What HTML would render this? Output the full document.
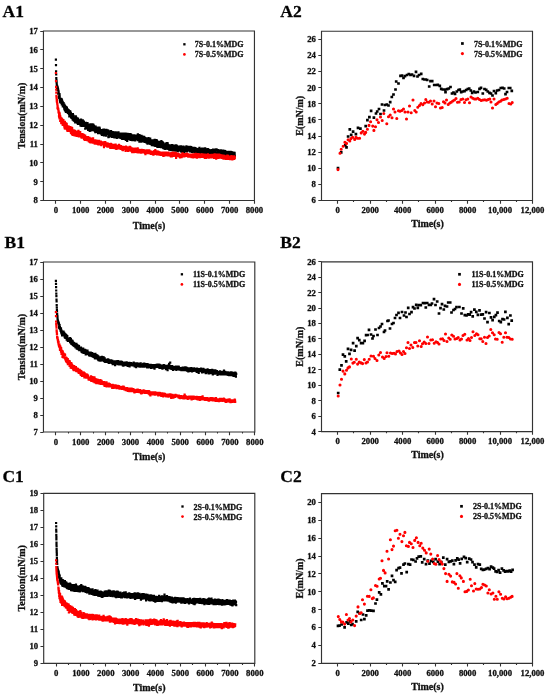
<!DOCTYPE html>
<html><head><meta charset="utf-8"><style>
html,body{margin:0;padding:0;background:#fff;width:550px;height:698px;overflow:hidden}
svg{display:block}
#w{will-change:transform;width:550px;height:698px}
text{font-family:"Liberation Serif", serif;font-weight:bold;fill:#111;stroke:#111;stroke-width:0.3px}
.tk{font-size:8.7px}
.at{font-size:10px}
.lg{font-size:8px}
.pl{font-size:17.5px;fill:#000}
</style></head><body>
<div id="w"><svg width="550" height="698" viewBox="0 0 550 698">
<rect width="550" height="698" fill="#fff"/>
<path d="M55.9,59.6h0M56.0,65.1h0M56.1,71.4h0M56.2,74.3h0M56.3,78.2h0M56.4,80.8h0M56.5,80.4h0M56.6,82.1h0M56.7,83.3h0M56.8,85.8h0M56.9,85.6h0M57.0,85.6h0M57.1,88.5h0M57.2,86.7h0M57.4,89.4h0M57.5,88.7h0M57.6,86.9h0M57.7,90.2h0M57.8,88.0h0M58.0,88.9h0M58.1,93.5h0M58.2,89.9h0M58.3,93.7h0M58.5,92.6h0M58.6,91.4h0M58.7,92.9h0M58.8,96.9h0M59.0,96.4h0M59.1,97.4h0M59.2,98.0h0M59.3,97.6h0M59.5,94.0h0M59.6,95.3h0M59.7,96.6h0M59.8,99.4h0M60.0,100.2h0M60.1,101.3h0M60.2,99.2h0M60.3,101.9h0M60.5,101.1h0M60.6,101.3h0M60.7,102.6h0M60.8,100.7h0M61.0,99.5h0M61.1,98.9h0M61.2,101.7h0M61.3,100.5h0M61.4,102.0h0M61.6,99.8h0M61.7,99.4h0M61.8,104.5h0M61.9,100.4h0M62.1,104.0h0M62.2,100.8h0M62.3,102.8h0M62.4,103.0h0M62.6,102.6h0M62.7,102.2h0M62.8,106.3h0M62.9,105.3h0M63.1,105.5h0M63.2,106.0h0M63.3,103.5h0M63.4,103.4h0M63.6,103.2h0M63.7,105.6h0M63.8,106.0h0M63.9,106.3h0M64.1,106.8h0M64.2,107.7h0M64.3,104.6h0M64.4,109.1h0M64.6,107.3h0M64.7,105.5h0M64.8,109.3h0M64.9,109.2h0M65.0,110.5h0M65.2,106.1h0M65.3,107.8h0M65.4,108.7h0M65.5,107.5h0M65.7,110.6h0M65.8,107.2h0M65.9,111.9h0M66.0,107.0h0M66.2,109.0h0M66.3,111.6h0M66.4,111.0h0M66.5,112.0h0M66.7,111.4h0M66.8,108.8h0M66.9,107.6h0M67.0,111.0h0M67.2,109.0h0M67.3,110.4h0M67.4,110.0h0M67.5,111.6h0M67.7,109.5h0M67.8,113.0h0M67.9,110.8h0M68.0,111.5h0M68.1,110.5h0M68.3,111.1h0M68.4,110.2h0M68.5,111.1h0M68.6,111.5h0M68.8,110.6h0M68.9,114.0h0M69.0,113.8h0M69.1,111.7h0M69.3,116.3h0M69.4,112.5h0M69.5,114.8h0M69.6,111.1h0M69.8,115.5h0M69.9,113.4h0M70.0,111.6h0M70.1,114.0h0M70.3,116.1h0M70.4,111.6h0M70.5,113.3h0M70.6,113.1h0M70.8,116.2h0M70.9,113.4h0M71.0,114.9h0M71.1,117.4h0M71.3,117.2h0M71.4,117.2h0M71.5,116.4h0M71.6,114.6h0M71.7,116.7h0M71.9,117.9h0M72.0,116.0h0M72.1,117.7h0M72.2,117.4h0M72.4,114.6h0M72.5,115.6h0M72.6,119.4h0M72.7,118.9h0M72.9,114.1h0M73.0,115.7h0M73.1,119.7h0M73.2,116.4h0M73.4,115.7h0M73.5,116.0h0M73.6,117.5h0M73.7,120.4h0M73.9,118.0h0M74.0,118.4h0M74.1,120.6h0M74.2,118.9h0M74.4,118.7h0M74.5,118.3h0M74.6,119.7h0M74.7,120.1h0M74.9,121.1h0M75.0,120.3h0M75.1,120.1h0M75.2,122.4h0M75.3,117.9h0M75.5,119.3h0M75.6,120.0h0M75.7,118.1h0M75.8,116.4h0M76.0,120.7h0M76.1,121.6h0M76.2,117.7h0M76.3,118.4h0M76.5,118.0h0M76.6,120.8h0M76.7,118.3h0M76.8,121.7h0M77.0,119.7h0M77.1,121.7h0M77.2,122.7h0M77.3,119.5h0M77.5,119.4h0M77.6,120.8h0M77.7,123.4h0M77.8,119.2h0M78.0,118.6h0M78.1,123.9h0M78.2,121.6h0M78.3,122.9h0M78.5,119.9h0M78.6,119.9h0M78.7,120.8h0M78.8,121.6h0M78.9,123.6h0M79.1,123.4h0M79.2,124.0h0M79.3,123.5h0M79.4,123.3h0M79.6,120.4h0M79.7,120.3h0M79.8,124.0h0M79.9,122.9h0M80.1,120.6h0M80.2,123.5h0M80.3,120.9h0M80.4,124.7h0M80.6,125.6h0M80.7,121.9h0M80.8,124.7h0M80.9,121.2h0M81.1,119.6h0M81.2,124.2h0M81.3,121.8h0M81.4,123.3h0M81.6,121.3h0M81.7,125.2h0M81.8,124.7h0M81.9,125.9h0M82.1,124.8h0M82.2,125.2h0M82.3,121.3h0M82.4,121.2h0M82.5,122.6h0M82.7,123.4h0M82.8,120.4h0M82.9,123.8h0M83.0,125.9h0M83.2,123.2h0M83.3,123.8h0M83.4,125.7h0M83.5,125.4h0M83.7,122.2h0M83.8,122.0h0M83.9,121.7h0M84.0,124.1h0M84.2,124.6h0M84.3,123.4h0M84.4,124.2h0M84.5,125.8h0M84.7,124.2h0M84.8,125.5h0M84.9,122.9h0M85.0,124.3h0M85.2,128.7h0M85.3,123.1h0M85.4,122.8h0M85.5,124.0h0M85.7,123.3h0M85.8,126.2h0M85.9,127.5h0M86.0,122.8h0M86.1,124.6h0M86.3,125.5h0M86.4,128.4h0M86.5,126.3h0M86.6,126.3h0M86.8,123.6h0M86.9,124.3h0M87.0,127.4h0M87.1,123.8h0M87.3,126.0h0M87.4,126.6h0M87.5,123.2h0M87.6,126.1h0M87.8,125.4h0M87.9,125.5h0M88.0,124.6h0M88.1,130.0h0M88.3,127.5h0M88.4,129.6h0M88.5,127.1h0M88.6,127.2h0M88.8,125.4h0M88.9,125.8h0M89.0,126.9h0M89.1,128.2h0M89.2,126.4h0M89.4,129.3h0M89.5,129.1h0M89.6,128.8h0M89.7,130.8h0M89.9,130.4h0M90.0,126.3h0M90.1,124.7h0M90.2,126.2h0M90.4,125.8h0M90.5,127.2h0M90.6,125.5h0M90.7,124.4h0M90.9,125.0h0M91.0,127.7h0M91.1,125.6h0M91.2,125.9h0M91.4,128.4h0M91.5,130.4h0M91.6,126.6h0M91.7,128.2h0M91.9,124.9h0M92.0,125.6h0M92.1,127.5h0M92.2,125.6h0M92.4,130.0h0M92.5,129.1h0M92.6,124.3h0M92.7,128.7h0M92.8,127.3h0M93.0,129.1h0M93.1,127.9h0M93.2,129.3h0M93.3,127.8h0M93.5,124.9h0M93.6,129.2h0M93.7,127.5h0M93.8,128.3h0M94.0,129.7h0M94.1,126.1h0M94.2,127.0h0M94.3,126.9h0M94.5,129.3h0M94.6,130.8h0M94.7,126.7h0M94.8,127.8h0M95.0,128.3h0M95.1,128.8h0M95.2,129.9h0M95.3,132.1h0M95.5,129.2h0M95.6,126.7h0M95.7,126.5h0M95.8,132.0h0M96.0,128.6h0M96.1,127.8h0M96.2,129.3h0M96.3,129.6h0M96.4,128.1h0M96.6,131.5h0M96.7,129.3h0M96.8,130.1h0M96.9,130.4h0M97.1,130.4h0M97.2,129.7h0M97.3,128.4h0M97.4,128.5h0M97.6,128.9h0M97.7,130.3h0M97.8,129.5h0M97.9,132.2h0M98.1,133.2h0M98.2,129.5h0M98.3,127.5h0M98.4,132.2h0M98.6,129.0h0M98.7,128.9h0M98.8,131.4h0M98.9,130.6h0M99.1,132.0h0M99.2,127.7h0M99.3,129.1h0M99.4,127.5h0M99.6,128.1h0M99.7,132.5h0M99.8,133.0h0M99.9,129.4h0M100.0,133.2h0M100.2,132.0h0M100.3,131.8h0M100.4,133.0h0M100.5,132.8h0M100.7,131.6h0M100.8,130.4h0M100.9,131.5h0M101.0,132.8h0M101.2,133.7h0M101.3,130.3h0M101.4,130.6h0M101.5,132.5h0M101.7,130.2h0M101.8,132.3h0M101.9,135.0h0M102.0,133.8h0M102.2,133.7h0M102.3,134.4h0M102.4,132.2h0M102.5,130.1h0M102.7,133.7h0M102.8,131.5h0M102.9,132.6h0M103.0,130.0h0M103.2,131.4h0M103.3,130.2h0M103.4,129.7h0M103.5,130.5h0M103.6,130.3h0M103.8,133.4h0M103.9,135.4h0M104.0,129.6h0M104.1,135.1h0M104.3,131.7h0M104.4,131.5h0M104.5,133.7h0M104.6,132.0h0M104.8,130.4h0M104.9,130.8h0M105.0,131.1h0M105.1,130.7h0M105.3,130.5h0M105.4,130.9h0M105.5,132.2h0M105.6,135.5h0M105.8,130.7h0M105.9,132.8h0M106.0,135.1h0M106.1,135.7h0M106.3,129.9h0M106.4,129.8h0M106.5,134.6h0M106.6,131.0h0M106.8,132.8h0M106.9,133.5h0M107.0,133.0h0M107.1,132.5h0M107.2,134.4h0M107.4,130.8h0M107.5,130.4h0M107.6,131.2h0M107.7,132.5h0M107.9,134.0h0M108.0,133.4h0M108.1,131.6h0M108.2,130.7h0M108.4,137.1h0M108.5,132.2h0M108.6,132.6h0M108.7,131.9h0M108.9,131.9h0M109.0,136.6h0M109.1,132.5h0M109.2,135.5h0M109.4,135.4h0M109.5,132.3h0M109.6,131.4h0M109.7,132.2h0M109.9,133.7h0M110.0,133.9h0M110.1,132.5h0M110.2,133.1h0M110.3,135.8h0M110.5,132.9h0M110.6,133.4h0M110.7,135.1h0M110.8,136.0h0M111.0,135.6h0M111.1,131.0h0M111.2,133.2h0M111.3,135.7h0M111.5,133.9h0M111.6,134.9h0M111.7,137.0h0M111.8,135.1h0M112.0,134.1h0M112.1,134.0h0M112.2,136.4h0M112.3,135.9h0M112.5,136.7h0M112.6,132.3h0M112.7,132.1h0M112.8,132.5h0M113.0,133.0h0M113.1,135.0h0M113.2,134.1h0M113.3,135.6h0M113.5,136.8h0M113.6,134.4h0M113.7,132.4h0M113.8,135.0h0M113.9,134.9h0M114.1,136.4h0M114.2,135.4h0M114.3,133.3h0M114.4,137.3h0M114.6,133.8h0M114.7,136.7h0M114.8,132.3h0M114.9,134.0h0M115.1,135.6h0M115.2,135.4h0M115.3,134.9h0M115.4,132.9h0M115.6,132.4h0M115.7,132.7h0M115.8,133.6h0M115.9,134.9h0M116.1,133.0h0M116.2,132.7h0M116.3,134.1h0M116.4,132.7h0M116.6,136.1h0M116.7,137.3h0M116.8,137.8h0M116.9,136.2h0M117.1,136.3h0M117.2,136.9h0M117.3,136.9h0M117.4,136.2h0M117.5,134.0h0M117.7,133.9h0M117.8,133.3h0M117.9,137.1h0M118.0,137.3h0M118.2,137.1h0M118.3,136.6h0M118.4,136.4h0M118.5,132.4h0M118.7,134.3h0M118.8,133.6h0M118.9,133.7h0M119.0,134.9h0M119.2,136.9h0M119.3,135.7h0M119.4,135.2h0M119.5,134.3h0M119.7,137.0h0M119.8,134.1h0M119.9,133.7h0M120.0,137.2h0M120.2,134.2h0M120.3,135.9h0M120.4,137.6h0M120.5,138.0h0M120.7,137.8h0M120.8,135.9h0M120.9,137.8h0M121.0,136.7h0M121.1,135.0h0M121.3,136.1h0M121.4,133.7h0M121.5,134.2h0M121.6,135.3h0M121.8,138.4h0M121.9,137.0h0M122.0,138.0h0M122.1,134.5h0M122.3,138.8h0M122.4,134.7h0M122.5,139.0h0M122.6,137.2h0M122.8,138.7h0M122.9,135.1h0M123.0,135.6h0M123.1,134.8h0M123.3,137.0h0M123.4,135.3h0M123.5,135.0h0M123.6,133.7h0M123.8,135.1h0M123.9,134.6h0M124.0,138.8h0M124.1,136.4h0M124.3,135.2h0M124.4,134.4h0M124.5,137.3h0M124.6,136.4h0M124.7,133.6h0M124.9,137.2h0M125.0,138.7h0M125.1,139.1h0M125.2,139.1h0M125.4,134.7h0M125.5,134.8h0M125.6,133.7h0M125.7,138.2h0M125.9,137.5h0M126.0,139.9h0M126.1,135.4h0M126.2,138.8h0M126.4,134.1h0M126.5,139.7h0M126.6,139.3h0M126.7,139.4h0M126.9,137.6h0M127.0,138.1h0M127.1,135.2h0M127.2,141.0h0M127.4,136.1h0M127.5,133.9h0M127.6,136.0h0M127.7,138.8h0M127.9,136.3h0M128.0,138.7h0M128.1,136.4h0M128.2,138.0h0M128.3,138.9h0M128.5,136.2h0M128.6,136.5h0M128.7,135.3h0M128.8,134.0h0M129.0,139.1h0M129.1,138.2h0M129.2,134.7h0M129.3,136.8h0M129.5,135.3h0M129.6,134.6h0M129.7,138.7h0M129.8,137.1h0M130.0,138.1h0M130.1,134.8h0M130.2,137.7h0M130.3,134.2h0M130.5,139.8h0M130.6,139.2h0M130.7,138.3h0M130.8,138.5h0M131.0,137.5h0M131.1,134.5h0M131.2,137.7h0M131.3,135.6h0M131.4,138.6h0M131.6,140.0h0M131.7,139.7h0M131.8,137.6h0M131.9,137.8h0M132.1,135.5h0M132.2,135.4h0M132.3,140.2h0M132.4,136.0h0M132.6,137.0h0M132.7,137.8h0M132.8,137.6h0M132.9,138.9h0M133.1,136.7h0M133.2,138.8h0M133.3,136.8h0M133.4,139.6h0M133.6,138.6h0M133.7,138.2h0M133.8,138.7h0M133.9,135.7h0M134.1,135.3h0M134.2,140.2h0M134.3,136.5h0M134.4,136.2h0M134.6,136.9h0M134.7,139.3h0M134.8,137.5h0M134.9,136.1h0M135.0,139.6h0M135.2,140.4h0M135.3,138.8h0M135.4,137.2h0M135.5,135.8h0M135.7,135.7h0M135.8,138.6h0M135.9,136.4h0M136.0,135.7h0M136.2,136.4h0M136.3,138.4h0M136.4,138.5h0M136.5,139.3h0M136.7,135.7h0M136.8,135.8h0M136.9,136.4h0M137.0,138.6h0M137.2,137.7h0M137.3,135.6h0M137.4,138.9h0M137.5,139.3h0M137.7,138.6h0M137.8,134.8h0M137.9,134.4h0M138.0,140.1h0M138.2,136.5h0M138.3,137.4h0M138.4,138.4h0M138.5,139.1h0M138.6,138.0h0M138.8,138.9h0M138.9,137.3h0M139.0,137.6h0M139.1,139.5h0M139.3,138.8h0M139.4,141.6h0M139.5,135.2h0M139.6,140.0h0M139.8,136.0h0M139.9,139.2h0M140.0,136.8h0M140.1,138.0h0M140.3,139.3h0M140.4,138.2h0M140.5,138.9h0M140.6,136.0h0M140.8,139.8h0M140.9,141.6h0M141.0,138.3h0M141.1,141.3h0M141.3,137.4h0M141.4,137.6h0M141.5,135.9h0M141.6,138.0h0M141.8,141.5h0M141.9,138.8h0M142.0,139.7h0M142.1,137.7h0M142.2,137.0h0M142.4,140.2h0M142.5,136.6h0M142.6,140.8h0M142.7,140.7h0M142.9,137.3h0M143.0,137.8h0M143.1,140.4h0M143.2,139.0h0M143.4,138.3h0M143.5,138.4h0M143.6,137.8h0M143.7,141.3h0M143.9,138.4h0M144.0,139.5h0M144.1,136.9h0M144.2,137.8h0M144.4,139.5h0M144.5,137.8h0M144.6,141.5h0M144.7,142.0h0M144.9,140.4h0M145.0,137.9h0M145.1,139.7h0M145.2,141.2h0M145.4,139.4h0M145.5,141.5h0M145.6,140.3h0M145.7,139.7h0M145.8,139.1h0M146.0,141.4h0M146.1,138.3h0M146.2,141.3h0M146.3,139.6h0M146.5,142.5h0M146.6,142.4h0M146.7,142.6h0M146.8,142.1h0M147.0,141.9h0M147.1,140.4h0M147.2,139.1h0M147.3,141.9h0M147.5,143.7h0M147.6,139.4h0M147.7,138.8h0M147.8,140.1h0M148.0,143.2h0M148.1,141.2h0M148.2,140.0h0M148.3,141.2h0M148.5,138.1h0M148.6,142.4h0M148.7,140.7h0M148.8,139.4h0M148.9,140.9h0M149.1,141.7h0M149.2,143.4h0M149.3,142.4h0M149.4,142.0h0M149.6,140.0h0M149.7,140.7h0M149.8,140.9h0M149.9,139.1h0M150.1,140.0h0M150.2,138.7h0M150.3,143.8h0M150.4,143.1h0M150.6,142.1h0M150.7,142.0h0M150.8,142.8h0M150.9,142.1h0M151.1,144.0h0M151.2,140.6h0M151.3,144.2h0M151.4,140.4h0M151.6,143.9h0M151.7,142.7h0M151.8,141.1h0M151.9,145.1h0M152.1,144.9h0M152.2,140.5h0M152.3,141.1h0M152.4,144.1h0M152.5,143.9h0M152.7,140.3h0M152.8,143.0h0M152.9,145.2h0M153.0,143.6h0M153.2,144.3h0M153.3,142.1h0M153.4,142.0h0M153.5,143.1h0M153.7,141.5h0M153.8,145.4h0M153.9,140.9h0M154.0,141.4h0M154.2,142.8h0M154.3,142.8h0M154.4,143.6h0M154.5,141.1h0M154.7,139.9h0M154.8,140.2h0M154.9,142.7h0M155.0,140.6h0M155.2,141.2h0M155.3,145.8h0M155.4,144.2h0M155.5,144.2h0M155.7,143.1h0M155.8,144.2h0M155.9,140.8h0M156.0,142.9h0M156.1,144.6h0M156.3,140.2h0M156.4,141.8h0M156.5,144.1h0M156.6,143.4h0M156.8,141.5h0M156.9,140.7h0M157.0,141.4h0M157.1,145.0h0M157.3,141.7h0M157.4,146.8h0M157.5,142.8h0M157.6,143.0h0M157.8,143.6h0M157.9,143.9h0M158.0,143.3h0M158.1,146.7h0M158.3,143.6h0M158.4,146.5h0M158.5,141.9h0M158.6,146.5h0M158.8,146.2h0M158.9,144.0h0M159.0,145.8h0M159.1,146.0h0M159.3,145.9h0M159.4,146.4h0M159.5,147.0h0M159.6,143.5h0M159.7,146.2h0M159.9,144.4h0M160.0,144.3h0M160.1,142.6h0M160.2,143.3h0M160.4,144.1h0M160.5,141.8h0M160.6,144.4h0M160.7,143.9h0M160.9,146.0h0M161.0,147.2h0M161.1,146.9h0M161.2,144.4h0M161.4,141.0h0M161.5,147.1h0M161.6,144.0h0M161.7,145.8h0M161.9,144.8h0M162.0,142.4h0M162.1,145.6h0M162.2,143.0h0M162.4,144.2h0M162.5,142.2h0M162.6,145.6h0M162.7,145.5h0M162.9,147.3h0M163.0,143.2h0M163.1,144.9h0M163.2,143.4h0M163.3,147.9h0M163.5,143.3h0M163.6,147.0h0M163.7,145.7h0M163.8,148.4h0M164.0,145.2h0M164.1,146.2h0M164.2,144.8h0M164.3,148.0h0M164.5,148.2h0M164.6,147.4h0M164.7,148.0h0M164.8,146.8h0M165.0,147.1h0M165.1,144.5h0M165.2,148.9h0M165.3,146.4h0M165.5,146.0h0M165.6,144.3h0M165.7,147.2h0M165.8,144.6h0M166.0,148.1h0M166.1,147.9h0M166.2,143.6h0M166.3,146.9h0M166.5,143.4h0M166.6,144.4h0M166.7,146.7h0M166.8,146.6h0M166.9,148.6h0M167.1,143.1h0M167.2,144.9h0M167.3,146.4h0M167.4,146.4h0M167.6,144.8h0M167.7,143.4h0M167.8,146.5h0M167.9,145.2h0M168.1,145.2h0M168.2,146.5h0M168.3,147.9h0M168.4,149.0h0M168.6,146.6h0M168.7,146.9h0M168.8,146.9h0M168.9,147.1h0M169.1,145.8h0M169.2,149.6h0M169.3,149.6h0M169.4,148.5h0M169.6,146.5h0M169.7,145.5h0M169.8,149.3h0M169.9,147.3h0M170.1,145.4h0M170.2,149.2h0M170.3,147.3h0M170.4,149.1h0M170.5,149.9h0M170.7,149.4h0M170.8,146.3h0M170.9,148.6h0M171.0,149.4h0M171.2,145.8h0M171.3,150.2h0M171.4,149.8h0M171.5,148.0h0M171.7,148.1h0M171.8,147.1h0M171.9,147.2h0M172.0,146.5h0M172.2,145.2h0M172.3,147.8h0M172.4,148.1h0M172.5,149.5h0M172.7,149.6h0M172.8,147.9h0M172.9,146.7h0M173.0,146.3h0M173.2,148.1h0M173.3,148.4h0M173.4,150.4h0M173.5,145.7h0M173.6,149.9h0M173.8,147.9h0M173.9,148.7h0M174.0,145.5h0M174.1,149.1h0M174.3,149.0h0M174.4,147.7h0M174.5,147.7h0M174.6,146.7h0M174.8,146.9h0M174.9,146.9h0M175.0,147.6h0M175.1,146.7h0M175.3,148.6h0M175.4,148.7h0M175.5,146.7h0M175.6,150.7h0M175.8,148.0h0M175.9,147.0h0M176.0,148.7h0M176.1,145.4h0M176.3,148.3h0M176.4,148.4h0M176.5,145.6h0M176.6,146.3h0M176.8,146.1h0M176.9,146.9h0M177.0,148.2h0M177.1,148.2h0M177.2,147.5h0M177.4,148.9h0M177.5,148.9h0M177.6,149.3h0M177.7,151.2h0M177.9,147.6h0M178.0,149.5h0M178.1,149.3h0M178.2,148.8h0M178.4,149.8h0M178.5,146.8h0M178.6,150.7h0M178.7,148.4h0M178.9,146.5h0M179.0,149.3h0M179.1,148.8h0M179.2,149.0h0M179.4,147.5h0M179.5,148.9h0M179.6,149.0h0M179.7,148.8h0M179.9,149.3h0M180.0,146.9h0M180.1,147.4h0M180.2,147.5h0M180.4,148.9h0M180.5,148.4h0M180.6,146.3h0M180.7,150.3h0M180.8,148.8h0M181.0,146.3h0M181.1,151.5h0M181.2,150.6h0M181.3,149.1h0M181.5,147.3h0M181.6,149.2h0M181.7,149.2h0M181.8,150.0h0M182.0,151.6h0M182.1,146.8h0M182.2,146.9h0M182.3,150.6h0M182.5,152.1h0M182.6,150.1h0M182.7,150.1h0M182.8,147.8h0M183.0,149.5h0M183.1,150.4h0M183.2,150.0h0M183.3,148.9h0M183.5,146.7h0M183.6,150.0h0M183.7,149.4h0M183.8,149.8h0M184.0,147.9h0M184.1,150.1h0M184.2,147.4h0M184.3,151.8h0M184.4,150.4h0M184.6,148.0h0M184.7,149.2h0M184.8,147.4h0M184.9,150.2h0M185.1,149.6h0M185.2,150.9h0M185.3,149.8h0M185.4,150.4h0M185.6,149.5h0M185.7,150.6h0M185.8,149.2h0M185.9,150.0h0M186.1,147.9h0M186.2,150.4h0M186.3,149.5h0M186.4,146.4h0M186.6,150.7h0M186.7,149.1h0M186.8,151.3h0M186.9,147.5h0M187.1,150.9h0M187.2,148.8h0M187.3,148.4h0M187.4,148.7h0M187.6,148.9h0M187.7,148.0h0M187.8,149.8h0M187.9,146.9h0M188.0,147.9h0M188.2,149.8h0M188.3,148.6h0M188.4,150.5h0M188.5,147.4h0M188.7,148.4h0M188.8,150.4h0M188.9,147.5h0M189.0,149.6h0M189.2,148.0h0M189.3,149.2h0M189.4,149.7h0M189.5,149.0h0M189.7,149.8h0M189.8,149.5h0M189.9,151.4h0M190.0,149.8h0M190.2,146.9h0M190.3,148.5h0M190.4,150.9h0M190.5,148.0h0M190.7,151.1h0M190.8,147.1h0M190.9,147.9h0M191.0,147.2h0M191.1,149.6h0M191.3,148.0h0M191.4,147.6h0M191.5,150.2h0M191.6,148.5h0M191.8,147.7h0M191.9,152.0h0M192.0,149.6h0M192.1,149.4h0M192.3,150.0h0M192.4,151.3h0M192.5,150.4h0M192.6,148.3h0M192.8,149.6h0M192.9,151.3h0M193.0,150.4h0M193.1,149.4h0M193.3,151.4h0M193.4,151.7h0M193.5,149.3h0M193.6,149.0h0M193.8,150.9h0M193.9,150.6h0M194.0,149.9h0M194.1,147.9h0M194.3,147.9h0M194.4,151.6h0M194.5,151.8h0M194.6,152.5h0M194.7,152.4h0M194.9,149.9h0M195.0,151.9h0M195.1,149.5h0M195.2,149.1h0M195.4,150.7h0M195.5,148.2h0M195.6,150.7h0M195.7,151.0h0M195.9,150.2h0M196.0,149.9h0M196.1,153.0h0M196.2,149.8h0M196.4,151.8h0M196.5,152.6h0M196.6,153.3h0M196.7,150.1h0M196.9,153.2h0M197.0,149.2h0M197.1,150.7h0M197.2,150.6h0M197.4,151.2h0M197.5,152.0h0M197.6,150.3h0M197.7,152.0h0M197.9,152.5h0M198.0,150.4h0M198.1,150.9h0M198.2,152.4h0M198.3,149.8h0M198.5,151.4h0M198.6,148.8h0M198.7,149.4h0M198.8,150.9h0M199.0,149.9h0M199.1,149.8h0M199.2,150.7h0M199.3,148.9h0M199.5,147.8h0M199.6,151.0h0M199.7,149.7h0M199.8,149.3h0M200.0,150.0h0M200.1,150.7h0M200.2,153.0h0M200.3,151.1h0M200.5,150.8h0M200.6,151.1h0M200.7,151.2h0M200.8,152.0h0M201.0,150.7h0M201.1,151.2h0M201.2,151.0h0M201.3,151.0h0M201.5,150.3h0M201.6,151.3h0M201.7,149.1h0M201.8,150.1h0M201.9,152.4h0M202.1,148.5h0M202.2,150.8h0M202.3,148.6h0M202.4,152.5h0M202.6,149.9h0M202.7,150.0h0M202.8,152.5h0M202.9,152.6h0M203.1,150.9h0M203.2,150.2h0M203.3,152.7h0M203.4,153.5h0M203.6,152.9h0M203.7,149.8h0M203.8,148.7h0M203.9,151.2h0M204.1,149.8h0M204.2,149.9h0M204.3,153.2h0M204.4,150.2h0M204.6,150.0h0M204.7,149.3h0M204.8,151.9h0M204.9,153.4h0M205.1,153.4h0M205.2,148.3h0M205.3,151.8h0M205.4,153.2h0M205.5,152.2h0M205.7,152.7h0M205.8,152.3h0M205.9,152.4h0M206.0,149.7h0M206.2,153.1h0M206.3,149.6h0M206.4,152.2h0M206.5,149.3h0M206.7,152.1h0M206.8,152.7h0M206.9,151.4h0M207.0,153.0h0M207.2,151.1h0M207.3,150.8h0M207.4,152.3h0M207.5,150.5h0M207.7,149.2h0M207.8,153.6h0M207.9,149.3h0M208.0,150.9h0M208.2,150.7h0M208.3,151.3h0M208.4,153.8h0M208.5,154.6h0M208.7,151.9h0M208.8,152.5h0M208.9,149.8h0M209.0,153.3h0M209.1,151.7h0M209.3,152.3h0M209.4,153.7h0M209.5,150.3h0M209.6,154.1h0M209.8,154.0h0M209.9,153.2h0M210.0,153.9h0M210.1,153.7h0M210.3,150.8h0M210.4,154.3h0M210.5,153.9h0M210.6,154.0h0M210.8,152.6h0M210.9,154.2h0M211.0,151.6h0M211.1,153.7h0M211.3,154.2h0M211.4,152.5h0M211.5,154.3h0M211.6,150.0h0M211.8,154.4h0M211.9,152.7h0M212.0,152.1h0M212.1,153.4h0M212.2,154.5h0M212.4,152.3h0M212.5,153.8h0M212.6,151.2h0M212.7,150.5h0M212.9,151.6h0M213.0,150.4h0M213.1,149.6h0M213.2,152.4h0M213.4,150.2h0M213.5,152.7h0M213.6,151.5h0M213.7,152.3h0M213.9,150.2h0M214.0,153.5h0M214.1,151.7h0M214.2,149.5h0M214.4,151.1h0M214.5,151.7h0M214.6,151.2h0M214.7,150.1h0M214.9,153.1h0M215.0,150.5h0M215.1,150.7h0M215.2,150.4h0M215.4,154.4h0M215.5,151.2h0M215.6,153.9h0M215.7,155.1h0M215.8,154.0h0M216.0,154.8h0M216.1,154.5h0M216.2,153.7h0M216.3,149.3h0M216.5,150.1h0M216.6,153.1h0M216.7,149.6h0M216.8,153.4h0M217.0,152.9h0M217.1,153.6h0M217.2,153.1h0M217.3,154.1h0M217.5,153.4h0M217.6,154.0h0M217.7,153.3h0M217.8,151.4h0M218.0,150.9h0M218.1,154.9h0M218.2,150.3h0M218.3,150.2h0M218.5,151.8h0M218.6,151.0h0M218.7,151.9h0M218.8,153.7h0M219.0,154.8h0M219.1,150.8h0M219.2,155.2h0M219.3,152.8h0M219.4,153.1h0M219.6,152.5h0M219.7,151.6h0M219.8,152.4h0M219.9,152.1h0M220.1,152.4h0M220.2,152.7h0M220.3,153.1h0M220.4,153.4h0M220.6,151.6h0M220.7,154.9h0M220.8,150.4h0M220.9,153.3h0M221.1,155.9h0M221.2,154.7h0M221.3,152.9h0M221.4,154.6h0M221.6,150.6h0M221.7,153.7h0M221.8,151.8h0M221.9,152.0h0M222.1,154.5h0M222.2,152.9h0M222.3,153.4h0M222.4,152.7h0M222.6,152.8h0M222.7,153.1h0M222.8,154.5h0M222.9,151.7h0M223.0,150.7h0M223.2,154.3h0M223.3,152.6h0M223.4,152.8h0M223.5,156.0h0M223.7,152.3h0M223.8,151.3h0M223.9,153.3h0M224.0,152.7h0M224.2,153.1h0M224.3,150.9h0M224.4,154.1h0M224.5,155.1h0M224.7,152.6h0M224.8,152.2h0M224.9,151.0h0M225.0,151.9h0M225.2,151.9h0M225.3,155.2h0M225.4,154.7h0M225.5,152.8h0M225.7,154.3h0M225.8,151.6h0M225.9,153.2h0M226.0,152.5h0M226.2,152.1h0M226.3,152.7h0M226.4,153.0h0M226.5,157.0h0M226.6,155.3h0M226.8,153.5h0M226.9,152.2h0M227.0,153.3h0M227.1,153.9h0M227.3,152.9h0M227.4,153.5h0M227.5,153.9h0M227.6,153.1h0M227.8,154.0h0M227.9,152.8h0M228.0,155.1h0M228.1,153.4h0M228.3,151.9h0M228.4,155.0h0M228.5,155.0h0M228.6,152.0h0M228.8,152.0h0M228.9,152.4h0M229.0,153.7h0M229.1,154.4h0M229.3,155.3h0M229.4,154.8h0M229.5,153.5h0M229.6,152.6h0M229.8,152.7h0M229.9,155.5h0M230.0,154.0h0M230.1,154.4h0M230.2,154.7h0M230.4,154.7h0M230.5,155.1h0M230.6,151.8h0M230.7,156.3h0M230.9,155.0h0M231.0,156.1h0M231.1,155.2h0M231.2,155.6h0M231.4,156.4h0M231.5,152.1h0M231.6,152.2h0M231.7,154.9h0M231.9,153.0h0M232.0,154.0h0M232.1,154.9h0M232.2,153.0h0M232.4,152.9h0M232.5,152.9h0M232.6,152.9h0M232.7,154.5h0M232.9,155.4h0M233.0,153.6h0M233.1,153.9h0M233.2,155.3h0M233.4,152.6h0M233.5,156.0h0M233.6,155.2h0M233.7,156.2h0M233.8,156.4h0M234.0,154.4h0M234.1,153.5h0M234.2,157.3h0M234.3,154.5h0M234.5,154.5h0M234.6,152.8h0M234.7,154.6h0M234.8,156.0h0" stroke="#000" stroke-width="2.2" stroke-linecap="square" fill="none"/>
<path d="M55.9,73.0h0M56.0,81.2h0M56.1,86.9h0M56.2,89.7h0M56.3,92.6h0M56.4,95.9h0M56.5,97.3h0M56.6,97.7h0M56.7,99.4h0M56.8,101.4h0M56.9,100.2h0M57.0,101.4h0M57.1,101.9h0M57.2,103.4h0M57.4,104.4h0M57.5,107.9h0M57.6,106.2h0M57.7,108.5h0M57.8,107.6h0M58.0,108.6h0M58.1,109.0h0M58.2,109.5h0M58.3,108.8h0M58.5,112.0h0M58.6,110.9h0M58.7,112.0h0M58.8,113.0h0M59.0,115.8h0M59.1,114.0h0M59.2,117.2h0M59.3,116.4h0M59.5,112.8h0M59.6,118.5h0M59.7,114.1h0M59.8,117.3h0M60.0,118.0h0M60.1,115.8h0M60.2,120.8h0M60.3,116.6h0M60.5,120.8h0M60.6,117.8h0M60.7,120.8h0M60.8,119.9h0M61.0,120.9h0M61.1,119.8h0M61.2,122.7h0M61.3,118.4h0M61.4,123.1h0M61.6,121.3h0M61.7,120.9h0M61.8,118.8h0M61.9,122.0h0M62.1,121.7h0M62.2,121.5h0M62.3,119.7h0M62.4,122.0h0M62.6,123.6h0M62.7,124.9h0M62.8,124.9h0M62.9,121.7h0M63.1,122.2h0M63.2,122.1h0M63.3,120.8h0M63.4,120.0h0M63.6,124.7h0M63.7,121.9h0M63.8,123.8h0M63.9,122.4h0M64.1,123.3h0M64.2,122.6h0M64.3,126.3h0M64.4,125.6h0M64.6,127.4h0M64.7,122.6h0M64.8,128.5h0M64.9,121.8h0M65.0,123.7h0M65.2,124.9h0M65.3,128.2h0M65.4,126.7h0M65.5,128.6h0M65.7,126.9h0M65.8,123.3h0M65.9,123.3h0M66.0,127.8h0M66.2,128.4h0M66.3,126.5h0M66.4,128.5h0M66.5,124.1h0M66.7,123.9h0M66.8,125.7h0M66.9,126.6h0M67.0,129.5h0M67.2,129.7h0M67.3,126.4h0M67.4,128.2h0M67.5,130.9h0M67.7,126.4h0M67.8,126.3h0M67.9,130.3h0M68.0,130.8h0M68.1,130.0h0M68.3,129.8h0M68.4,130.5h0M68.5,128.0h0M68.6,127.1h0M68.8,126.7h0M68.9,130.2h0M69.0,128.6h0M69.1,127.6h0M69.3,129.5h0M69.4,128.1h0M69.5,128.2h0M69.6,130.9h0M69.8,128.7h0M69.9,130.0h0M70.0,130.5h0M70.1,127.9h0M70.3,128.4h0M70.4,127.0h0M70.5,128.2h0M70.6,129.7h0M70.8,132.2h0M70.9,130.4h0M71.0,133.1h0M71.1,131.1h0M71.3,130.2h0M71.4,131.9h0M71.5,129.7h0M71.6,131.9h0M71.7,132.8h0M71.9,127.8h0M72.0,132.7h0M72.1,133.8h0M72.2,128.4h0M72.4,130.3h0M72.5,130.9h0M72.6,134.9h0M72.7,131.1h0M72.9,133.9h0M73.0,132.3h0M73.1,134.8h0M73.2,133.8h0M73.4,133.0h0M73.5,131.4h0M73.6,131.7h0M73.7,130.3h0M73.9,132.7h0M74.0,133.8h0M74.1,133.3h0M74.2,135.0h0M74.4,133.2h0M74.5,131.2h0M74.6,135.3h0M74.7,135.4h0M74.9,130.8h0M75.0,134.7h0M75.1,132.8h0M75.2,135.2h0M75.3,133.3h0M75.5,134.3h0M75.6,133.4h0M75.7,132.3h0M75.8,132.2h0M76.0,133.6h0M76.1,132.1h0M76.2,131.6h0M76.3,133.1h0M76.5,135.2h0M76.6,136.0h0M76.7,135.8h0M76.8,134.3h0M77.0,135.1h0M77.1,136.0h0M77.2,132.6h0M77.3,135.1h0M77.5,131.5h0M77.6,135.8h0M77.7,135.1h0M77.8,133.0h0M78.0,135.3h0M78.1,132.5h0M78.2,133.6h0M78.3,132.3h0M78.5,130.9h0M78.6,133.5h0M78.7,132.0h0M78.8,136.4h0M78.9,132.2h0M79.1,132.1h0M79.2,133.0h0M79.3,132.3h0M79.4,133.0h0M79.6,132.9h0M79.7,132.4h0M79.8,136.1h0M79.9,134.4h0M80.1,133.4h0M80.2,132.1h0M80.3,135.5h0M80.4,135.5h0M80.6,135.7h0M80.7,135.8h0M80.8,136.1h0M80.9,135.9h0M81.1,134.5h0M81.2,134.6h0M81.3,136.9h0M81.4,134.8h0M81.6,137.7h0M81.7,137.5h0M81.8,134.2h0M81.9,135.6h0M82.1,135.9h0M82.2,136.4h0M82.3,135.0h0M82.4,137.7h0M82.5,135.5h0M82.7,137.0h0M82.8,134.4h0M82.9,137.7h0M83.0,135.4h0M83.2,136.7h0M83.3,137.6h0M83.4,135.1h0M83.5,136.7h0M83.7,134.9h0M83.8,135.2h0M83.9,137.6h0M84.0,139.2h0M84.2,137.1h0M84.3,137.1h0M84.4,137.1h0M84.5,138.8h0M84.7,138.3h0M84.8,138.9h0M84.9,139.8h0M85.0,138.3h0M85.2,135.6h0M85.3,139.8h0M85.4,138.2h0M85.5,138.7h0M85.7,137.2h0M85.8,139.2h0M85.9,139.3h0M86.0,137.2h0M86.1,139.1h0M86.3,137.9h0M86.4,138.9h0M86.5,139.1h0M86.6,138.0h0M86.8,137.7h0M86.9,137.8h0M87.0,138.5h0M87.1,138.8h0M87.3,140.2h0M87.4,138.8h0M87.5,137.5h0M87.6,139.2h0M87.8,138.1h0M87.9,137.7h0M88.0,137.2h0M88.1,137.2h0M88.3,140.4h0M88.4,139.3h0M88.5,139.3h0M88.6,139.7h0M88.8,140.0h0M88.9,141.5h0M89.0,141.2h0M89.1,139.9h0M89.2,138.3h0M89.4,141.2h0M89.5,137.9h0M89.6,140.5h0M89.7,139.9h0M89.9,140.9h0M90.0,142.0h0M90.1,141.8h0M90.2,141.1h0M90.4,141.8h0M90.5,142.3h0M90.6,138.7h0M90.7,140.0h0M90.9,142.0h0M91.0,140.2h0M91.1,141.0h0M91.2,140.5h0M91.4,142.0h0M91.5,139.8h0M91.6,142.0h0M91.7,140.9h0M91.9,138.7h0M92.0,141.6h0M92.1,141.3h0M92.2,139.7h0M92.4,140.4h0M92.5,139.2h0M92.6,138.8h0M92.7,140.5h0M92.8,142.6h0M93.0,142.5h0M93.1,138.4h0M93.2,140.7h0M93.3,141.6h0M93.5,141.1h0M93.6,140.8h0M93.7,141.3h0M93.8,142.7h0M94.0,141.4h0M94.1,142.0h0M94.2,142.4h0M94.3,142.6h0M94.5,140.6h0M94.6,143.4h0M94.7,141.3h0M94.8,141.1h0M95.0,140.3h0M95.1,141.9h0M95.2,142.1h0M95.3,143.6h0M95.5,142.7h0M95.6,143.6h0M95.7,141.4h0M95.8,143.6h0M96.0,143.0h0M96.1,142.9h0M96.2,141.9h0M96.3,140.7h0M96.4,141.9h0M96.6,141.6h0M96.7,142.0h0M96.8,142.0h0M96.9,141.9h0M97.1,143.2h0M97.2,142.3h0M97.3,143.4h0M97.4,143.4h0M97.6,143.5h0M97.7,143.9h0M97.8,141.0h0M97.9,143.5h0M98.1,142.6h0M98.2,141.9h0M98.3,140.9h0M98.4,144.3h0M98.6,141.4h0M98.7,143.9h0M98.8,142.3h0M98.9,144.2h0M99.1,140.9h0M99.2,142.3h0M99.3,143.5h0M99.4,144.0h0M99.6,142.1h0M99.7,143.0h0M99.8,141.7h0M99.9,143.1h0M100.0,142.4h0M100.2,141.6h0M100.3,142.6h0M100.4,143.1h0M100.5,142.5h0M100.7,143.2h0M100.8,141.7h0M100.9,144.6h0M101.0,141.9h0M101.2,144.0h0M101.3,143.1h0M101.4,145.2h0M101.5,142.9h0M101.7,143.6h0M101.8,143.1h0M101.9,143.6h0M102.0,143.1h0M102.2,143.3h0M102.3,144.1h0M102.4,143.0h0M102.5,143.4h0M102.7,142.4h0M102.8,142.4h0M102.9,143.0h0M103.0,143.9h0M103.2,143.6h0M103.3,142.8h0M103.4,143.1h0M103.5,143.4h0M103.6,143.4h0M103.8,142.5h0M103.9,142.8h0M104.0,147.2h0M104.1,145.4h0M104.3,143.9h0M104.4,142.9h0M104.5,144.2h0M104.6,144.1h0M104.8,142.0h0M104.9,142.2h0M105.0,143.0h0M105.1,142.9h0M105.3,145.3h0M105.4,142.4h0M105.5,144.4h0M105.6,145.0h0M105.8,145.2h0M105.9,145.5h0M106.0,143.9h0M106.1,144.8h0M106.3,143.9h0M106.4,144.1h0M106.5,145.8h0M106.6,145.9h0M106.8,144.2h0M106.9,145.6h0M107.0,145.0h0M107.1,143.5h0M107.2,145.6h0M107.4,146.6h0M107.5,145.8h0M107.6,143.3h0M107.7,144.5h0M107.9,145.3h0M108.0,144.1h0M108.1,146.1h0M108.2,146.6h0M108.4,145.2h0M108.5,146.4h0M108.6,146.0h0M108.7,146.7h0M108.9,144.2h0M109.0,145.9h0M109.1,144.1h0M109.2,144.8h0M109.4,144.4h0M109.5,144.9h0M109.6,144.2h0M109.7,146.5h0M109.9,144.9h0M110.0,146.4h0M110.1,146.4h0M110.2,146.4h0M110.3,147.8h0M110.5,147.3h0M110.6,145.9h0M110.7,143.8h0M110.8,146.0h0M111.0,145.6h0M111.1,146.5h0M111.2,146.1h0M111.3,144.1h0M111.5,145.7h0M111.6,145.6h0M111.7,145.2h0M111.8,147.1h0M112.0,145.3h0M112.1,147.9h0M112.2,145.7h0M112.3,147.9h0M112.5,147.2h0M112.6,145.4h0M112.7,146.4h0M112.8,145.9h0M113.0,147.0h0M113.1,145.8h0M113.2,147.3h0M113.3,145.0h0M113.5,146.9h0M113.6,145.0h0M113.7,144.8h0M113.8,147.3h0M113.9,147.5h0M114.1,144.9h0M114.2,146.1h0M114.3,147.9h0M114.4,147.5h0M114.6,145.9h0M114.7,145.5h0M114.8,148.2h0M114.9,146.2h0M115.1,147.4h0M115.2,146.2h0M115.3,147.1h0M115.4,144.8h0M115.6,144.5h0M115.7,146.4h0M115.8,147.7h0M115.9,146.6h0M116.1,148.5h0M116.2,146.7h0M116.3,145.6h0M116.4,148.9h0M116.6,146.1h0M116.7,147.6h0M116.8,146.1h0M116.9,145.8h0M117.1,147.0h0M117.2,147.4h0M117.3,146.4h0M117.4,146.5h0M117.5,147.7h0M117.7,145.8h0M117.8,146.6h0M117.9,147.5h0M118.0,145.8h0M118.2,146.0h0M118.3,148.5h0M118.4,146.4h0M118.5,146.0h0M118.7,146.3h0M118.8,146.3h0M118.9,146.3h0M119.0,144.8h0M119.2,147.9h0M119.3,148.0h0M119.4,146.2h0M119.5,147.5h0M119.7,148.3h0M119.8,146.2h0M119.9,145.8h0M120.0,147.0h0M120.2,146.2h0M120.3,146.0h0M120.4,148.2h0M120.5,148.6h0M120.7,147.3h0M120.8,148.2h0M120.9,146.2h0M121.0,148.9h0M121.1,146.3h0M121.3,148.5h0M121.4,147.8h0M121.5,148.8h0M121.6,147.6h0M121.8,148.1h0M121.9,148.7h0M122.0,148.0h0M122.1,149.3h0M122.3,147.0h0M122.4,148.5h0M122.5,148.5h0M122.6,147.7h0M122.8,149.9h0M122.9,150.1h0M123.0,148.4h0M123.1,148.7h0M123.3,146.8h0M123.4,148.3h0M123.5,148.9h0M123.6,147.6h0M123.8,147.5h0M123.9,147.7h0M124.0,148.2h0M124.1,147.0h0M124.3,148.2h0M124.4,147.9h0M124.5,149.0h0M124.6,148.7h0M124.7,148.4h0M124.9,148.7h0M125.0,147.2h0M125.1,149.2h0M125.2,148.4h0M125.4,148.2h0M125.5,149.5h0M125.6,150.9h0M125.7,149.2h0M125.9,148.0h0M126.0,146.7h0M126.1,150.2h0M126.2,148.7h0M126.4,147.9h0M126.5,147.4h0M126.6,149.8h0M126.7,147.8h0M126.9,147.7h0M127.0,150.0h0M127.1,147.4h0M127.2,148.9h0M127.4,148.5h0M127.5,149.3h0M127.6,149.3h0M127.7,147.8h0M127.9,149.1h0M128.0,150.8h0M128.1,149.4h0M128.2,148.3h0M128.3,147.5h0M128.5,149.6h0M128.6,150.4h0M128.7,148.5h0M128.8,148.0h0M129.0,149.5h0M129.1,147.7h0M129.2,148.8h0M129.3,147.6h0M129.5,148.0h0M129.6,149.7h0M129.7,146.9h0M129.8,147.5h0M130.0,146.8h0M130.1,148.5h0M130.2,149.8h0M130.3,148.7h0M130.5,149.9h0M130.6,147.6h0M130.7,150.5h0M130.8,150.6h0M131.0,150.5h0M131.1,148.4h0M131.2,150.3h0M131.3,149.9h0M131.4,149.9h0M131.6,149.3h0M131.7,148.4h0M131.8,149.1h0M131.9,151.2h0M132.1,148.8h0M132.2,152.2h0M132.3,151.3h0M132.4,149.4h0M132.6,150.0h0M132.7,150.3h0M132.8,148.6h0M132.9,151.1h0M133.1,149.8h0M133.2,152.0h0M133.3,152.0h0M133.4,150.5h0M133.6,149.8h0M133.7,152.2h0M133.8,149.6h0M133.9,149.4h0M134.1,150.9h0M134.2,150.2h0M134.3,151.3h0M134.4,151.1h0M134.6,151.0h0M134.7,150.2h0M134.8,150.8h0M134.9,151.4h0M135.0,149.7h0M135.2,148.5h0M135.3,152.0h0M135.4,149.7h0M135.5,150.9h0M135.7,149.9h0M135.8,149.6h0M135.9,151.9h0M136.0,148.8h0M136.2,150.1h0M136.3,151.4h0M136.4,149.5h0M136.5,150.8h0M136.7,151.2h0M136.8,152.2h0M136.9,150.3h0M137.0,151.8h0M137.2,150.8h0M137.3,150.2h0M137.4,149.7h0M137.5,149.3h0M137.7,148.4h0M137.8,149.2h0M137.9,150.8h0M138.0,151.6h0M138.2,151.6h0M138.3,152.5h0M138.4,152.0h0M138.5,151.7h0M138.6,151.7h0M138.8,149.9h0M138.9,151.1h0M139.0,151.3h0M139.1,152.0h0M139.3,150.2h0M139.4,151.0h0M139.5,151.9h0M139.6,151.1h0M139.8,150.1h0M139.9,150.3h0M140.0,150.3h0M140.1,152.4h0M140.3,151.7h0M140.4,151.3h0M140.5,152.4h0M140.6,152.1h0M140.8,150.2h0M140.9,150.2h0M141.0,152.7h0M141.1,150.8h0M141.3,150.0h0M141.4,151.2h0M141.5,151.0h0M141.6,149.9h0M141.8,150.4h0M141.9,150.7h0M142.0,151.0h0M142.1,150.3h0M142.2,150.1h0M142.4,151.8h0M142.5,151.1h0M142.6,152.3h0M142.7,151.9h0M142.9,151.1h0M143.0,150.2h0M143.1,152.4h0M143.2,151.5h0M143.4,151.5h0M143.5,151.9h0M143.6,150.1h0M143.7,151.1h0M143.9,151.3h0M144.0,152.2h0M144.1,150.7h0M144.2,150.8h0M144.4,152.4h0M144.5,152.5h0M144.6,151.6h0M144.7,150.5h0M144.9,151.5h0M145.0,152.6h0M145.1,152.8h0M145.2,151.0h0M145.4,154.1h0M145.5,151.7h0M145.6,152.9h0M145.7,151.9h0M145.8,152.2h0M146.0,151.1h0M146.1,152.5h0M146.2,150.9h0M146.3,151.4h0M146.5,151.5h0M146.6,150.7h0M146.7,150.3h0M146.8,150.8h0M147.0,153.2h0M147.1,152.2h0M147.2,152.1h0M147.3,150.3h0M147.5,152.8h0M147.6,150.7h0M147.7,151.0h0M147.8,151.0h0M148.0,151.4h0M148.1,151.0h0M148.2,151.6h0M148.3,152.6h0M148.5,152.5h0M148.6,152.5h0M148.7,151.8h0M148.8,152.1h0M148.9,152.3h0M149.1,151.6h0M149.2,151.9h0M149.3,150.4h0M149.4,151.7h0M149.6,153.3h0M149.7,151.4h0M149.8,151.5h0M149.9,151.8h0M150.1,151.4h0M150.2,151.7h0M150.3,152.3h0M150.4,152.6h0M150.6,152.3h0M150.7,151.7h0M150.8,153.1h0M150.9,151.5h0M151.1,153.8h0M151.2,152.6h0M151.3,152.1h0M151.4,153.3h0M151.6,152.4h0M151.7,151.9h0M151.8,153.5h0M151.9,153.2h0M152.1,153.3h0M152.2,152.1h0M152.3,151.8h0M152.4,153.8h0M152.5,153.3h0M152.7,152.8h0M152.8,154.2h0M152.9,153.0h0M153.0,153.2h0M153.2,152.1h0M153.3,154.3h0M153.4,152.5h0M153.5,154.6h0M153.7,152.5h0M153.8,152.5h0M153.9,151.8h0M154.0,151.5h0M154.2,152.5h0M154.3,151.2h0M154.4,151.5h0M154.5,152.8h0M154.7,152.9h0M154.8,153.4h0M154.9,153.9h0M155.0,151.3h0M155.2,153.1h0M155.3,150.2h0M155.4,153.4h0M155.5,152.2h0M155.7,152.6h0M155.8,152.2h0M155.9,154.0h0M156.0,153.4h0M156.1,152.0h0M156.3,151.8h0M156.4,152.0h0M156.5,153.4h0M156.6,151.3h0M156.8,152.6h0M156.9,154.3h0M157.0,152.4h0M157.1,152.1h0M157.3,154.3h0M157.4,152.5h0M157.5,152.9h0M157.6,153.4h0M157.8,152.6h0M157.9,153.7h0M158.0,154.5h0M158.1,151.6h0M158.3,153.4h0M158.4,153.1h0M158.5,153.6h0M158.6,152.0h0M158.8,153.6h0M158.9,153.5h0M159.0,153.1h0M159.1,154.1h0M159.3,152.7h0M159.4,152.4h0M159.5,154.4h0M159.6,154.6h0M159.7,152.3h0M159.9,152.9h0M160.0,153.8h0M160.1,154.6h0M160.2,154.6h0M160.4,153.0h0M160.5,153.9h0M160.6,153.2h0M160.7,154.2h0M160.9,154.9h0M161.0,155.0h0M161.1,154.1h0M161.2,154.0h0M161.4,153.6h0M161.5,154.7h0M161.6,154.2h0M161.7,154.0h0M161.9,154.3h0M162.0,153.3h0M162.1,153.8h0M162.2,152.6h0M162.4,153.9h0M162.5,153.4h0M162.6,154.3h0M162.7,153.8h0M162.9,152.5h0M163.0,153.3h0M163.1,155.3h0M163.2,153.5h0M163.3,154.3h0M163.5,156.0h0M163.6,155.1h0M163.7,153.8h0M163.8,153.4h0M164.0,154.0h0M164.1,153.6h0M164.2,155.3h0M164.3,153.5h0M164.5,153.4h0M164.6,155.4h0M164.7,154.6h0M164.8,154.1h0M165.0,154.8h0M165.1,152.6h0M165.2,154.6h0M165.3,153.6h0M165.5,154.4h0M165.6,154.1h0M165.7,155.2h0M165.8,153.9h0M166.0,154.7h0M166.1,152.7h0M166.2,155.2h0M166.3,154.2h0M166.5,154.0h0M166.6,153.4h0M166.7,153.3h0M166.8,153.0h0M166.9,155.2h0M167.1,154.2h0M167.2,154.7h0M167.3,154.0h0M167.4,154.6h0M167.6,154.4h0M167.7,155.5h0M167.8,152.9h0M167.9,155.4h0M168.1,154.1h0M168.2,154.3h0M168.3,154.7h0M168.4,155.2h0M168.6,152.5h0M168.7,153.6h0M168.8,154.5h0M168.9,153.6h0M169.1,154.3h0M169.2,154.9h0M169.3,153.5h0M169.4,155.1h0M169.6,154.7h0M169.7,153.8h0M169.8,154.9h0M169.9,155.4h0M170.1,155.0h0M170.2,153.7h0M170.3,155.5h0M170.4,155.7h0M170.5,155.0h0M170.7,155.4h0M170.8,154.3h0M170.9,156.4h0M171.0,155.1h0M171.2,155.4h0M171.3,153.2h0M171.4,153.4h0M171.5,155.2h0M171.7,156.0h0M171.8,156.5h0M171.9,153.4h0M172.0,153.6h0M172.2,153.2h0M172.3,155.0h0M172.4,152.8h0M172.5,155.3h0M172.7,154.2h0M172.8,154.5h0M172.9,153.4h0M173.0,154.4h0M173.2,155.3h0M173.3,152.7h0M173.4,153.7h0M173.5,155.8h0M173.6,153.6h0M173.8,154.2h0M173.9,154.4h0M174.0,153.8h0M174.1,154.6h0M174.3,153.3h0M174.4,153.7h0M174.5,153.9h0M174.6,154.8h0M174.8,154.3h0M174.9,154.8h0M175.0,155.7h0M175.1,155.6h0M175.3,154.0h0M175.4,154.3h0M175.5,155.2h0M175.6,153.1h0M175.8,152.8h0M175.9,155.8h0M176.0,155.5h0M176.1,158.0h0M176.3,156.8h0M176.4,155.7h0M176.5,154.9h0M176.6,154.3h0M176.8,154.8h0M176.9,154.7h0M177.0,155.9h0M177.1,153.6h0M177.2,153.7h0M177.4,154.7h0M177.5,153.9h0M177.6,155.9h0M177.7,154.6h0M177.9,154.5h0M178.0,153.9h0M178.1,153.7h0M178.2,155.4h0M178.4,155.4h0M178.5,154.1h0M178.6,155.9h0M178.7,156.0h0M178.9,154.5h0M179.0,154.5h0M179.1,154.7h0M179.2,156.5h0M179.4,154.5h0M179.5,155.4h0M179.6,156.0h0M179.7,156.5h0M179.9,156.1h0M180.0,157.5h0M180.1,157.5h0M180.2,155.1h0M180.4,154.6h0M180.5,156.2h0M180.6,156.1h0M180.7,154.9h0M180.8,156.6h0M181.0,155.2h0M181.1,154.6h0M181.2,154.7h0M181.3,154.7h0M181.5,155.0h0M181.6,157.1h0M181.7,154.7h0M181.8,155.5h0M182.0,156.1h0M182.1,155.9h0M182.2,155.4h0M182.3,154.4h0M182.5,153.4h0M182.6,156.3h0M182.7,156.4h0M182.8,153.9h0M183.0,154.9h0M183.1,154.6h0M183.2,154.6h0M183.3,155.6h0M183.5,155.1h0M183.6,154.7h0M183.7,154.1h0M183.8,154.8h0M184.0,155.7h0M184.1,155.2h0M184.2,156.4h0M184.3,154.6h0M184.4,156.3h0M184.6,155.5h0M184.7,154.8h0M184.8,154.1h0M184.9,155.5h0M185.1,155.5h0M185.2,154.1h0M185.3,155.0h0M185.4,155.1h0M185.6,154.9h0M185.7,154.3h0M185.8,155.8h0M185.9,155.5h0M186.1,154.1h0M186.2,154.4h0M186.3,154.5h0M186.4,154.1h0M186.6,155.7h0M186.7,155.5h0M186.8,153.7h0M186.9,155.3h0M187.1,154.1h0M187.2,154.0h0M187.3,155.1h0M187.4,154.9h0M187.6,155.4h0M187.7,155.3h0M187.8,156.1h0M187.9,154.4h0M188.0,156.1h0M188.2,156.1h0M188.3,156.6h0M188.4,154.6h0M188.5,154.5h0M188.7,156.2h0M188.8,154.9h0M188.9,154.5h0M189.0,155.4h0M189.2,156.4h0M189.3,156.6h0M189.4,155.6h0M189.5,154.9h0M189.7,155.5h0M189.8,155.8h0M189.9,156.7h0M190.0,155.9h0M190.2,156.1h0M190.3,156.0h0M190.4,155.8h0M190.5,155.6h0M190.7,154.5h0M190.8,155.3h0M190.9,155.5h0M191.0,155.0h0M191.1,155.1h0M191.3,155.5h0M191.4,156.4h0M191.5,155.8h0M191.6,157.1h0M191.8,155.6h0M191.9,156.2h0M192.0,155.5h0M192.1,154.9h0M192.3,155.5h0M192.4,154.9h0M192.5,155.5h0M192.6,155.5h0M192.8,154.6h0M192.9,156.2h0M193.0,154.3h0M193.1,155.3h0M193.3,154.7h0M193.4,157.3h0M193.5,156.3h0M193.6,155.6h0M193.8,157.0h0M193.9,155.1h0M194.0,155.4h0M194.1,156.6h0M194.3,154.3h0M194.4,155.6h0M194.5,156.3h0M194.6,155.4h0M194.7,154.5h0M194.9,156.9h0M195.0,156.6h0M195.1,156.4h0M195.2,155.5h0M195.4,156.3h0M195.5,154.4h0M195.6,155.5h0M195.7,153.9h0M195.9,155.7h0M196.0,155.4h0M196.1,155.4h0M196.2,155.9h0M196.4,157.5h0M196.5,154.3h0M196.6,156.6h0M196.7,156.8h0M196.9,156.8h0M197.0,155.3h0M197.1,157.6h0M197.2,156.8h0M197.4,156.4h0M197.5,155.7h0M197.6,154.9h0M197.7,155.2h0M197.9,157.0h0M198.0,154.9h0M198.1,154.1h0M198.2,156.9h0M198.3,156.8h0M198.5,156.4h0M198.6,154.5h0M198.7,155.2h0M198.8,154.6h0M199.0,156.6h0M199.1,156.6h0M199.2,155.5h0M199.3,156.1h0M199.5,154.6h0M199.6,154.4h0M199.7,155.9h0M199.8,157.1h0M200.0,155.2h0M200.1,156.8h0M200.2,155.3h0M200.3,156.0h0M200.5,155.8h0M200.6,156.4h0M200.7,154.8h0M200.8,155.5h0M201.0,156.4h0M201.1,156.2h0M201.2,154.5h0M201.3,155.8h0M201.5,156.9h0M201.6,155.3h0M201.7,155.2h0M201.8,155.1h0M201.9,155.1h0M202.1,156.3h0M202.2,155.5h0M202.3,154.3h0M202.4,155.4h0M202.6,155.9h0M202.7,156.1h0M202.8,154.7h0M202.9,155.9h0M203.1,155.1h0M203.2,155.5h0M203.3,155.4h0M203.4,155.8h0M203.6,155.5h0M203.7,156.9h0M203.8,156.9h0M203.9,156.8h0M204.1,156.5h0M204.2,156.6h0M204.3,156.5h0M204.4,155.6h0M204.6,156.6h0M204.7,154.7h0M204.8,157.8h0M204.9,157.3h0M205.1,155.8h0M205.2,158.0h0M205.3,156.3h0M205.4,157.0h0M205.5,155.7h0M205.7,155.2h0M205.8,156.9h0M205.9,157.8h0M206.0,156.3h0M206.2,155.8h0M206.3,154.9h0M206.4,155.6h0M206.5,156.3h0M206.7,156.7h0M206.8,155.7h0M206.9,156.0h0M207.0,157.5h0M207.2,154.9h0M207.3,156.8h0M207.4,156.2h0M207.5,157.3h0M207.7,156.9h0M207.8,155.3h0M207.9,154.3h0M208.0,155.5h0M208.2,157.3h0M208.3,154.8h0M208.4,157.2h0M208.5,155.5h0M208.7,157.6h0M208.8,156.1h0M208.9,155.0h0M209.0,156.3h0M209.1,155.2h0M209.3,156.8h0M209.4,155.1h0M209.5,156.3h0M209.6,155.7h0M209.8,155.7h0M209.9,157.1h0M210.0,155.7h0M210.1,156.2h0M210.3,155.8h0M210.4,155.5h0M210.5,156.6h0M210.6,156.6h0M210.8,155.8h0M210.9,157.3h0M211.0,155.1h0M211.1,155.1h0M211.3,157.2h0M211.4,157.5h0M211.5,154.9h0M211.6,156.9h0M211.8,155.1h0M211.9,156.7h0M212.0,156.9h0M212.1,155.5h0M212.2,155.8h0M212.4,154.9h0M212.5,155.8h0M212.6,155.5h0M212.7,157.1h0M212.9,155.5h0M213.0,155.5h0M213.1,156.6h0M213.2,155.6h0M213.4,155.4h0M213.5,155.3h0M213.6,155.7h0M213.7,155.9h0M213.9,157.3h0M214.0,157.4h0M214.1,157.9h0M214.2,155.8h0M214.4,156.9h0M214.5,155.3h0M214.6,154.4h0M214.7,156.2h0M214.9,155.8h0M215.0,157.3h0M215.1,155.6h0M215.2,155.9h0M215.4,156.5h0M215.5,155.7h0M215.6,154.9h0M215.7,156.4h0M215.8,157.0h0M216.0,155.2h0M216.1,156.5h0M216.2,158.7h0M216.3,154.5h0M216.5,155.9h0M216.6,157.1h0M216.7,156.9h0M216.8,155.4h0M217.0,155.1h0M217.1,154.6h0M217.2,155.8h0M217.3,157.5h0M217.5,157.1h0M217.6,155.2h0M217.7,155.2h0M217.8,155.3h0M218.0,156.3h0M218.1,155.7h0M218.2,155.5h0M218.3,158.0h0M218.5,156.7h0M218.6,157.5h0M218.7,156.5h0M218.8,157.7h0M219.0,157.0h0M219.1,155.8h0M219.2,154.6h0M219.3,155.8h0M219.4,157.6h0M219.6,155.7h0M219.7,157.1h0M219.8,155.7h0M219.9,157.2h0M220.1,157.7h0M220.2,155.7h0M220.3,155.1h0M220.4,156.7h0M220.6,156.8h0M220.7,157.5h0M220.8,157.7h0M220.9,157.5h0M221.1,156.2h0M221.2,157.2h0M221.3,155.4h0M221.4,155.3h0M221.6,156.5h0M221.7,156.2h0M221.8,156.9h0M221.9,156.9h0M222.1,157.9h0M222.2,157.1h0M222.3,157.8h0M222.4,156.3h0M222.6,155.8h0M222.7,157.5h0M222.8,156.2h0M222.9,155.9h0M223.0,157.4h0M223.2,158.4h0M223.3,155.5h0M223.4,157.6h0M223.5,157.7h0M223.7,156.3h0M223.8,157.6h0M223.9,158.1h0M224.0,157.4h0M224.2,158.7h0M224.3,155.8h0M224.4,156.4h0M224.5,158.4h0M224.7,157.3h0M224.8,158.1h0M224.9,156.3h0M225.0,158.2h0M225.2,157.3h0M225.3,156.8h0M225.4,157.5h0M225.5,157.4h0M225.7,158.4h0M225.8,158.4h0M225.9,158.5h0M226.0,158.9h0M226.2,157.3h0M226.3,158.3h0M226.4,157.3h0M226.5,157.7h0M226.6,158.7h0M226.8,156.4h0M226.9,157.4h0M227.0,159.0h0M227.1,156.5h0M227.3,155.7h0M227.4,156.3h0M227.5,156.3h0M227.6,155.7h0M227.8,157.5h0M227.9,156.8h0M228.0,156.2h0M228.1,156.8h0M228.3,158.2h0M228.4,157.9h0M228.5,156.8h0M228.6,157.8h0M228.8,159.0h0M228.9,158.5h0M229.0,158.0h0M229.1,157.9h0M229.3,156.8h0M229.4,158.0h0M229.5,156.6h0M229.6,157.0h0M229.8,157.9h0M229.9,158.2h0M230.0,157.3h0M230.1,156.8h0M230.2,159.1h0M230.4,158.3h0M230.5,158.0h0M230.6,158.1h0M230.7,156.5h0M230.9,158.8h0M231.0,157.2h0M231.1,158.3h0M231.2,158.4h0M231.4,156.5h0M231.5,156.2h0M231.6,157.7h0M231.7,156.7h0M231.9,156.9h0M232.0,158.7h0M232.1,158.7h0M232.2,157.7h0M232.4,159.5h0M232.5,158.8h0M232.6,159.0h0M232.7,157.3h0M232.9,157.8h0M233.0,158.2h0M233.1,156.7h0M233.2,158.8h0M233.4,157.9h0M233.5,158.6h0M233.6,156.6h0M233.7,158.3h0M233.8,157.8h0M234.0,158.4h0M234.1,159.0h0M234.2,156.4h0M234.3,157.7h0M234.5,157.5h0M234.6,157.1h0M234.7,157.1h0M234.8,158.2h0" stroke="#f00" stroke-width="2.2" stroke-linecap="square" fill="none"/>
<path d="M170.2,362.6h0M167.6,370.1h0M55.9,280.9h0M56.0,283.9h0M56.1,287.1h0M56.2,290.5h0M56.3,293.6h0M56.4,296.2h0M56.5,299.5h0M56.6,301.5h0M56.7,305.1h0M56.8,307.5h0M56.9,309.8h0M57.0,311.0h0M57.1,313.7h0M57.2,314.5h0M57.4,316.2h0M57.5,317.3h0M57.6,319.4h0M57.7,321.1h0M57.9,320.5h0M58.0,321.9h0M58.1,322.6h0M58.2,322.4h0M58.4,321.8h0M58.5,323.5h0M58.6,323.5h0M58.7,324.5h0M58.9,323.3h0M59.0,324.2h0M59.1,326.8h0M59.2,328.1h0M59.4,328.1h0M59.5,325.8h0M59.6,325.1h0M59.7,327.1h0M59.9,327.2h0M60.0,327.8h0M60.1,328.7h0M60.2,328.5h0M60.4,329.1h0M60.5,329.4h0M60.6,330.6h0M60.7,329.5h0M60.9,330.9h0M61.0,328.4h0M61.1,331.7h0M61.2,330.2h0M61.4,333.0h0M61.5,330.9h0M61.6,331.3h0M61.7,331.9h0M61.8,334.0h0M62.0,333.4h0M62.1,335.3h0M62.2,332.7h0M62.3,332.4h0M62.5,334.6h0M62.6,331.5h0M62.7,334.4h0M62.8,334.7h0M63.0,334.1h0M63.1,332.1h0M63.2,333.3h0M63.3,332.4h0M63.5,331.5h0M63.6,332.9h0M63.7,334.5h0M63.8,333.7h0M64.0,334.6h0M64.1,332.9h0M64.2,332.9h0M64.3,335.4h0M64.5,334.5h0M64.6,333.8h0M64.7,337.2h0M64.8,334.0h0M65.0,334.9h0M65.1,336.3h0M65.2,337.5h0M65.3,337.6h0M65.5,335.7h0M65.6,338.0h0M65.7,334.5h0M65.8,335.7h0M66.0,337.0h0M66.1,337.9h0M66.2,335.3h0M66.3,335.2h0M66.4,337.4h0M66.6,336.2h0M66.7,339.7h0M66.8,338.8h0M66.9,336.1h0M67.1,336.1h0M67.2,337.7h0M67.3,336.2h0M67.4,338.0h0M67.6,339.4h0M67.7,340.7h0M67.8,339.8h0M67.9,340.5h0M68.1,341.0h0M68.2,338.8h0M68.3,340.3h0M68.4,339.0h0M68.6,340.5h0M68.7,340.1h0M68.8,340.6h0M68.9,339.5h0M69.1,339.5h0M69.2,340.6h0M69.3,338.5h0M69.4,339.4h0M69.6,339.3h0M69.7,339.8h0M69.8,339.2h0M69.9,339.1h0M70.1,342.2h0M70.2,338.2h0M70.3,340.5h0M70.4,339.2h0M70.6,342.3h0M70.7,342.3h0M70.8,340.1h0M70.9,339.2h0M71.0,339.8h0M71.2,343.3h0M71.3,343.1h0M71.4,340.7h0M71.5,343.6h0M71.7,341.7h0M71.8,343.8h0M71.9,342.8h0M72.0,340.7h0M72.2,343.0h0M72.3,341.9h0M72.4,340.9h0M72.5,344.5h0M72.7,341.7h0M72.8,343.6h0M72.9,343.8h0M73.0,345.1h0M73.2,342.6h0M73.3,344.6h0M73.4,344.5h0M73.5,342.8h0M73.7,343.4h0M73.8,344.9h0M73.9,343.0h0M74.0,345.5h0M74.2,344.8h0M74.3,345.9h0M74.4,343.6h0M74.5,344.4h0M74.7,346.2h0M74.8,343.5h0M74.9,343.9h0M75.0,344.7h0M75.2,346.3h0M75.3,346.1h0M75.4,346.3h0M75.5,344.1h0M75.6,347.4h0M75.8,344.7h0M75.9,345.9h0M76.0,346.4h0M76.1,345.7h0M76.3,346.0h0M76.4,343.8h0M76.5,344.7h0M76.6,347.3h0M76.8,348.6h0M76.9,346.1h0M77.0,347.8h0M77.1,347.1h0M77.3,345.2h0M77.4,348.4h0M77.5,346.4h0M77.6,347.9h0M77.8,348.3h0M77.9,348.5h0M78.0,347.4h0M78.1,346.4h0M78.3,349.1h0M78.4,349.1h0M78.5,345.8h0M78.6,347.4h0M78.8,349.2h0M78.9,346.1h0M79.0,346.2h0M79.1,349.4h0M79.3,350.1h0M79.4,348.4h0M79.5,349.9h0M79.6,348.6h0M79.8,348.4h0M79.9,350.0h0M80.0,347.9h0M80.1,349.3h0M80.2,348.3h0M80.4,347.6h0M80.5,347.5h0M80.6,349.6h0M80.7,348.1h0M80.9,349.9h0M81.0,347.7h0M81.1,350.0h0M81.2,348.5h0M81.4,351.3h0M81.5,351.1h0M81.6,349.6h0M81.7,351.0h0M81.9,351.7h0M82.0,352.1h0M82.1,350.2h0M82.2,348.6h0M82.4,348.9h0M82.5,351.6h0M82.6,350.9h0M82.7,351.0h0M82.9,351.5h0M83.0,352.5h0M83.1,352.0h0M83.2,348.7h0M83.4,349.7h0M83.5,351.7h0M83.6,350.7h0M83.7,353.0h0M83.9,350.1h0M84.0,350.3h0M84.1,352.4h0M84.2,350.6h0M84.4,351.2h0M84.5,351.8h0M84.6,352.1h0M84.7,352.9h0M84.8,351.2h0M85.0,351.0h0M85.1,349.9h0M85.2,353.0h0M85.3,351.8h0M85.5,352.3h0M85.6,350.4h0M85.7,354.5h0M85.8,351.9h0M86.0,352.4h0M86.1,351.2h0M86.2,351.6h0M86.3,351.9h0M86.5,353.2h0M86.6,352.7h0M86.7,354.0h0M86.8,354.1h0M87.0,353.0h0M87.1,351.7h0M87.2,351.1h0M87.3,352.7h0M87.5,350.7h0M87.6,353.9h0M87.7,353.2h0M87.8,354.0h0M88.0,352.3h0M88.1,353.3h0M88.2,352.7h0M88.3,353.6h0M88.5,353.5h0M88.6,353.9h0M88.7,354.0h0M88.8,354.1h0M89.0,353.5h0M89.1,354.6h0M89.2,355.4h0M89.3,355.3h0M89.4,353.9h0M89.6,355.0h0M89.7,354.5h0M89.8,354.1h0M89.9,353.6h0M90.1,355.6h0M90.2,353.8h0M90.3,352.7h0M90.4,353.6h0M90.6,355.2h0M90.7,352.5h0M90.8,353.7h0M90.9,355.3h0M91.1,354.6h0M91.2,353.5h0M91.3,353.5h0M91.4,355.6h0M91.6,355.5h0M91.7,355.2h0M91.8,354.0h0M91.9,356.2h0M92.1,354.4h0M92.2,354.1h0M92.3,353.2h0M92.4,355.3h0M92.6,355.0h0M92.7,355.7h0M92.8,355.4h0M92.9,355.7h0M93.1,354.6h0M93.2,355.0h0M93.3,354.1h0M93.4,357.0h0M93.6,355.2h0M93.7,355.1h0M93.8,355.5h0M93.9,356.8h0M94.0,355.0h0M94.2,356.2h0M94.3,357.0h0M94.4,355.6h0M94.5,357.0h0M94.7,357.2h0M94.8,358.1h0M94.9,355.5h0M95.0,357.8h0M95.2,357.6h0M95.3,358.3h0M95.4,353.9h0M95.5,355.7h0M95.7,356.7h0M95.8,358.3h0M95.9,358.5h0M96.0,357.5h0M96.2,357.2h0M96.3,357.2h0M96.4,355.7h0M96.5,355.2h0M96.7,356.8h0M96.8,356.8h0M96.9,356.5h0M97.0,357.8h0M97.2,357.4h0M97.3,358.3h0M97.4,355.5h0M97.5,356.2h0M97.7,358.3h0M97.8,358.6h0M97.9,358.7h0M98.0,359.5h0M98.2,358.3h0M98.3,356.4h0M98.4,358.0h0M98.5,357.8h0M98.6,360.2h0M98.8,358.4h0M98.9,357.8h0M99.0,358.9h0M99.1,357.8h0M99.3,359.5h0M99.4,360.3h0M99.5,359.1h0M99.6,358.2h0M99.8,359.0h0M99.9,357.3h0M100.0,359.5h0M100.1,359.1h0M100.3,359.4h0M100.4,360.7h0M100.5,359.2h0M100.6,358.5h0M100.8,360.4h0M100.9,358.3h0M101.0,359.5h0M101.1,360.3h0M101.3,358.9h0M101.4,358.5h0M101.5,359.4h0M101.6,357.2h0M101.8,359.5h0M101.9,356.9h0M102.0,359.2h0M102.1,359.7h0M102.3,360.0h0M102.4,360.4h0M102.5,357.1h0M102.6,359.4h0M102.8,359.9h0M102.9,359.2h0M103.0,357.5h0M103.1,359.1h0M103.2,359.0h0M103.4,359.8h0M103.5,359.7h0M103.6,359.4h0M103.7,357.4h0M103.9,358.4h0M104.0,361.1h0M104.1,358.5h0M104.2,359.9h0M104.4,358.4h0M104.5,360.8h0M104.6,359.4h0M104.7,358.4h0M104.9,361.1h0M105.0,360.1h0M105.1,360.8h0M105.2,361.8h0M105.4,361.8h0M105.5,359.8h0M105.6,361.8h0M105.7,361.6h0M105.9,361.8h0M106.0,360.3h0M106.1,360.2h0M106.2,359.9h0M106.4,362.0h0M106.5,360.9h0M106.6,360.8h0M106.7,361.2h0M106.9,361.9h0M107.0,361.1h0M107.1,360.3h0M107.2,360.4h0M107.4,360.7h0M107.5,361.3h0M107.6,361.3h0M107.7,360.3h0M107.8,359.4h0M108.0,360.3h0M108.1,359.9h0M108.2,359.7h0M108.3,362.4h0M108.5,361.2h0M108.6,359.8h0M108.7,361.0h0M108.8,362.2h0M109.0,361.6h0M109.1,362.9h0M109.2,360.7h0M109.3,360.4h0M109.5,360.4h0M109.6,362.1h0M109.7,361.3h0M109.8,362.4h0M110.0,360.9h0M110.1,362.0h0M110.2,361.6h0M110.3,360.9h0M110.5,362.0h0M110.6,362.3h0M110.7,360.3h0M110.8,360.5h0M111.0,360.7h0M111.1,361.4h0M111.2,360.4h0M111.3,361.1h0M111.5,361.5h0M111.6,361.9h0M111.7,363.0h0M111.8,361.6h0M112.0,362.4h0M112.1,362.2h0M112.2,360.8h0M112.3,361.2h0M112.4,360.9h0M112.6,363.2h0M112.7,364.1h0M112.8,363.7h0M112.9,363.1h0M113.1,362.6h0M113.2,363.8h0M113.3,362.8h0M113.4,364.2h0M113.6,362.3h0M113.7,362.3h0M113.8,362.7h0M113.9,363.1h0M114.1,362.9h0M114.2,362.2h0M114.3,361.6h0M114.4,363.7h0M114.6,362.3h0M114.7,364.2h0M114.8,363.2h0M114.9,361.4h0M115.1,365.1h0M115.2,363.2h0M115.3,362.2h0M115.4,363.5h0M115.6,362.1h0M115.7,363.0h0M115.8,362.5h0M115.9,362.3h0M116.1,361.7h0M116.2,361.7h0M116.3,362.4h0M116.4,363.2h0M116.6,362.9h0M116.7,362.1h0M116.8,362.3h0M116.9,363.3h0M117.0,362.3h0M117.2,362.2h0M117.3,361.2h0M117.4,361.4h0M117.5,364.1h0M117.7,362.5h0M117.8,361.8h0M117.9,363.7h0M118.0,361.2h0M118.2,362.2h0M118.3,362.1h0M118.4,362.1h0M118.5,363.4h0M118.7,361.7h0M118.8,362.8h0M118.9,362.9h0M119.0,363.9h0M119.2,364.4h0M119.3,363.2h0M119.4,362.3h0M119.5,362.6h0M119.7,362.2h0M119.8,361.8h0M119.9,364.5h0M120.0,363.2h0M120.2,362.4h0M120.3,361.6h0M120.4,363.4h0M120.5,364.2h0M120.7,363.9h0M120.8,362.0h0M120.9,363.9h0M121.0,363.8h0M121.2,362.9h0M121.3,361.6h0M121.4,363.5h0M121.5,362.0h0M121.6,362.6h0M121.8,362.8h0M121.9,362.1h0M122.0,363.0h0M122.1,362.5h0M122.3,363.1h0M122.4,364.3h0M122.5,364.3h0M122.6,365.2h0M122.8,364.1h0M122.9,363.0h0M123.0,363.4h0M123.1,364.7h0M123.3,365.7h0M123.4,365.6h0M123.5,364.2h0M123.6,365.4h0M123.8,363.3h0M123.9,364.1h0M124.0,363.3h0M124.1,363.8h0M124.3,362.7h0M124.4,364.8h0M124.5,363.9h0M124.6,363.8h0M124.8,363.9h0M124.9,363.7h0M125.0,364.2h0M125.1,363.5h0M125.3,364.2h0M125.4,362.5h0M125.5,363.5h0M125.6,364.4h0M125.8,364.0h0M125.9,364.6h0M126.0,364.6h0M126.1,363.4h0M126.2,362.8h0M126.4,365.1h0M126.5,364.6h0M126.6,364.9h0M126.7,362.3h0M126.9,364.7h0M127.0,364.8h0M127.1,363.3h0M127.2,365.3h0M127.4,365.3h0M127.5,365.1h0M127.6,363.9h0M127.7,364.2h0M127.9,363.8h0M128.0,365.8h0M128.1,363.8h0M128.2,363.2h0M128.4,365.6h0M128.5,364.3h0M128.6,364.2h0M128.7,365.4h0M128.9,365.4h0M129.0,363.6h0M129.1,365.3h0M129.2,365.1h0M129.4,362.9h0M129.5,364.8h0M129.6,366.3h0M129.7,364.0h0M129.9,363.2h0M130.0,365.2h0M130.1,363.7h0M130.2,363.5h0M130.4,364.5h0M130.5,365.2h0M130.6,364.1h0M130.7,364.5h0M130.8,364.5h0M131.0,364.5h0M131.1,363.2h0M131.2,364.5h0M131.3,364.6h0M131.5,363.6h0M131.6,364.5h0M131.7,364.5h0M131.8,364.7h0M132.0,363.8h0M132.1,364.6h0M132.2,364.8h0M132.3,364.8h0M132.5,364.7h0M132.6,365.5h0M132.7,364.0h0M132.8,364.8h0M133.0,365.2h0M133.1,364.8h0M133.2,364.2h0M133.3,365.1h0M133.5,364.8h0M133.6,364.7h0M133.7,362.7h0M133.8,364.9h0M134.0,365.0h0M134.1,365.1h0M134.2,363.5h0M134.3,364.3h0M134.5,365.6h0M134.6,363.3h0M134.7,366.3h0M134.8,365.9h0M135.0,364.5h0M135.1,364.1h0M135.2,364.9h0M135.3,364.7h0M135.4,364.1h0M135.6,366.3h0M135.7,365.2h0M135.8,363.7h0M135.9,366.3h0M136.1,364.5h0M136.2,367.2h0M136.3,366.2h0M136.4,365.5h0M136.6,365.2h0M136.7,364.8h0M136.8,364.0h0M136.9,363.4h0M137.1,364.0h0M137.2,365.6h0M137.3,363.7h0M137.4,365.6h0M137.6,365.7h0M137.7,364.2h0M137.8,363.8h0M137.9,365.2h0M138.1,366.0h0M138.2,365.0h0M138.3,363.7h0M138.4,363.8h0M138.6,365.0h0M138.7,365.4h0M138.8,366.2h0M138.9,364.6h0M139.1,366.4h0M139.2,364.2h0M139.3,364.9h0M139.4,364.7h0M139.6,365.2h0M139.7,366.0h0M139.8,364.5h0M139.9,365.4h0M140.0,366.1h0M140.2,364.5h0M140.3,366.7h0M140.4,365.6h0M140.5,366.3h0M140.7,363.3h0M140.8,366.1h0M140.9,365.2h0M141.0,365.5h0M141.2,365.8h0M141.3,365.3h0M141.4,364.8h0M141.5,366.1h0M141.7,365.8h0M141.8,365.8h0M141.9,365.1h0M142.0,366.1h0M142.2,365.7h0M142.3,366.0h0M142.4,364.7h0M142.5,366.1h0M142.7,366.6h0M142.8,366.5h0M142.9,366.7h0M143.0,366.4h0M143.2,364.2h0M143.3,363.9h0M143.4,364.5h0M143.5,365.8h0M143.7,366.5h0M143.8,365.4h0M143.9,364.1h0M144.0,366.2h0M144.2,366.6h0M144.3,363.6h0M144.4,366.3h0M144.5,366.3h0M144.6,366.4h0M144.8,366.5h0M144.9,366.2h0M145.0,365.4h0M145.1,364.4h0M145.3,366.0h0M145.4,364.8h0M145.5,366.5h0M145.6,365.3h0M145.8,365.2h0M145.9,364.6h0M146.0,364.0h0M146.1,366.2h0M146.3,365.2h0M146.4,366.0h0M146.5,365.8h0M146.6,365.9h0M146.8,364.1h0M146.9,364.9h0M147.0,367.2h0M147.1,365.0h0M147.3,367.4h0M147.4,365.9h0M147.5,366.7h0M147.6,365.9h0M147.8,364.3h0M147.9,364.4h0M148.0,364.5h0M148.1,366.2h0M148.3,365.7h0M148.4,365.2h0M148.5,367.5h0M148.6,365.6h0M148.8,366.9h0M148.9,366.4h0M149.0,365.3h0M149.1,365.2h0M149.2,366.9h0M149.4,366.9h0M149.5,364.8h0M149.6,366.8h0M149.7,366.0h0M149.9,365.6h0M150.0,365.3h0M150.1,365.1h0M150.2,364.8h0M150.4,366.9h0M150.5,366.8h0M150.6,366.8h0M150.7,364.9h0M150.9,366.8h0M151.0,367.8h0M151.1,366.6h0M151.2,366.4h0M151.4,367.3h0M151.5,367.1h0M151.6,367.6h0M151.7,365.3h0M151.9,365.0h0M152.0,366.4h0M152.1,365.4h0M152.2,366.2h0M152.4,366.7h0M152.5,365.3h0M152.6,367.7h0M152.7,366.6h0M152.9,366.0h0M153.0,365.4h0M153.1,365.6h0M153.2,366.4h0M153.4,365.3h0M153.5,367.5h0M153.6,366.8h0M153.7,366.0h0M153.8,367.7h0M154.0,366.9h0M154.1,365.1h0M154.2,366.5h0M154.3,366.7h0M154.5,368.6h0M154.6,365.9h0M154.7,365.1h0M154.8,365.8h0M155.0,365.3h0M155.1,367.1h0M155.2,365.9h0M155.3,367.1h0M155.5,366.8h0M155.6,366.1h0M155.7,365.8h0M155.8,367.0h0M156.0,365.3h0M156.1,366.3h0M156.2,365.2h0M156.3,365.3h0M156.5,365.1h0M156.6,364.8h0M156.7,366.8h0M156.8,366.7h0M157.0,365.1h0M157.1,367.0h0M157.2,366.9h0M157.3,366.7h0M157.5,364.7h0M157.6,364.9h0M157.7,364.9h0M157.8,364.7h0M158.0,366.9h0M158.1,365.5h0M158.2,366.2h0M158.3,365.4h0M158.4,366.8h0M158.6,365.8h0M158.7,364.5h0M158.8,365.5h0M158.9,367.1h0M159.1,366.2h0M159.2,365.7h0M159.3,366.9h0M159.4,367.6h0M159.6,364.9h0M159.7,367.1h0M159.8,366.8h0M159.9,367.9h0M160.1,367.3h0M160.2,365.3h0M160.3,366.0h0M160.4,366.2h0M160.6,367.2h0M160.7,365.9h0M160.8,367.5h0M160.9,365.6h0M161.1,367.6h0M161.2,368.0h0M161.3,366.5h0M161.4,366.2h0M161.6,366.9h0M161.7,366.0h0M161.8,367.2h0M161.9,365.8h0M162.1,367.0h0M162.2,367.1h0M162.3,366.0h0M162.4,368.7h0M162.6,365.7h0M162.7,368.2h0M162.8,365.8h0M162.9,367.3h0M163.0,366.3h0M163.2,366.1h0M163.3,367.4h0M163.4,365.9h0M163.5,367.9h0M163.7,366.5h0M163.8,365.2h0M163.9,367.5h0M164.0,366.9h0M164.2,367.6h0M164.3,366.6h0M164.4,365.7h0M164.5,365.5h0M164.7,365.9h0M164.8,366.1h0M164.9,367.4h0M165.0,367.1h0M165.2,367.2h0M165.3,366.3h0M165.4,366.6h0M165.5,365.9h0M165.7,366.6h0M165.8,367.6h0M165.9,369.1h0M166.0,367.3h0M166.2,368.0h0M166.3,368.1h0M166.4,368.5h0M166.5,366.7h0M166.7,367.1h0M166.8,367.4h0M166.9,368.4h0M167.0,368.8h0M167.2,366.7h0M167.3,367.2h0M167.4,367.9h0M167.5,366.9h0M167.6,365.9h0M167.8,366.6h0M167.9,367.0h0M168.0,366.4h0M168.1,365.6h0M168.3,367.3h0M168.4,366.2h0M168.5,366.2h0M168.6,365.5h0M168.8,366.5h0M168.9,367.5h0M169.0,367.3h0M169.1,363.9h0M169.3,367.6h0M169.4,366.6h0M169.5,367.7h0M169.6,367.9h0M169.8,368.0h0M169.9,367.3h0M170.0,365.9h0M170.1,366.9h0M170.3,368.3h0M170.4,366.7h0M170.5,367.6h0M170.6,366.5h0M170.8,366.3h0M170.9,368.1h0M171.0,368.6h0M171.1,367.4h0M171.3,367.0h0M171.4,366.8h0M171.5,366.6h0M171.6,366.6h0M171.8,366.9h0M171.9,368.8h0M172.0,367.0h0M172.1,366.1h0M172.2,367.3h0M172.4,368.4h0M172.5,368.2h0M172.6,367.9h0M172.7,367.4h0M172.9,367.0h0M173.0,369.9h0M173.1,366.8h0M173.2,368.8h0M173.4,369.3h0M173.5,368.7h0M173.6,368.8h0M173.7,367.6h0M173.9,367.2h0M174.0,368.7h0M174.1,368.0h0M174.2,369.1h0M174.4,368.8h0M174.5,367.7h0M174.6,367.9h0M174.7,367.6h0M174.9,369.0h0M175.0,367.3h0M175.1,368.6h0M175.2,368.8h0M175.4,368.4h0M175.5,367.8h0M175.6,366.9h0M175.7,367.7h0M175.9,367.9h0M176.0,366.7h0M176.1,366.7h0M176.2,367.8h0M176.4,369.9h0M176.5,368.8h0M176.6,367.3h0M176.7,368.4h0M176.8,367.8h0M177.0,367.4h0M177.1,366.6h0M177.2,368.9h0M177.3,366.7h0M177.5,368.4h0M177.6,368.5h0M177.7,367.3h0M177.8,367.3h0M178.0,368.6h0M178.1,367.2h0M178.2,367.2h0M178.3,368.3h0M178.5,368.5h0M178.6,366.7h0M178.7,369.1h0M178.8,367.2h0M179.0,369.3h0M179.1,369.5h0M179.2,367.8h0M179.3,369.0h0M179.5,369.3h0M179.6,369.2h0M179.7,369.7h0M179.8,369.2h0M180.0,369.4h0M180.1,369.0h0M180.2,368.1h0M180.3,368.2h0M180.5,368.9h0M180.6,369.4h0M180.7,368.2h0M180.8,368.8h0M181.0,368.5h0M181.1,369.4h0M181.2,368.2h0M181.3,368.2h0M181.4,370.2h0M181.6,368.2h0M181.7,368.7h0M181.8,368.7h0M181.9,369.9h0M182.1,369.3h0M182.2,368.4h0M182.3,369.2h0M182.4,367.9h0M182.6,369.6h0M182.7,368.3h0M182.8,369.9h0M182.9,367.5h0M183.1,369.4h0M183.2,368.3h0M183.3,370.1h0M183.4,369.0h0M183.6,368.6h0M183.7,368.0h0M183.8,368.2h0M183.9,368.1h0M184.1,369.7h0M184.2,368.2h0M184.3,369.0h0M184.4,368.0h0M184.6,369.5h0M184.7,369.6h0M184.8,367.7h0M184.9,368.1h0M185.1,370.1h0M185.2,367.8h0M185.3,367.4h0M185.4,369.7h0M185.6,369.8h0M185.7,369.7h0M185.8,370.1h0M185.9,367.7h0M186.0,369.7h0M186.2,368.8h0M186.3,369.5h0M186.4,368.5h0M186.5,368.7h0M186.7,367.8h0M186.8,368.9h0M186.9,368.8h0M187.0,370.7h0M187.2,368.7h0M187.3,369.6h0M187.4,369.1h0M187.5,368.8h0M187.7,368.3h0M187.8,370.0h0M187.9,369.2h0M188.0,369.5h0M188.2,370.7h0M188.3,371.3h0M188.4,370.8h0M188.5,371.4h0M188.7,370.3h0M188.8,370.4h0M188.9,368.9h0M189.0,370.4h0M189.2,369.4h0M189.3,370.8h0M189.4,368.9h0M189.5,368.9h0M189.7,368.4h0M189.8,369.8h0M189.9,371.0h0M190.0,370.2h0M190.2,370.5h0M190.3,370.6h0M190.4,370.0h0M190.5,369.6h0M190.6,369.7h0M190.8,370.4h0M190.9,369.6h0M191.0,368.9h0M191.1,370.2h0M191.3,369.2h0M191.4,368.0h0M191.5,368.6h0M191.6,371.0h0M191.8,370.3h0M191.9,371.4h0M192.0,371.4h0M192.1,370.4h0M192.3,368.8h0M192.4,369.7h0M192.5,369.6h0M192.6,368.6h0M192.8,371.0h0M192.9,370.1h0M193.0,369.1h0M193.1,369.7h0M193.3,368.7h0M193.4,370.8h0M193.5,370.5h0M193.6,368.9h0M193.8,369.5h0M193.9,370.2h0M194.0,370.4h0M194.1,369.9h0M194.3,369.5h0M194.4,368.4h0M194.5,369.4h0M194.6,369.6h0M194.8,369.4h0M194.9,369.1h0M195.0,369.4h0M195.1,370.5h0M195.2,369.0h0M195.4,370.5h0M195.5,369.9h0M195.6,370.7h0M195.7,369.7h0M195.9,370.2h0M196.0,369.7h0M196.1,369.4h0M196.2,369.5h0M196.4,370.9h0M196.5,370.5h0M196.6,370.6h0M196.7,371.9h0M196.9,369.9h0M197.0,370.6h0M197.1,368.7h0M197.2,370.8h0M197.4,369.9h0M197.5,369.9h0M197.6,370.2h0M197.7,369.6h0M197.9,369.9h0M198.0,371.6h0M198.1,371.2h0M198.2,369.5h0M198.4,370.5h0M198.5,369.4h0M198.6,370.8h0M198.7,372.8h0M198.9,369.9h0M199.0,369.0h0M199.1,370.7h0M199.2,370.0h0M199.4,369.4h0M199.5,369.3h0M199.6,371.0h0M199.7,370.1h0M199.8,369.9h0M200.0,370.1h0M200.1,371.0h0M200.2,369.3h0M200.3,370.0h0M200.5,371.1h0M200.6,370.0h0M200.7,370.4h0M200.8,369.4h0M201.0,368.6h0M201.1,370.6h0M201.2,370.7h0M201.3,369.9h0M201.5,370.7h0M201.6,370.5h0M201.7,369.9h0M201.8,370.6h0M202.0,369.5h0M202.1,372.3h0M202.2,370.2h0M202.3,371.3h0M202.5,371.8h0M202.6,370.7h0M202.7,371.1h0M202.8,372.2h0M203.0,371.6h0M203.1,370.4h0M203.2,371.6h0M203.3,368.9h0M203.5,371.5h0M203.6,370.3h0M203.7,369.8h0M203.8,371.0h0M204.0,371.0h0M204.1,371.2h0M204.2,371.3h0M204.3,371.6h0M204.4,369.5h0M204.6,371.1h0M204.7,371.5h0M204.8,371.6h0M204.9,370.1h0M205.1,370.3h0M205.2,371.6h0M205.3,370.2h0M205.4,372.5h0M205.6,371.2h0M205.7,370.4h0M205.8,373.2h0M205.9,372.6h0M206.1,371.4h0M206.2,370.6h0M206.3,371.3h0M206.4,370.4h0M206.6,370.4h0M206.7,371.1h0M206.8,371.2h0M206.9,371.9h0M207.1,370.0h0M207.2,370.6h0M207.3,372.4h0M207.4,369.8h0M207.6,369.4h0M207.7,370.4h0M207.8,370.8h0M207.9,371.0h0M208.1,371.9h0M208.2,372.5h0M208.3,372.2h0M208.4,372.2h0M208.6,373.4h0M208.7,371.2h0M208.8,372.2h0M208.9,373.3h0M209.0,372.6h0M209.2,371.0h0M209.3,372.5h0M209.4,370.7h0M209.5,371.1h0M209.7,370.8h0M209.8,372.0h0M209.9,370.1h0M210.0,371.8h0M210.2,371.8h0M210.3,370.3h0M210.4,372.2h0M210.5,371.7h0M210.7,373.1h0M210.8,372.9h0M210.9,371.4h0M211.0,370.4h0M211.2,371.8h0M211.3,373.0h0M211.4,370.9h0M211.5,370.6h0M211.7,370.4h0M211.8,371.8h0M211.9,371.5h0M212.0,372.5h0M212.2,369.8h0M212.3,370.6h0M212.4,372.4h0M212.5,372.0h0M212.7,371.2h0M212.8,374.4h0M212.9,371.3h0M213.0,373.3h0M213.2,372.6h0M213.3,370.3h0M213.4,372.2h0M213.5,372.4h0M213.6,372.4h0M213.8,373.1h0M213.9,371.3h0M214.0,372.1h0M214.1,371.3h0M214.3,371.9h0M214.4,372.2h0M214.5,372.7h0M214.6,373.4h0M214.8,373.6h0M214.9,373.5h0M215.0,372.9h0M215.1,371.6h0M215.3,373.5h0M215.4,370.4h0M215.5,373.1h0M215.6,372.3h0M215.8,371.8h0M215.9,372.1h0M216.0,371.5h0M216.1,373.0h0M216.3,373.2h0M216.4,372.7h0M216.5,372.8h0M216.6,372.8h0M216.8,371.2h0M216.9,371.1h0M217.0,373.3h0M217.1,373.5h0M217.3,372.6h0M217.4,372.8h0M217.5,374.8h0M217.6,372.5h0M217.8,372.9h0M217.9,373.0h0M218.0,373.1h0M218.1,373.4h0M218.2,373.3h0M218.4,372.3h0M218.5,372.4h0M218.6,372.9h0M218.7,373.3h0M218.9,373.7h0M219.0,373.0h0M219.1,372.0h0M219.2,372.1h0M219.4,374.2h0M219.5,373.2h0M219.6,371.8h0M219.7,373.2h0M219.9,371.3h0M220.0,372.9h0M220.1,372.8h0M220.2,372.9h0M220.4,372.7h0M220.5,373.9h0M220.6,374.3h0M220.7,372.6h0M220.9,372.6h0M221.0,372.2h0M221.1,372.1h0M221.2,373.8h0M221.4,372.2h0M221.5,374.4h0M221.6,371.9h0M221.7,373.3h0M221.9,372.0h0M222.0,373.8h0M222.1,371.8h0M222.2,373.4h0M222.4,372.7h0M222.5,373.0h0M222.6,373.3h0M222.7,372.1h0M222.8,374.2h0M223.0,373.3h0M223.1,374.0h0M223.2,374.5h0M223.3,372.6h0M223.5,373.5h0M223.6,374.5h0M223.7,373.7h0M223.8,374.0h0M224.0,370.5h0M224.1,373.1h0M224.2,371.9h0M224.3,373.8h0M224.5,374.3h0M224.6,371.9h0M224.7,372.1h0M224.8,374.0h0M225.0,372.5h0M225.1,373.3h0M225.2,371.9h0M225.3,372.4h0M225.5,374.5h0M225.6,372.7h0M225.7,373.2h0M225.8,373.4h0M226.0,374.2h0M226.1,373.5h0M226.2,373.5h0M226.3,372.3h0M226.5,374.4h0M226.6,372.9h0M226.7,373.9h0M226.8,372.9h0M227.0,373.6h0M227.1,373.6h0M227.2,373.0h0M227.3,373.9h0M227.4,373.6h0M227.6,374.7h0M227.7,372.3h0M227.8,374.2h0M227.9,374.4h0M228.1,374.0h0M228.2,373.4h0M228.3,372.5h0M228.4,374.8h0M228.6,372.5h0M228.7,372.9h0M228.8,373.7h0M228.9,373.5h0M229.1,374.0h0M229.2,375.1h0M229.3,374.6h0M229.4,374.7h0M229.6,372.9h0M229.7,375.2h0M229.8,373.9h0M229.9,374.6h0M230.1,372.6h0M230.2,372.9h0M230.3,374.4h0M230.4,374.6h0M230.6,374.1h0M230.7,375.1h0M230.8,373.8h0M230.9,372.8h0M231.1,372.4h0M231.2,373.4h0M231.3,372.9h0M231.4,373.1h0M231.6,373.9h0M231.7,374.3h0M231.8,375.1h0M231.9,374.9h0M232.0,374.4h0M232.2,375.2h0M232.3,373.6h0M232.4,372.6h0M232.5,373.1h0M232.7,373.1h0M232.8,373.7h0M232.9,374.2h0M233.0,375.3h0M233.2,374.5h0M233.3,374.1h0M233.4,373.8h0M233.5,373.4h0M233.7,375.9h0M233.8,374.9h0M233.9,374.7h0M234.0,374.9h0M234.2,373.6h0M234.3,374.4h0M234.4,373.8h0M234.5,373.3h0M234.7,373.9h0M234.8,373.3h0M234.9,375.3h0M235.0,372.9h0M235.2,374.7h0M235.3,372.5h0M235.4,374.1h0M235.5,375.5h0M235.7,375.4h0M235.8,373.4h0M235.9,376.7h0M236.0,373.9h0M236.2,373.8h0" stroke="#000" stroke-width="2.2" stroke-linecap="square" fill="none"/>
<path d="M55.9,312.2h0M56.0,316.2h0M56.1,321.5h0M56.2,323.9h0M56.3,324.5h0M56.4,325.8h0M56.5,327.7h0M56.6,330.3h0M56.7,331.3h0M56.8,332.0h0M56.9,333.9h0M57.0,334.3h0M57.1,337.3h0M57.2,337.2h0M57.4,337.7h0M57.5,338.4h0M57.6,338.1h0M57.7,339.3h0M57.9,340.1h0M58.0,341.7h0M58.1,340.7h0M58.2,341.0h0M58.4,343.3h0M58.5,342.2h0M58.6,342.0h0M58.7,344.7h0M58.9,344.6h0M59.0,346.1h0M59.1,346.3h0M59.2,345.6h0M59.4,345.4h0M59.5,344.7h0M59.6,346.1h0M59.7,346.9h0M59.9,348.3h0M60.0,350.0h0M60.1,346.7h0M60.2,346.4h0M60.4,350.0h0M60.5,348.1h0M60.6,349.2h0M60.7,348.8h0M60.9,347.9h0M61.0,351.7h0M61.1,348.1h0M61.2,348.5h0M61.4,350.1h0M61.5,353.9h0M61.6,353.0h0M61.7,352.1h0M61.8,351.0h0M62.0,353.9h0M62.1,351.2h0M62.2,352.9h0M62.3,351.9h0M62.5,356.8h0M62.6,354.2h0M62.7,356.2h0M62.8,351.6h0M63.0,357.0h0M63.1,355.9h0M63.2,355.8h0M63.3,353.7h0M63.5,357.4h0M63.6,353.5h0M63.7,355.6h0M63.8,355.0h0M64.0,354.6h0M64.1,354.6h0M64.2,354.8h0M64.3,354.7h0M64.5,354.3h0M64.6,357.6h0M64.7,357.6h0M64.8,354.6h0M65.0,354.6h0M65.1,355.2h0M65.2,358.2h0M65.3,359.4h0M65.5,358.0h0M65.6,359.0h0M65.7,357.5h0M65.8,359.3h0M66.0,360.9h0M66.1,357.7h0M66.2,359.2h0M66.3,359.6h0M66.4,359.3h0M66.6,361.8h0M66.7,360.0h0M66.8,358.3h0M66.9,360.1h0M67.1,359.5h0M67.2,359.9h0M67.3,362.4h0M67.4,361.7h0M67.6,359.2h0M67.7,361.9h0M67.8,359.0h0M67.9,364.2h0M68.1,361.4h0M68.2,363.8h0M68.3,361.7h0M68.4,360.8h0M68.6,361.8h0M68.7,362.7h0M68.8,362.8h0M68.9,361.2h0M69.1,361.5h0M69.2,362.0h0M69.3,361.6h0M69.4,363.1h0M69.6,365.8h0M69.7,365.6h0M69.8,361.4h0M69.9,365.0h0M70.1,363.0h0M70.2,364.4h0M70.3,363.0h0M70.4,365.2h0M70.6,363.0h0M70.7,367.7h0M70.8,366.1h0M70.9,364.3h0M71.0,366.0h0M71.2,364.7h0M71.3,363.2h0M71.4,365.8h0M71.5,365.9h0M71.7,365.0h0M71.8,367.8h0M71.9,364.7h0M72.0,367.6h0M72.2,367.4h0M72.3,365.6h0M72.4,365.3h0M72.5,367.7h0M72.7,367.0h0M72.8,368.1h0M72.9,366.3h0M73.0,366.7h0M73.2,369.3h0M73.3,367.5h0M73.4,368.8h0M73.5,366.7h0M73.7,367.0h0M73.8,366.6h0M73.9,370.2h0M74.0,369.3h0M74.2,366.1h0M74.3,368.3h0M74.4,368.1h0M74.5,369.5h0M74.7,368.9h0M74.8,368.0h0M74.9,368.7h0M75.0,368.3h0M75.2,367.9h0M75.3,369.9h0M75.4,369.1h0M75.5,368.6h0M75.6,367.3h0M75.8,367.2h0M75.9,367.4h0M76.0,370.7h0M76.1,369.7h0M76.3,368.3h0M76.4,368.7h0M76.5,371.2h0M76.6,368.5h0M76.8,368.6h0M76.9,370.3h0M77.0,370.0h0M77.1,369.9h0M77.3,370.3h0M77.4,369.3h0M77.5,371.0h0M77.6,370.2h0M77.8,371.4h0M77.9,370.8h0M78.0,368.8h0M78.1,370.6h0M78.3,371.4h0M78.4,370.7h0M78.5,372.1h0M78.6,372.3h0M78.8,371.4h0M78.9,372.8h0M79.0,370.3h0M79.1,372.3h0M79.3,372.4h0M79.4,371.2h0M79.5,369.9h0M79.6,370.1h0M79.8,371.5h0M79.9,370.5h0M80.0,371.7h0M80.1,372.8h0M80.2,373.2h0M80.4,373.3h0M80.5,370.9h0M80.6,371.6h0M80.7,374.4h0M80.9,374.8h0M81.0,374.0h0M81.1,371.1h0M81.2,371.9h0M81.4,371.5h0M81.5,373.9h0M81.6,372.7h0M81.7,372.6h0M81.9,372.3h0M82.0,376.0h0M82.1,372.8h0M82.2,372.6h0M82.4,372.5h0M82.5,372.7h0M82.6,372.4h0M82.7,374.7h0M82.9,375.1h0M83.0,375.3h0M83.1,374.0h0M83.2,373.1h0M83.4,373.3h0M83.5,375.1h0M83.6,375.8h0M83.7,373.8h0M83.9,372.6h0M84.0,375.4h0M84.1,374.7h0M84.2,374.4h0M84.4,377.3h0M84.5,377.3h0M84.6,375.1h0M84.7,373.3h0M84.8,374.9h0M85.0,376.0h0M85.1,377.5h0M85.2,376.7h0M85.3,376.3h0M85.5,376.1h0M85.6,375.2h0M85.7,375.9h0M85.8,376.4h0M86.0,376.5h0M86.1,374.3h0M86.2,376.3h0M86.3,377.6h0M86.5,375.4h0M86.6,375.6h0M86.7,376.0h0M86.8,376.1h0M87.0,376.0h0M87.1,374.6h0M87.2,377.4h0M87.3,376.3h0M87.5,375.5h0M87.6,375.9h0M87.7,375.4h0M87.8,376.3h0M88.0,377.1h0M88.1,375.8h0M88.2,376.8h0M88.3,377.3h0M88.5,378.7h0M88.6,377.5h0M88.7,379.6h0M88.8,378.3h0M89.0,378.5h0M89.1,378.4h0M89.2,378.1h0M89.3,378.7h0M89.4,378.7h0M89.6,378.5h0M89.7,378.3h0M89.8,377.6h0M89.9,378.0h0M90.1,377.9h0M90.2,379.0h0M90.3,377.7h0M90.4,377.8h0M90.6,380.0h0M90.7,377.8h0M90.8,379.3h0M90.9,377.7h0M91.1,376.4h0M91.2,377.3h0M91.3,380.8h0M91.4,377.6h0M91.6,378.9h0M91.7,379.4h0M91.8,378.3h0M91.9,377.5h0M92.1,378.9h0M92.2,380.8h0M92.3,377.1h0M92.4,377.5h0M92.6,377.7h0M92.7,379.5h0M92.8,378.5h0M92.9,378.7h0M93.1,379.4h0M93.2,378.7h0M93.3,381.3h0M93.4,379.0h0M93.6,379.9h0M93.7,377.5h0M93.8,379.3h0M93.9,380.8h0M94.0,379.6h0M94.2,379.0h0M94.3,379.9h0M94.4,377.4h0M94.5,382.1h0M94.7,378.5h0M94.8,379.1h0M94.9,379.1h0M95.0,380.4h0M95.2,380.9h0M95.3,379.8h0M95.4,379.2h0M95.5,382.3h0M95.7,379.4h0M95.8,382.3h0M95.9,380.4h0M96.0,381.1h0M96.2,379.9h0M96.3,382.9h0M96.4,383.2h0M96.5,382.1h0M96.7,381.1h0M96.8,380.1h0M96.9,381.4h0M97.0,381.8h0M97.2,381.0h0M97.3,379.7h0M97.4,379.5h0M97.5,382.2h0M97.7,382.5h0M97.8,380.2h0M97.9,380.3h0M98.0,382.9h0M98.2,381.7h0M98.3,382.4h0M98.4,381.9h0M98.5,382.0h0M98.6,382.6h0M98.8,383.4h0M98.9,382.0h0M99.0,382.0h0M99.1,380.4h0M99.3,383.0h0M99.4,381.3h0M99.5,380.9h0M99.6,383.5h0M99.8,381.8h0M99.9,381.7h0M100.0,382.7h0M100.1,382.0h0M100.3,382.3h0M100.4,380.2h0M100.5,383.4h0M100.6,383.9h0M100.8,382.4h0M100.9,381.9h0M101.0,383.4h0M101.1,382.7h0M101.3,382.1h0M101.4,381.4h0M101.5,380.9h0M101.6,383.0h0M101.8,383.2h0M101.9,381.8h0M102.0,383.4h0M102.1,382.0h0M102.3,383.6h0M102.4,383.6h0M102.5,383.8h0M102.6,382.9h0M102.8,382.4h0M102.9,383.7h0M103.0,383.6h0M103.1,382.8h0M103.2,382.6h0M103.4,383.8h0M103.5,383.4h0M103.6,384.2h0M103.7,383.8h0M103.9,382.8h0M104.0,384.4h0M104.1,382.1h0M104.2,383.1h0M104.4,384.5h0M104.5,384.6h0M104.6,385.8h0M104.7,384.5h0M104.9,382.8h0M105.0,383.3h0M105.1,382.8h0M105.2,384.5h0M105.4,384.1h0M105.5,384.7h0M105.6,385.0h0M105.7,382.5h0M105.9,384.3h0M106.0,383.7h0M106.1,382.5h0M106.2,384.4h0M106.4,382.9h0M106.5,382.3h0M106.6,386.4h0M106.7,385.4h0M106.9,385.6h0M107.0,383.7h0M107.1,385.5h0M107.2,385.9h0M107.4,384.9h0M107.5,384.1h0M107.6,386.2h0M107.7,384.1h0M107.8,384.2h0M108.0,383.7h0M108.1,385.2h0M108.2,384.5h0M108.3,384.2h0M108.5,383.9h0M108.6,385.9h0M108.7,386.1h0M108.8,383.6h0M109.0,384.3h0M109.1,386.4h0M109.2,385.2h0M109.3,384.5h0M109.5,385.6h0M109.6,385.4h0M109.7,384.0h0M109.8,385.1h0M110.0,384.9h0M110.1,384.9h0M110.2,385.4h0M110.3,386.1h0M110.5,386.5h0M110.6,385.4h0M110.7,386.2h0M110.8,385.2h0M111.0,385.5h0M111.1,385.4h0M111.2,386.1h0M111.3,385.8h0M111.5,385.8h0M111.6,385.2h0M111.7,385.6h0M111.8,385.2h0M112.0,386.4h0M112.1,386.0h0M112.2,388.0h0M112.3,387.7h0M112.4,387.2h0M112.6,384.9h0M112.7,385.2h0M112.8,386.1h0M112.9,385.8h0M113.1,387.5h0M113.2,385.8h0M113.3,385.4h0M113.4,387.9h0M113.6,387.3h0M113.7,387.2h0M113.8,386.7h0M113.9,386.6h0M114.1,386.0h0M114.2,385.9h0M114.3,385.5h0M114.4,386.9h0M114.6,387.7h0M114.7,386.8h0M114.8,386.3h0M114.9,386.6h0M115.1,387.6h0M115.2,387.1h0M115.3,385.6h0M115.4,385.4h0M115.6,386.4h0M115.7,385.7h0M115.8,386.7h0M115.9,386.7h0M116.1,386.7h0M116.2,386.1h0M116.3,386.4h0M116.4,386.4h0M116.6,386.7h0M116.7,388.1h0M116.8,386.7h0M116.9,388.0h0M117.0,387.7h0M117.2,385.8h0M117.3,387.9h0M117.4,387.5h0M117.5,387.9h0M117.7,385.8h0M117.8,387.9h0M117.9,387.6h0M118.0,386.7h0M118.2,386.9h0M118.3,387.6h0M118.4,387.2h0M118.5,387.9h0M118.7,387.8h0M118.8,386.0h0M118.9,386.8h0M119.0,387.2h0M119.2,388.4h0M119.3,388.1h0M119.4,387.8h0M119.5,388.5h0M119.7,387.3h0M119.8,388.7h0M119.9,387.2h0M120.0,387.8h0M120.2,388.0h0M120.3,387.0h0M120.4,386.9h0M120.5,388.5h0M120.7,388.6h0M120.8,387.0h0M120.9,387.8h0M121.0,388.6h0M121.2,387.9h0M121.3,387.5h0M121.4,388.6h0M121.5,388.0h0M121.6,387.6h0M121.8,387.8h0M121.9,387.9h0M122.0,387.4h0M122.1,388.9h0M122.3,388.7h0M122.4,387.8h0M122.5,387.2h0M122.6,387.1h0M122.8,387.2h0M122.9,387.6h0M123.0,386.7h0M123.1,388.5h0M123.3,388.2h0M123.4,387.1h0M123.5,386.6h0M123.6,389.0h0M123.8,388.7h0M123.9,387.5h0M124.0,388.5h0M124.1,387.3h0M124.3,389.4h0M124.4,388.5h0M124.5,388.2h0M124.6,388.2h0M124.8,388.6h0M124.9,389.3h0M125.0,388.3h0M125.1,389.5h0M125.3,388.4h0M125.4,388.3h0M125.5,389.2h0M125.6,389.7h0M125.8,390.2h0M125.9,389.6h0M126.0,388.4h0M126.1,388.9h0M126.2,389.4h0M126.4,389.7h0M126.5,390.2h0M126.6,389.8h0M126.7,390.0h0M126.9,389.6h0M127.0,388.4h0M127.1,388.0h0M127.2,389.0h0M127.4,389.2h0M127.5,390.1h0M127.6,389.1h0M127.7,391.0h0M127.9,388.6h0M128.0,389.0h0M128.1,389.9h0M128.2,390.5h0M128.4,390.6h0M128.5,388.7h0M128.6,389.2h0M128.7,390.3h0M128.9,389.4h0M129.0,389.1h0M129.1,389.0h0M129.2,389.8h0M129.4,391.1h0M129.5,389.8h0M129.6,391.0h0M129.7,390.2h0M129.9,390.2h0M130.0,389.4h0M130.1,389.6h0M130.2,389.6h0M130.4,390.0h0M130.5,391.1h0M130.6,388.7h0M130.7,390.6h0M130.8,389.2h0M131.0,390.2h0M131.1,389.2h0M131.2,389.4h0M131.3,389.8h0M131.5,388.7h0M131.6,388.6h0M131.7,389.5h0M131.8,389.8h0M132.0,390.4h0M132.1,391.0h0M132.2,389.7h0M132.3,389.7h0M132.5,390.6h0M132.6,391.2h0M132.7,389.3h0M132.8,389.4h0M133.0,391.0h0M133.1,389.0h0M133.2,389.7h0M133.3,391.1h0M133.5,390.6h0M133.6,390.9h0M133.7,390.9h0M133.8,389.5h0M134.0,390.9h0M134.1,391.3h0M134.2,391.7h0M134.3,390.0h0M134.5,392.3h0M134.6,391.8h0M134.7,391.9h0M134.8,391.1h0M135.0,391.4h0M135.1,391.2h0M135.2,391.0h0M135.3,390.4h0M135.4,390.4h0M135.6,391.5h0M135.7,391.3h0M135.8,391.6h0M135.9,391.6h0M136.1,391.5h0M136.2,391.8h0M136.3,390.5h0M136.4,391.4h0M136.6,390.9h0M136.7,389.8h0M136.8,392.0h0M136.9,391.1h0M137.1,391.4h0M137.2,391.8h0M137.3,390.3h0M137.4,390.4h0M137.6,390.7h0M137.7,389.5h0M137.8,391.7h0M137.9,391.2h0M138.1,390.5h0M138.2,391.9h0M138.3,391.0h0M138.4,391.8h0M138.6,391.9h0M138.7,391.8h0M138.8,390.6h0M138.9,391.9h0M139.1,391.9h0M139.2,392.0h0M139.3,391.6h0M139.4,392.0h0M139.6,392.1h0M139.7,391.5h0M139.8,391.5h0M139.9,390.0h0M140.0,391.6h0M140.2,390.8h0M140.3,390.9h0M140.4,390.8h0M140.5,391.2h0M140.7,390.5h0M140.8,392.2h0M140.9,392.5h0M141.0,392.8h0M141.2,393.2h0M141.3,391.8h0M141.4,393.5h0M141.5,392.2h0M141.7,391.9h0M141.8,392.9h0M141.9,392.9h0M142.0,392.4h0M142.2,391.5h0M142.3,392.7h0M142.4,391.3h0M142.5,392.5h0M142.7,391.0h0M142.8,392.2h0M142.9,391.5h0M143.0,391.8h0M143.2,392.6h0M143.3,391.5h0M143.4,390.9h0M143.5,390.3h0M143.7,392.0h0M143.8,391.3h0M143.9,391.7h0M144.0,392.0h0M144.2,391.0h0M144.3,391.2h0M144.4,390.9h0M144.5,391.4h0M144.6,391.6h0M144.8,391.5h0M144.9,392.3h0M145.0,392.5h0M145.1,393.0h0M145.3,391.9h0M145.4,392.7h0M145.5,392.3h0M145.6,392.8h0M145.8,391.5h0M145.9,392.5h0M146.0,391.8h0M146.1,392.6h0M146.3,392.0h0M146.4,391.9h0M146.5,391.0h0M146.6,392.4h0M146.8,392.5h0M146.9,392.3h0M147.0,391.6h0M147.1,391.3h0M147.3,391.5h0M147.4,392.7h0M147.5,392.7h0M147.6,391.6h0M147.8,392.9h0M147.9,392.7h0M148.0,392.5h0M148.1,392.9h0M148.3,392.0h0M148.4,392.8h0M148.5,393.2h0M148.6,391.7h0M148.8,391.2h0M148.9,393.7h0M149.0,392.7h0M149.1,392.0h0M149.2,391.7h0M149.4,393.7h0M149.5,391.8h0M149.6,392.1h0M149.7,394.3h0M149.9,393.2h0M150.0,394.4h0M150.1,394.0h0M150.2,394.1h0M150.4,395.5h0M150.5,393.6h0M150.6,393.9h0M150.7,394.3h0M150.9,392.8h0M151.0,394.1h0M151.1,393.3h0M151.2,393.8h0M151.4,393.4h0M151.5,393.3h0M151.6,392.5h0M151.7,393.5h0M151.9,393.6h0M152.0,392.3h0M152.1,393.3h0M152.2,393.7h0M152.4,392.5h0M152.5,392.7h0M152.6,394.2h0M152.7,393.0h0M152.9,392.6h0M153.0,392.5h0M153.1,393.0h0M153.2,394.5h0M153.4,392.6h0M153.5,394.0h0M153.6,393.9h0M153.7,392.4h0M153.8,392.5h0M154.0,393.0h0M154.1,394.0h0M154.2,392.9h0M154.3,393.0h0M154.5,393.4h0M154.6,393.8h0M154.7,394.1h0M154.8,394.0h0M155.0,393.2h0M155.1,394.6h0M155.2,393.4h0M155.3,392.4h0M155.5,393.1h0M155.6,393.9h0M155.7,393.1h0M155.8,394.2h0M156.0,393.7h0M156.1,394.0h0M156.2,394.2h0M156.3,393.8h0M156.5,393.6h0M156.6,392.9h0M156.7,393.4h0M156.8,393.2h0M157.0,394.3h0M157.1,393.3h0M157.2,393.5h0M157.3,394.1h0M157.5,392.8h0M157.6,393.4h0M157.7,393.4h0M157.8,394.3h0M158.0,393.1h0M158.1,393.6h0M158.2,395.3h0M158.3,393.6h0M158.4,393.2h0M158.6,394.3h0M158.7,395.0h0M158.8,395.2h0M158.9,393.4h0M159.1,394.2h0M159.2,393.6h0M159.3,394.0h0M159.4,392.9h0M159.6,394.1h0M159.7,394.3h0M159.8,394.4h0M159.9,393.2h0M160.1,393.9h0M160.2,394.8h0M160.3,393.9h0M160.4,394.1h0M160.6,394.7h0M160.7,395.2h0M160.8,395.2h0M160.9,394.0h0M161.1,394.5h0M161.2,395.2h0M161.3,395.8h0M161.4,393.8h0M161.6,394.5h0M161.7,393.4h0M161.8,393.8h0M161.9,393.9h0M162.1,393.8h0M162.2,393.3h0M162.3,393.9h0M162.4,394.4h0M162.6,395.1h0M162.7,394.6h0M162.8,396.0h0M162.9,395.4h0M163.0,395.2h0M163.2,395.7h0M163.3,396.3h0M163.4,395.1h0M163.5,394.5h0M163.7,395.2h0M163.8,393.7h0M163.9,394.0h0M164.0,394.2h0M164.2,394.7h0M164.3,394.4h0M164.4,394.5h0M164.5,394.1h0M164.7,393.9h0M164.8,395.3h0M164.9,394.1h0M165.0,394.8h0M165.2,395.4h0M165.3,395.0h0M165.4,394.7h0M165.5,394.8h0M165.7,395.9h0M165.8,394.8h0M165.9,395.4h0M166.0,395.1h0M166.2,395.4h0M166.3,396.3h0M166.4,394.8h0M166.5,395.2h0M166.7,395.7h0M166.8,394.7h0M166.9,395.0h0M167.0,395.1h0M167.2,394.8h0M167.3,394.8h0M167.4,395.9h0M167.5,395.7h0M167.6,395.5h0M167.8,395.3h0M167.9,395.4h0M168.0,395.4h0M168.1,395.9h0M168.3,396.4h0M168.4,395.0h0M168.5,396.6h0M168.6,395.4h0M168.8,394.8h0M168.9,395.1h0M169.0,395.0h0M169.1,396.2h0M169.3,395.9h0M169.4,395.6h0M169.5,394.4h0M169.6,396.1h0M169.8,394.3h0M169.9,395.5h0M170.0,394.3h0M170.1,395.8h0M170.3,395.1h0M170.4,396.1h0M170.5,395.2h0M170.6,395.7h0M170.8,396.1h0M170.9,394.5h0M171.0,395.4h0M171.1,397.4h0M171.3,397.9h0M171.4,396.0h0M171.5,396.5h0M171.6,397.3h0M171.8,396.3h0M171.9,396.4h0M172.0,396.1h0M172.1,395.3h0M172.2,396.2h0M172.4,394.8h0M172.5,395.5h0M172.6,396.0h0M172.7,395.5h0M172.9,397.4h0M173.0,396.4h0M173.1,395.6h0M173.2,395.8h0M173.4,397.6h0M173.5,396.5h0M173.6,395.7h0M173.7,396.7h0M173.9,395.5h0M174.0,395.8h0M174.1,395.3h0M174.2,395.4h0M174.4,396.9h0M174.5,396.4h0M174.6,396.1h0M174.7,396.5h0M174.9,396.9h0M175.0,395.5h0M175.1,395.4h0M175.2,396.5h0M175.4,395.4h0M175.5,394.8h0M175.6,395.4h0M175.7,396.5h0M175.9,395.7h0M176.0,395.4h0M176.1,396.1h0M176.2,396.1h0M176.4,395.9h0M176.5,395.7h0M176.6,395.4h0M176.7,395.6h0M176.8,395.6h0M177.0,395.9h0M177.1,396.1h0M177.2,395.5h0M177.3,395.6h0M177.5,396.3h0M177.6,396.0h0M177.7,395.9h0M177.8,396.4h0M178.0,396.5h0M178.1,396.1h0M178.2,395.9h0M178.3,396.4h0M178.5,396.9h0M178.6,397.4h0M178.7,395.7h0M178.8,395.7h0M179.0,397.5h0M179.1,397.5h0M179.2,397.7h0M179.3,397.4h0M179.5,397.3h0M179.6,396.3h0M179.7,396.7h0M179.8,396.9h0M180.0,397.5h0M180.1,398.0h0M180.2,397.6h0M180.3,398.2h0M180.5,396.2h0M180.6,397.6h0M180.7,396.2h0M180.8,397.1h0M181.0,396.0h0M181.1,396.3h0M181.2,397.4h0M181.3,396.5h0M181.4,397.2h0M181.6,397.6h0M181.7,397.5h0M181.8,397.1h0M181.9,397.3h0M182.1,397.3h0M182.2,397.9h0M182.3,396.9h0M182.4,397.3h0M182.6,396.7h0M182.7,396.6h0M182.8,396.3h0M182.9,397.4h0M183.1,398.0h0M183.2,397.0h0M183.3,397.5h0M183.4,398.4h0M183.6,397.3h0M183.7,396.7h0M183.8,397.6h0M183.9,397.8h0M184.1,396.8h0M184.2,396.2h0M184.3,398.3h0M184.4,397.1h0M184.6,394.5h0M184.7,395.5h0M184.8,397.9h0M184.9,395.9h0M185.1,396.2h0M185.2,396.1h0M185.3,397.5h0M185.4,397.4h0M185.6,396.4h0M185.7,397.2h0M185.8,397.4h0M185.9,397.1h0M186.0,398.1h0M186.2,396.8h0M186.3,396.8h0M186.4,397.1h0M186.5,397.9h0M186.7,397.7h0M186.8,397.5h0M186.9,396.8h0M187.0,397.9h0M187.2,398.1h0M187.3,396.9h0M187.4,397.4h0M187.5,397.2h0M187.7,398.8h0M187.8,398.1h0M187.9,396.9h0M188.0,398.1h0M188.2,398.4h0M188.3,397.5h0M188.4,396.8h0M188.5,397.2h0M188.7,398.3h0M188.8,397.9h0M188.9,397.2h0M189.0,398.1h0M189.2,397.6h0M189.3,396.7h0M189.4,397.7h0M189.5,398.4h0M189.7,397.5h0M189.8,397.7h0M189.9,397.8h0M190.0,397.4h0M190.2,397.8h0M190.3,397.6h0M190.4,397.7h0M190.5,397.6h0M190.6,397.2h0M190.8,397.2h0M190.9,398.0h0M191.0,398.3h0M191.1,398.5h0M191.3,396.6h0M191.4,397.9h0M191.5,397.7h0M191.6,399.3h0M191.8,397.2h0M191.9,397.4h0M192.0,397.5h0M192.1,399.0h0M192.3,397.7h0M192.4,397.3h0M192.5,397.5h0M192.6,397.1h0M192.8,398.3h0M192.9,396.8h0M193.0,398.8h0M193.1,398.6h0M193.3,397.8h0M193.4,396.7h0M193.5,397.8h0M193.6,398.3h0M193.8,398.1h0M193.9,396.9h0M194.0,398.0h0M194.1,397.8h0M194.3,398.7h0M194.4,397.0h0M194.5,398.0h0M194.6,398.5h0M194.8,397.4h0M194.9,398.1h0M195.0,397.9h0M195.1,397.3h0M195.2,397.7h0M195.4,397.9h0M195.5,398.6h0M195.6,398.1h0M195.7,397.5h0M195.9,398.3h0M196.0,398.1h0M196.1,398.3h0M196.2,398.6h0M196.4,397.8h0M196.5,398.2h0M196.6,396.8h0M196.7,397.0h0M196.9,398.9h0M197.0,397.2h0M197.1,398.2h0M197.2,397.6h0M197.4,398.4h0M197.5,397.9h0M197.6,399.1h0M197.7,399.4h0M197.9,399.0h0M198.0,398.6h0M198.1,398.5h0M198.2,399.2h0M198.4,397.7h0M198.5,397.4h0M198.6,399.3h0M198.7,398.5h0M198.9,397.2h0M199.0,399.1h0M199.1,397.8h0M199.2,398.3h0M199.4,397.6h0M199.5,399.4h0M199.6,398.7h0M199.7,397.8h0M199.8,400.0h0M200.0,398.0h0M200.1,398.7h0M200.2,398.0h0M200.3,398.4h0M200.5,397.9h0M200.6,398.1h0M200.7,398.9h0M200.8,397.2h0M201.0,397.8h0M201.1,397.5h0M201.2,398.5h0M201.3,398.4h0M201.5,399.5h0M201.6,397.9h0M201.7,398.9h0M201.8,398.0h0M202.0,397.5h0M202.1,399.1h0M202.2,398.4h0M202.3,397.6h0M202.5,397.4h0M202.6,396.4h0M202.7,398.2h0M202.8,398.4h0M203.0,398.7h0M203.1,397.8h0M203.2,398.0h0M203.3,398.4h0M203.5,398.4h0M203.6,399.1h0M203.7,399.2h0M203.8,399.2h0M204.0,398.8h0M204.1,399.5h0M204.2,399.2h0M204.3,398.0h0M204.4,398.1h0M204.6,398.3h0M204.7,399.0h0M204.8,398.6h0M204.9,399.7h0M205.1,399.4h0M205.2,399.4h0M205.3,399.9h0M205.4,398.2h0M205.6,398.1h0M205.7,399.7h0M205.8,399.6h0M205.9,398.2h0M206.1,399.3h0M206.2,400.0h0M206.3,399.4h0M206.4,399.5h0M206.6,398.5h0M206.7,399.4h0M206.8,399.3h0M206.9,398.9h0M207.1,399.1h0M207.2,398.1h0M207.3,398.7h0M207.4,399.0h0M207.6,399.0h0M207.7,399.1h0M207.8,398.5h0M207.9,399.9h0M208.1,398.7h0M208.2,400.0h0M208.3,399.2h0M208.4,400.1h0M208.6,400.3h0M208.7,399.7h0M208.8,400.0h0M208.9,400.7h0M209.0,399.2h0M209.2,399.4h0M209.3,400.1h0M209.4,398.9h0M209.5,398.9h0M209.7,399.6h0M209.8,399.6h0M209.9,398.4h0M210.0,399.4h0M210.2,399.8h0M210.3,398.7h0M210.4,399.6h0M210.5,399.4h0M210.7,398.8h0M210.8,398.8h0M210.9,398.6h0M211.0,400.1h0M211.2,398.2h0M211.3,399.5h0M211.4,399.2h0M211.5,398.7h0M211.7,398.1h0M211.8,398.9h0M211.9,398.6h0M212.0,398.4h0M212.2,399.0h0M212.3,399.3h0M212.4,399.2h0M212.5,399.1h0M212.7,398.7h0M212.8,398.9h0M212.9,399.9h0M213.0,400.4h0M213.2,399.2h0M213.3,398.4h0M213.4,399.5h0M213.5,399.6h0M213.6,399.3h0M213.8,399.6h0M213.9,398.9h0M214.0,399.9h0M214.1,398.6h0M214.3,399.2h0M214.4,399.7h0M214.5,399.7h0M214.6,400.1h0M214.8,399.5h0M214.9,399.1h0M215.0,399.4h0M215.1,399.2h0M215.3,399.0h0M215.4,398.7h0M215.5,400.8h0M215.6,400.4h0M215.8,399.8h0M215.9,399.3h0M216.0,398.2h0M216.1,399.2h0M216.3,400.4h0M216.4,399.3h0M216.5,400.6h0M216.6,399.4h0M216.8,399.6h0M216.9,400.0h0M217.0,399.8h0M217.1,400.8h0M217.3,400.0h0M217.4,399.6h0M217.5,400.1h0M217.6,399.6h0M217.8,400.2h0M217.9,400.1h0M218.0,399.4h0M218.1,399.5h0M218.2,400.0h0M218.4,399.6h0M218.5,400.0h0M218.6,400.4h0M218.7,399.6h0M218.9,401.1h0M219.0,400.0h0M219.1,400.4h0M219.2,400.4h0M219.4,400.2h0M219.5,399.4h0M219.6,400.8h0M219.7,399.9h0M219.9,399.5h0M220.0,400.0h0M220.1,398.9h0M220.2,400.3h0M220.4,399.8h0M220.5,400.5h0M220.6,400.0h0M220.7,399.6h0M220.9,399.7h0M221.0,398.8h0M221.1,399.9h0M221.2,399.7h0M221.4,400.7h0M221.5,399.1h0M221.6,400.6h0M221.7,399.8h0M221.9,399.9h0M222.0,400.6h0M222.1,400.6h0M222.2,399.1h0M222.4,399.9h0M222.5,400.8h0M222.6,400.1h0M222.7,400.0h0M222.8,400.3h0M223.0,399.6h0M223.1,400.4h0M223.2,400.3h0M223.3,400.6h0M223.5,400.1h0M223.6,400.0h0M223.7,398.7h0M223.8,399.7h0M224.0,400.0h0M224.1,399.7h0M224.2,399.1h0M224.3,399.6h0M224.5,399.7h0M224.6,399.9h0M224.7,400.7h0M224.8,400.0h0M225.0,400.5h0M225.1,400.4h0M225.2,401.0h0M225.3,400.9h0M225.5,401.7h0M225.6,400.9h0M225.7,400.8h0M225.8,401.0h0M226.0,401.2h0M226.1,401.3h0M226.2,401.8h0M226.3,400.8h0M226.5,400.2h0M226.6,399.9h0M226.7,400.9h0M226.8,400.0h0M227.0,400.1h0M227.1,401.2h0M227.2,401.2h0M227.3,401.5h0M227.4,400.1h0M227.6,401.1h0M227.7,400.4h0M227.8,401.1h0M227.9,399.8h0M228.1,401.4h0M228.2,401.4h0M228.3,400.2h0M228.4,399.7h0M228.6,400.3h0M228.7,401.1h0M228.8,400.6h0M228.9,400.4h0M229.1,400.6h0M229.2,400.2h0M229.3,400.6h0M229.4,399.7h0M229.6,399.3h0M229.7,400.0h0M229.8,401.6h0M229.9,400.5h0M230.1,401.5h0M230.2,400.3h0M230.3,400.4h0M230.4,400.9h0M230.6,402.1h0M230.7,400.5h0M230.8,400.9h0M230.9,400.8h0M231.1,401.1h0M231.2,400.7h0M231.3,400.6h0M231.4,400.7h0M231.6,400.6h0M231.7,401.5h0M231.8,401.7h0M231.9,400.9h0M232.0,400.4h0M232.2,401.9h0M232.3,400.8h0M232.4,401.7h0M232.5,401.6h0M232.7,400.4h0M232.8,400.7h0M232.9,400.6h0M233.0,401.4h0M233.2,400.7h0M233.3,400.8h0M233.4,401.6h0M233.5,400.8h0M233.7,401.3h0M233.8,401.4h0M233.9,401.6h0M234.0,400.5h0M234.2,401.5h0M234.3,401.7h0M234.4,400.7h0M234.5,401.7h0M234.7,399.7h0M234.8,401.8h0M234.9,400.8h0M235.0,400.4h0M235.2,401.9h0" stroke="#f00" stroke-width="2.2" stroke-linecap="square" fill="none"/>
<path d="M56.1,523.0h0M56.2,526.3h0M56.2,529.7h0M56.3,531.7h0M56.3,534.8h0M56.4,537.1h0M56.4,539.4h0M56.5,542.7h0M56.5,544.6h0M56.6,546.5h0M56.6,549.1h0M56.7,550.9h0M56.7,551.9h0M56.8,553.5h0M56.8,555.3h0M56.9,558.0h0M56.9,559.1h0M57.0,560.1h0M57.0,561.2h0M57.1,560.7h0M57.1,563.3h0M57.2,564.0h0M57.4,567.2h0M57.5,568.4h0M57.6,568.5h0M57.7,570.4h0M57.9,569.5h0M58.0,569.9h0M58.1,570.8h0M58.2,572.9h0M58.4,571.2h0M58.5,574.4h0M58.6,574.5h0M58.7,572.0h0M58.8,573.4h0M59.0,577.0h0M59.1,574.5h0M59.2,575.8h0M59.3,578.0h0M59.5,576.4h0M59.6,577.2h0M59.7,575.5h0M59.8,580.3h0M60.0,579.3h0M60.1,578.9h0M60.2,579.6h0M60.3,581.8h0M60.5,581.3h0M60.6,583.0h0M60.7,580.5h0M60.8,582.5h0M61.0,579.5h0M61.1,583.7h0M61.2,581.2h0M61.3,578.4h0M61.5,583.7h0M61.6,580.2h0M61.7,580.3h0M61.8,580.9h0M62.0,582.0h0M62.1,583.6h0M62.2,584.6h0M62.3,585.0h0M62.5,585.0h0M62.6,585.8h0M62.7,580.0h0M62.8,581.6h0M62.9,583.6h0M63.1,581.2h0M63.2,580.8h0M63.3,582.3h0M63.4,585.2h0M63.6,582.4h0M63.7,584.0h0M63.8,585.1h0M63.9,586.0h0M64.1,582.3h0M64.2,582.6h0M64.3,582.9h0M64.4,586.3h0M64.6,585.2h0M64.7,581.0h0M64.8,583.4h0M64.9,581.0h0M65.1,584.7h0M65.2,585.1h0M65.3,584.4h0M65.4,586.3h0M65.6,586.6h0M65.7,582.4h0M65.8,586.0h0M65.9,582.7h0M66.1,584.2h0M66.2,583.4h0M66.3,582.5h0M66.4,586.7h0M66.5,587.0h0M66.7,583.5h0M66.8,587.6h0M66.9,584.9h0M67.0,587.3h0M67.2,583.6h0M67.3,588.1h0M67.4,583.6h0M67.5,587.5h0M67.7,587.8h0M67.8,585.8h0M67.9,586.4h0M68.0,587.0h0M68.2,585.6h0M68.3,587.1h0M68.4,587.0h0M68.5,588.7h0M68.7,587.5h0M68.8,586.3h0M68.9,584.9h0M69.0,584.2h0M69.2,584.8h0M69.3,584.6h0M69.4,589.0h0M69.5,584.4h0M69.7,586.8h0M69.8,586.1h0M69.9,586.3h0M70.0,583.7h0M70.1,585.7h0M70.3,584.5h0M70.4,586.3h0M70.5,585.4h0M70.6,585.1h0M70.8,584.5h0M70.9,586.1h0M71.0,589.0h0M71.1,590.1h0M71.3,586.8h0M71.4,589.5h0M71.5,589.3h0M71.6,585.0h0M71.8,589.0h0M71.9,585.0h0M72.0,588.4h0M72.1,586.5h0M72.3,589.2h0M72.4,585.1h0M72.5,590.4h0M72.6,589.0h0M72.8,585.0h0M72.9,588.2h0M73.0,589.8h0M73.1,588.9h0M73.3,588.7h0M73.4,589.4h0M73.5,588.7h0M73.6,588.0h0M73.8,589.5h0M73.9,587.0h0M74.0,588.3h0M74.1,587.9h0M74.2,585.0h0M74.4,585.3h0M74.5,591.0h0M74.6,590.9h0M74.7,588.5h0M74.9,587.7h0M75.0,588.7h0M75.1,589.5h0M75.2,587.5h0M75.4,587.0h0M75.5,590.6h0M75.6,585.7h0M75.7,590.2h0M75.9,587.4h0M76.0,584.5h0M76.1,589.5h0M76.2,591.0h0M76.4,590.1h0M76.5,588.0h0M76.6,587.8h0M76.7,586.3h0M76.9,589.6h0M77.0,589.0h0M77.1,587.2h0M77.2,589.3h0M77.4,590.7h0M77.5,588.7h0M77.6,587.6h0M77.7,588.8h0M77.8,589.1h0M78.0,589.6h0M78.1,589.3h0M78.2,586.5h0M78.3,589.4h0M78.5,591.2h0M78.6,586.6h0M78.7,586.5h0M78.8,590.4h0M79.0,589.1h0M79.1,587.3h0M79.2,587.7h0M79.3,586.6h0M79.5,586.6h0M79.6,589.8h0M79.7,587.4h0M79.8,591.3h0M80.0,590.4h0M80.1,590.9h0M80.2,590.1h0M80.3,586.0h0M80.5,589.7h0M80.6,587.7h0M80.7,590.5h0M80.8,588.3h0M81.0,586.8h0M81.1,585.8h0M81.2,589.5h0M81.3,585.1h0M81.4,587.2h0M81.6,588.7h0M81.7,589.7h0M81.8,588.5h0M81.9,588.1h0M82.1,588.9h0M82.2,588.7h0M82.3,590.4h0M82.4,590.5h0M82.6,588.8h0M82.7,586.3h0M82.8,591.1h0M82.9,587.2h0M83.1,589.2h0M83.2,588.8h0M83.3,587.3h0M83.4,589.5h0M83.6,589.8h0M83.7,589.8h0M83.8,588.8h0M83.9,590.6h0M84.1,590.8h0M84.2,588.4h0M84.3,590.4h0M84.4,589.5h0M84.6,588.2h0M84.7,590.9h0M84.8,589.3h0M84.9,590.3h0M85.1,586.9h0M85.2,587.5h0M85.3,587.8h0M85.4,589.1h0M85.5,592.0h0M85.7,588.7h0M85.8,587.6h0M85.9,591.6h0M86.0,590.7h0M86.2,590.7h0M86.3,589.0h0M86.4,590.0h0M86.5,590.6h0M86.7,588.7h0M86.8,592.0h0M86.9,590.9h0M87.0,592.4h0M87.2,591.3h0M87.3,591.1h0M87.4,591.6h0M87.5,589.7h0M87.7,588.9h0M87.8,588.0h0M87.9,591.4h0M88.0,589.2h0M88.2,589.3h0M88.3,588.4h0M88.4,588.1h0M88.5,588.8h0M88.7,588.9h0M88.8,592.2h0M88.9,591.6h0M89.0,592.4h0M89.1,590.2h0M89.3,589.0h0M89.4,593.6h0M89.5,592.1h0M89.6,592.8h0M89.8,590.1h0M89.9,590.0h0M90.0,592.8h0M90.1,589.9h0M90.3,591.8h0M90.4,590.3h0M90.5,590.2h0M90.6,590.4h0M90.8,593.2h0M90.9,591.9h0M91.0,592.7h0M91.1,589.6h0M91.3,591.0h0M91.4,592.1h0M91.5,591.4h0M91.6,592.3h0M91.8,594.0h0M91.9,593.4h0M92.0,589.9h0M92.1,593.4h0M92.3,591.5h0M92.4,591.5h0M92.5,589.3h0M92.6,589.7h0M92.7,591.2h0M92.9,590.9h0M93.0,592.0h0M93.1,592.2h0M93.2,593.5h0M93.4,591.8h0M93.5,594.6h0M93.6,593.0h0M93.7,594.2h0M93.9,593.4h0M94.0,590.9h0M94.1,594.0h0M94.2,592.0h0M94.4,592.7h0M94.5,592.1h0M94.6,590.9h0M94.7,593.5h0M94.9,591.1h0M95.0,594.8h0M95.1,594.8h0M95.2,590.6h0M95.4,590.1h0M95.5,593.1h0M95.6,594.2h0M95.7,593.4h0M95.9,594.4h0M96.0,593.8h0M96.1,594.6h0M96.2,590.6h0M96.4,593.2h0M96.5,592.9h0M96.6,593.6h0M96.7,590.5h0M96.8,592.0h0M97.0,590.7h0M97.1,592.2h0M97.2,595.0h0M97.3,591.3h0M97.5,591.7h0M97.6,590.5h0M97.7,594.5h0M97.8,592.5h0M98.0,594.5h0M98.1,594.8h0M98.2,595.6h0M98.3,592.1h0M98.5,592.1h0M98.6,594.6h0M98.7,592.9h0M98.8,594.1h0M99.0,593.5h0M99.1,593.0h0M99.2,592.9h0M99.3,594.3h0M99.5,595.9h0M99.6,595.6h0M99.7,592.0h0M99.8,595.3h0M100.0,593.4h0M100.1,593.3h0M100.2,592.6h0M100.3,594.4h0M100.4,591.6h0M100.6,593.7h0M100.7,592.3h0M100.8,591.8h0M100.9,594.1h0M101.1,592.6h0M101.2,593.9h0M101.3,592.0h0M101.4,596.4h0M101.6,592.4h0M101.7,594.2h0M101.8,592.9h0M101.9,595.7h0M102.1,592.5h0M102.2,596.8h0M102.3,594.0h0M102.4,593.6h0M102.6,596.3h0M102.7,592.6h0M102.8,593.4h0M102.9,595.6h0M103.1,593.5h0M103.2,596.1h0M103.3,595.9h0M103.4,593.5h0M103.6,594.3h0M103.7,593.5h0M103.8,595.9h0M103.9,592.9h0M104.0,592.5h0M104.2,595.6h0M104.3,593.4h0M104.4,595.8h0M104.5,593.2h0M104.7,595.9h0M104.8,591.7h0M104.9,592.0h0M105.0,592.2h0M105.2,593.7h0M105.3,595.8h0M105.4,593.7h0M105.5,592.5h0M105.7,595.4h0M105.8,594.0h0M105.9,592.1h0M106.0,594.9h0M106.2,592.2h0M106.3,591.4h0M106.4,592.6h0M106.5,595.2h0M106.7,595.2h0M106.8,593.4h0M106.9,594.0h0M107.0,591.7h0M107.2,593.4h0M107.3,593.9h0M107.4,596.0h0M107.5,593.7h0M107.7,595.7h0M107.8,593.4h0M107.9,593.6h0M108.0,594.1h0M108.1,592.5h0M108.3,594.6h0M108.4,592.7h0M108.5,593.9h0M108.6,591.4h0M108.8,590.5h0M108.9,591.8h0M109.0,592.8h0M109.1,595.1h0M109.3,592.3h0M109.4,592.0h0M109.5,594.4h0M109.6,592.4h0M109.8,590.8h0M109.9,595.2h0M110.0,595.0h0M110.1,591.8h0M110.3,592.4h0M110.4,595.8h0M110.5,593.6h0M110.6,592.4h0M110.8,594.4h0M110.9,592.2h0M111.0,592.2h0M111.1,591.7h0M111.3,592.4h0M111.4,592.3h0M111.5,595.4h0M111.6,593.2h0M111.7,595.3h0M111.9,593.3h0M112.0,592.3h0M112.1,592.5h0M112.2,594.9h0M112.4,592.3h0M112.5,593.6h0M112.6,593.7h0M112.7,596.1h0M112.9,592.1h0M113.0,593.5h0M113.1,592.7h0M113.2,592.4h0M113.4,591.4h0M113.5,593.8h0M113.6,594.5h0M113.7,593.1h0M113.9,593.1h0M114.0,591.5h0M114.1,594.4h0M114.2,591.9h0M114.4,592.9h0M114.5,593.5h0M114.6,592.3h0M114.7,595.2h0M114.9,594.6h0M115.0,596.3h0M115.1,594.3h0M115.2,595.3h0M115.3,593.0h0M115.5,593.8h0M115.6,594.5h0M115.7,596.1h0M115.8,594.5h0M116.0,596.2h0M116.1,592.3h0M116.2,597.1h0M116.3,594.8h0M116.5,596.3h0M116.6,591.8h0M116.7,592.4h0M116.8,591.8h0M117.0,591.9h0M117.1,594.5h0M117.2,591.7h0M117.3,592.6h0M117.5,595.7h0M117.6,594.8h0M117.7,594.5h0M117.8,591.9h0M118.0,596.7h0M118.1,594.3h0M118.2,593.4h0M118.3,594.8h0M118.5,593.9h0M118.6,594.1h0M118.7,596.9h0M118.8,595.9h0M119.0,596.8h0M119.1,596.4h0M119.2,596.3h0M119.3,595.2h0M119.4,594.9h0M119.6,592.8h0M119.7,594.2h0M119.8,595.3h0M119.9,592.7h0M120.1,595.4h0M120.2,593.7h0M120.3,593.3h0M120.4,592.5h0M120.6,593.2h0M120.7,593.8h0M120.8,596.7h0M120.9,596.3h0M121.1,596.2h0M121.2,597.4h0M121.3,596.5h0M121.4,596.1h0M121.6,594.5h0M121.7,597.5h0M121.8,597.1h0M121.9,597.5h0M122.1,594.5h0M122.2,595.6h0M122.3,596.2h0M122.4,593.9h0M122.6,596.4h0M122.7,593.9h0M122.8,594.2h0M122.9,594.8h0M123.0,594.1h0M123.2,593.0h0M123.3,593.4h0M123.4,593.5h0M123.5,593.1h0M123.7,594.5h0M123.8,593.8h0M123.9,594.9h0M124.0,592.7h0M124.2,593.7h0M124.3,595.6h0M124.4,593.8h0M124.5,596.8h0M124.7,594.9h0M124.8,597.1h0M124.9,594.2h0M125.0,596.1h0M125.2,594.3h0M125.3,597.2h0M125.4,592.9h0M125.5,592.8h0M125.7,592.3h0M125.8,595.1h0M125.9,596.9h0M126.0,597.1h0M126.2,593.9h0M126.3,596.0h0M126.4,596.8h0M126.5,593.9h0M126.6,594.2h0M126.8,594.4h0M126.9,594.3h0M127.0,597.4h0M127.1,595.7h0M127.3,595.9h0M127.4,596.8h0M127.5,593.9h0M127.6,596.9h0M127.8,596.3h0M127.9,595.6h0M128.0,593.9h0M128.1,594.5h0M128.3,594.8h0M128.4,596.3h0M128.5,596.7h0M128.6,595.9h0M128.8,597.1h0M128.9,596.5h0M129.0,594.8h0M129.1,597.2h0M129.3,593.4h0M129.4,596.3h0M129.5,596.8h0M129.6,594.7h0M129.8,596.9h0M129.9,594.5h0M130.0,594.4h0M130.1,596.9h0M130.3,597.1h0M130.4,596.6h0M130.5,597.8h0M130.6,597.2h0M130.7,597.3h0M130.9,596.3h0M131.0,597.2h0M131.1,595.8h0M131.2,595.3h0M131.4,594.2h0M131.5,597.1h0M131.6,597.1h0M131.7,595.3h0M131.9,596.2h0M132.0,595.1h0M132.1,595.7h0M132.2,596.4h0M132.4,595.1h0M132.5,595.3h0M132.6,595.4h0M132.7,594.2h0M132.9,597.7h0M133.0,594.0h0M133.1,596.6h0M133.2,595.3h0M133.4,597.4h0M133.5,596.4h0M133.6,597.1h0M133.7,595.6h0M133.9,594.7h0M134.0,594.3h0M134.1,596.6h0M134.2,593.9h0M134.3,597.1h0M134.5,595.9h0M134.6,595.4h0M134.7,594.3h0M134.8,593.4h0M135.0,598.9h0M135.1,594.8h0M135.2,594.3h0M135.3,594.0h0M135.5,598.1h0M135.6,595.3h0M135.7,597.2h0M135.8,595.5h0M136.0,596.6h0M136.1,595.0h0M136.2,598.2h0M136.3,597.9h0M136.5,594.4h0M136.6,594.4h0M136.7,595.1h0M136.8,596.6h0M137.0,596.6h0M137.1,595.6h0M137.2,593.6h0M137.3,596.0h0M137.5,596.7h0M137.6,597.3h0M137.7,593.6h0M137.8,593.3h0M137.9,597.8h0M138.1,594.0h0M138.2,595.2h0M138.3,594.1h0M138.4,598.0h0M138.6,595.4h0M138.7,595.7h0M138.8,594.4h0M138.9,596.4h0M139.1,597.8h0M139.2,597.7h0M139.3,595.6h0M139.4,593.8h0M139.6,596.8h0M139.7,596.2h0M139.8,596.3h0M139.9,595.8h0M140.1,595.0h0M140.2,597.1h0M140.3,595.9h0M140.4,595.5h0M140.6,595.2h0M140.7,595.1h0M140.8,595.2h0M140.9,599.7h0M141.1,598.6h0M141.2,595.7h0M141.3,595.1h0M141.4,598.0h0M141.6,594.5h0M141.7,598.4h0M141.8,595.7h0M141.9,597.7h0M142.0,597.8h0M142.2,598.7h0M142.3,594.4h0M142.4,594.6h0M142.5,594.1h0M142.7,598.2h0M142.8,598.3h0M142.9,595.0h0M143.0,595.3h0M143.2,595.9h0M143.3,595.0h0M143.4,594.2h0M143.5,594.5h0M143.7,597.9h0M143.8,594.3h0M143.9,595.4h0M144.0,595.9h0M144.2,596.9h0M144.3,598.5h0M144.4,596.4h0M144.5,596.3h0M144.7,598.1h0M144.8,595.8h0M144.9,597.7h0M145.0,597.4h0M145.2,598.5h0M145.3,598.3h0M145.4,595.8h0M145.5,596.2h0M145.6,597.8h0M145.8,596.4h0M145.9,594.9h0M146.0,594.6h0M146.1,600.3h0M146.3,595.0h0M146.4,595.1h0M146.5,597.0h0M146.6,597.2h0M146.8,597.7h0M146.9,597.7h0M147.0,597.7h0M147.1,599.5h0M147.3,597.4h0M147.4,595.0h0M147.5,594.8h0M147.6,596.8h0M147.8,595.9h0M147.9,597.4h0M148.0,597.1h0M148.1,596.4h0M148.3,595.5h0M148.4,598.8h0M148.5,595.5h0M148.6,597.3h0M148.8,597.3h0M148.9,596.4h0M149.0,597.6h0M149.1,600.1h0M149.2,597.1h0M149.4,597.8h0M149.5,596.3h0M149.6,596.6h0M149.7,599.7h0M149.9,596.4h0M150.0,597.2h0M150.1,600.3h0M150.2,596.3h0M150.4,599.2h0M150.5,597.4h0M150.6,595.4h0M150.7,598.3h0M150.9,598.4h0M151.0,598.0h0M151.1,596.2h0M151.2,598.8h0M151.4,597.2h0M151.5,595.7h0M151.6,599.2h0M151.7,599.6h0M151.9,596.1h0M152.0,599.6h0M152.1,597.5h0M152.2,600.0h0M152.4,597.0h0M152.5,598.7h0M152.6,600.5h0M152.7,598.9h0M152.9,596.9h0M153.0,600.2h0M153.1,599.2h0M153.2,597.8h0M153.3,598.6h0M153.5,596.9h0M153.6,600.1h0M153.7,598.0h0M153.8,598.0h0M154.0,595.8h0M154.1,598.3h0M154.2,601.0h0M154.3,599.0h0M154.5,599.2h0M154.6,600.6h0M154.7,598.4h0M154.8,597.7h0M155.0,597.9h0M155.1,598.2h0M155.2,598.5h0M155.3,601.7h0M155.5,597.7h0M155.6,600.3h0M155.7,599.0h0M155.8,600.4h0M156.0,599.8h0M156.1,598.9h0M156.2,597.4h0M156.3,596.8h0M156.5,600.4h0M156.6,597.8h0M156.7,597.7h0M156.8,598.9h0M156.9,600.0h0M157.1,601.0h0M157.2,598.7h0M157.3,598.4h0M157.4,600.0h0M157.6,597.2h0M157.7,600.6h0M157.8,598.4h0M157.9,598.2h0M158.1,598.4h0M158.2,598.6h0M158.3,598.4h0M158.4,599.0h0M158.6,597.4h0M158.7,598.6h0M158.8,601.0h0M158.9,599.1h0M159.1,596.3h0M159.2,595.8h0M159.3,598.8h0M159.4,596.5h0M159.6,597.2h0M159.7,597.5h0M159.8,597.1h0M159.9,599.6h0M160.1,598.9h0M160.2,599.8h0M160.3,599.3h0M160.4,600.6h0M160.6,598.2h0M160.7,600.0h0M160.8,597.2h0M160.9,599.9h0M161.0,597.9h0M161.2,598.5h0M161.3,600.8h0M161.4,599.2h0M161.5,597.6h0M161.7,600.2h0M161.8,597.6h0M161.9,601.2h0M162.0,596.4h0M162.2,598.1h0M162.3,596.5h0M162.4,599.2h0M162.5,597.9h0M162.7,599.7h0M162.8,598.4h0M162.9,597.9h0M163.0,600.0h0M163.2,598.7h0M163.3,598.1h0M163.4,596.5h0M163.5,597.0h0M163.7,600.2h0M163.8,597.3h0M163.9,600.0h0M164.0,597.0h0M164.2,600.4h0M164.3,599.2h0M164.4,600.3h0M164.5,594.7h0M164.6,600.4h0M164.8,597.6h0M164.9,599.2h0M165.0,596.6h0M165.1,598.5h0M165.3,597.5h0M165.4,597.5h0M165.5,598.7h0M165.6,596.6h0M165.8,597.9h0M165.9,597.1h0M166.0,599.7h0M166.1,597.4h0M166.3,597.5h0M166.4,599.4h0M166.5,598.4h0M166.6,596.6h0M166.8,597.7h0M166.9,600.4h0M167.0,596.1h0M167.1,599.9h0M167.3,597.8h0M167.4,598.1h0M167.5,597.0h0M167.6,599.5h0M167.8,597.6h0M167.9,597.2h0M168.0,598.7h0M168.1,598.4h0M168.2,598.4h0M168.4,598.5h0M168.5,600.6h0M168.6,597.6h0M168.7,598.0h0M168.9,599.3h0M169.0,598.5h0M169.1,598.3h0M169.2,599.4h0M169.4,597.1h0M169.5,597.4h0M169.6,600.4h0M169.7,598.4h0M169.9,601.3h0M170.0,598.6h0M170.1,597.5h0M170.2,601.2h0M170.4,598.4h0M170.5,599.5h0M170.6,600.1h0M170.7,598.1h0M170.9,601.5h0M171.0,597.9h0M171.1,601.3h0M171.2,599.9h0M171.4,601.9h0M171.5,597.6h0M171.6,600.0h0M171.7,597.7h0M171.9,599.4h0M172.0,600.7h0M172.1,598.1h0M172.2,599.8h0M172.3,601.1h0M172.5,600.3h0M172.6,602.3h0M172.7,602.2h0M172.8,601.4h0M173.0,600.4h0M173.1,599.7h0M173.2,599.2h0M173.3,600.0h0M173.5,599.9h0M173.6,598.5h0M173.7,602.0h0M173.8,598.7h0M174.0,601.0h0M174.1,598.8h0M174.2,598.5h0M174.3,599.8h0M174.5,601.5h0M174.6,598.3h0M174.7,598.6h0M174.8,598.5h0M175.0,601.9h0M175.1,601.8h0M175.2,597.9h0M175.3,600.7h0M175.5,598.2h0M175.6,600.2h0M175.7,602.7h0M175.8,602.2h0M175.9,601.2h0M176.1,600.8h0M176.2,599.7h0M176.3,600.8h0M176.4,601.1h0M176.6,600.6h0M176.7,600.7h0M176.8,599.3h0M176.9,599.1h0M177.1,599.7h0M177.2,598.9h0M177.3,600.2h0M177.4,601.6h0M177.6,598.1h0M177.7,598.7h0M177.8,599.4h0M177.9,601.3h0M178.1,601.3h0M178.2,601.5h0M178.3,600.0h0M178.4,600.9h0M178.6,601.3h0M178.7,600.0h0M178.8,600.5h0M178.9,598.6h0M179.1,600.4h0M179.2,599.8h0M179.3,599.1h0M179.4,599.6h0M179.5,599.0h0M179.7,601.1h0M179.8,601.0h0M179.9,598.4h0M180.0,599.2h0M180.2,601.6h0M180.3,598.9h0M180.4,601.1h0M180.5,600.6h0M180.7,599.5h0M180.8,599.7h0M180.9,599.2h0M181.0,599.5h0M181.2,599.6h0M181.3,602.6h0M181.4,601.3h0M181.5,601.2h0M181.7,599.8h0M181.8,598.3h0M181.9,601.7h0M182.0,599.0h0M182.2,602.2h0M182.3,601.3h0M182.4,599.5h0M182.5,599.9h0M182.7,601.2h0M182.8,602.3h0M182.9,600.1h0M183.0,598.3h0M183.2,601.1h0M183.3,598.9h0M183.4,600.1h0M183.5,598.4h0M183.6,599.4h0M183.8,601.0h0M183.9,599.1h0M184.0,599.7h0M184.1,599.4h0M184.3,601.5h0M184.4,599.6h0M184.5,599.0h0M184.6,602.2h0M184.8,602.8h0M184.9,600.6h0M185.0,602.7h0M185.1,600.0h0M185.3,600.1h0M185.4,600.1h0M185.5,600.8h0M185.6,601.4h0M185.8,601.5h0M185.9,599.4h0M186.0,599.4h0M186.1,601.7h0M186.3,601.6h0M186.4,600.6h0M186.5,600.1h0M186.6,602.5h0M186.8,601.0h0M186.9,601.3h0M187.0,601.3h0M187.1,602.3h0M187.2,601.0h0M187.4,602.4h0M187.5,599.8h0M187.6,599.0h0M187.7,600.7h0M187.9,601.1h0M188.0,602.2h0M188.1,602.4h0M188.2,599.7h0M188.4,599.8h0M188.5,599.7h0M188.6,602.0h0M188.7,601.6h0M188.9,599.6h0M189.0,603.4h0M189.1,600.8h0M189.2,602.7h0M189.4,600.9h0M189.5,602.0h0M189.6,600.9h0M189.7,601.8h0M189.9,601.2h0M190.0,598.7h0M190.1,599.3h0M190.2,600.2h0M190.4,601.8h0M190.5,600.5h0M190.6,600.7h0M190.7,602.6h0M190.8,602.5h0M191.0,600.7h0M191.1,601.3h0M191.2,601.3h0M191.3,600.3h0M191.5,601.6h0M191.6,601.8h0M191.7,601.0h0M191.8,601.6h0M192.0,602.2h0M192.1,602.8h0M192.2,600.4h0M192.3,601.7h0M192.5,601.4h0M192.6,601.2h0M192.7,599.6h0M192.8,600.6h0M193.0,600.6h0M193.1,600.5h0M193.2,599.1h0M193.3,602.5h0M193.5,603.7h0M193.6,599.5h0M193.7,599.5h0M193.8,600.8h0M194.0,601.9h0M194.1,601.3h0M194.2,598.8h0M194.3,599.7h0M194.5,603.6h0M194.6,604.1h0M194.7,600.1h0M194.8,600.3h0M194.9,602.3h0M195.1,602.5h0M195.2,603.1h0M195.3,602.6h0M195.4,600.3h0M195.6,600.0h0M195.7,600.3h0M195.8,602.4h0M195.9,602.3h0M196.1,601.4h0M196.2,602.4h0M196.3,599.2h0M196.4,599.0h0M196.6,600.9h0M196.7,600.9h0M196.8,600.4h0M196.9,600.2h0M197.1,600.6h0M197.2,601.8h0M197.3,601.9h0M197.4,600.6h0M197.6,600.3h0M197.7,602.3h0M197.8,599.1h0M197.9,599.8h0M198.1,600.4h0M198.2,601.3h0M198.3,602.4h0M198.4,600.9h0M198.5,599.4h0M198.7,602.4h0M198.8,602.4h0M198.9,600.5h0M199.0,602.0h0M199.2,602.7h0M199.3,599.1h0M199.4,600.0h0M199.5,601.8h0M199.7,599.7h0M199.8,602.8h0M199.9,599.5h0M200.0,599.4h0M200.2,598.9h0M200.3,599.8h0M200.4,603.0h0M200.5,601.3h0M200.7,601.8h0M200.8,602.0h0M200.9,600.0h0M201.0,602.5h0M201.2,601.2h0M201.3,602.0h0M201.4,599.9h0M201.5,602.7h0M201.7,601.3h0M201.8,600.6h0M201.9,601.9h0M202.0,599.8h0M202.1,600.8h0M202.3,603.2h0M202.4,601.9h0M202.5,599.7h0M202.6,602.2h0M202.8,602.3h0M202.9,599.7h0M203.0,600.3h0M203.1,601.9h0M203.3,599.3h0M203.4,602.0h0M203.5,600.8h0M203.6,599.2h0M203.8,600.0h0M203.9,601.8h0M204.0,601.6h0M204.1,601.6h0M204.3,600.2h0M204.4,604.2h0M204.5,601.5h0M204.6,600.4h0M204.8,602.9h0M204.9,602.0h0M205.0,599.5h0M205.1,603.5h0M205.3,600.6h0M205.4,603.3h0M205.5,599.9h0M205.6,601.3h0M205.8,601.3h0M205.9,602.2h0M206.0,601.7h0M206.1,601.4h0M206.2,601.5h0M206.4,600.1h0M206.5,601.9h0M206.6,602.4h0M206.7,601.1h0M206.9,601.1h0M207.0,601.7h0M207.1,601.4h0M207.2,603.6h0M207.4,601.5h0M207.5,601.9h0M207.6,602.5h0M207.7,601.3h0M207.9,600.4h0M208.0,599.3h0M208.1,603.0h0M208.2,602.8h0M208.4,600.2h0M208.5,604.0h0M208.6,602.2h0M208.7,602.9h0M208.9,600.4h0M209.0,598.7h0M209.1,603.9h0M209.2,602.9h0M209.4,603.3h0M209.5,601.1h0M209.6,600.9h0M209.7,600.6h0M209.8,601.1h0M210.0,603.3h0M210.1,601.1h0M210.2,603.0h0M210.3,602.1h0M210.5,601.5h0M210.6,601.1h0M210.7,601.3h0M210.8,600.4h0M211.0,603.5h0M211.1,601.7h0M211.2,599.2h0M211.3,600.8h0M211.5,598.6h0M211.6,601.8h0M211.7,600.0h0M211.8,600.4h0M212.0,602.6h0M212.1,603.5h0M212.2,600.1h0M212.3,601.2h0M212.5,601.3h0M212.6,601.2h0M212.7,601.5h0M212.8,602.5h0M213.0,603.5h0M213.1,603.5h0M213.2,602.2h0M213.3,601.3h0M213.4,600.3h0M213.6,604.2h0M213.7,603.5h0M213.8,603.2h0M213.9,603.3h0M214.1,602.9h0M214.2,602.3h0M214.3,600.5h0M214.4,601.8h0M214.6,601.6h0M214.7,601.1h0M214.8,599.6h0M214.9,599.9h0M215.1,600.8h0M215.2,601.6h0M215.3,601.4h0M215.4,600.2h0M215.6,601.5h0M215.7,604.1h0M215.8,604.0h0M215.9,600.8h0M216.1,603.5h0M216.2,602.4h0M216.3,603.5h0M216.4,600.7h0M216.6,602.2h0M216.7,603.2h0M216.8,601.0h0M216.9,602.4h0M217.1,601.1h0M217.2,599.8h0M217.3,603.4h0M217.4,601.1h0M217.5,602.9h0M217.7,603.8h0M217.8,603.2h0M217.9,601.9h0M218.0,602.2h0M218.2,602.4h0M218.3,602.4h0M218.4,600.6h0M218.5,599.5h0M218.7,602.4h0M218.8,602.5h0M218.9,600.2h0M219.0,603.5h0M219.2,603.3h0M219.3,604.1h0M219.4,601.9h0M219.5,601.7h0M219.7,600.0h0M219.8,601.1h0M219.9,603.1h0M220.0,603.6h0M220.2,603.1h0M220.3,602.7h0M220.4,601.4h0M220.5,602.2h0M220.7,600.5h0M220.8,602.8h0M220.9,603.2h0M221.0,602.5h0M221.1,601.4h0M221.3,603.3h0M221.4,601.6h0M221.5,604.2h0M221.6,602.4h0M221.8,601.1h0M221.9,604.4h0M222.0,604.2h0M222.1,604.6h0M222.3,603.2h0M222.4,600.7h0M222.5,600.0h0M222.6,601.5h0M222.8,601.3h0M222.9,601.9h0M223.0,602.3h0M223.1,603.0h0M223.3,603.3h0M223.4,601.6h0M223.5,601.3h0M223.6,602.6h0M223.8,604.2h0M223.9,604.0h0M224.0,603.8h0M224.1,602.1h0M224.3,603.0h0M224.4,604.3h0M224.5,602.7h0M224.6,602.3h0M224.7,601.2h0M224.9,603.5h0M225.0,601.8h0M225.1,600.9h0M225.2,601.4h0M225.4,604.1h0M225.5,601.0h0M225.6,603.1h0M225.7,602.6h0M225.9,601.6h0M226.0,603.9h0M226.1,601.2h0M226.2,601.8h0M226.4,601.2h0M226.5,600.5h0M226.6,600.8h0M226.7,603.2h0M226.9,600.3h0M227.0,601.0h0M227.1,600.1h0M227.2,601.6h0M227.4,602.1h0M227.5,604.0h0M227.6,602.3h0M227.7,600.6h0M227.9,601.3h0M228.0,603.9h0M228.1,602.1h0M228.2,602.3h0M228.4,601.8h0M228.5,600.6h0M228.6,601.6h0M228.7,601.2h0M228.8,601.8h0M229.0,602.2h0M229.1,600.6h0M229.2,603.3h0M229.3,601.5h0M229.5,602.7h0M229.6,600.6h0M229.7,600.9h0M229.8,603.2h0M230.0,603.3h0M230.1,604.0h0M230.2,604.3h0M230.3,603.6h0M230.5,603.9h0M230.6,602.5h0M230.7,603.3h0M230.8,601.7h0M231.0,601.2h0M231.1,602.0h0M231.2,604.0h0M231.3,602.1h0M231.5,605.0h0M231.6,603.6h0M231.7,603.9h0M231.8,601.3h0M232.0,601.1h0M232.1,603.3h0M232.2,602.1h0M232.3,601.2h0M232.4,605.4h0M232.6,601.3h0M232.7,602.9h0M232.8,604.6h0M232.9,602.9h0M233.1,602.8h0M233.2,602.4h0M233.3,600.5h0M233.4,603.2h0M233.6,602.8h0M233.7,602.3h0M233.8,604.2h0M233.9,603.4h0M234.1,603.7h0M234.2,600.6h0M234.3,600.6h0M234.4,603.5h0M234.6,601.9h0M234.7,602.2h0M234.8,602.4h0M234.9,600.6h0M235.1,602.6h0M235.2,602.4h0M235.3,603.2h0M235.4,604.5h0M235.6,603.1h0M235.7,603.7h0M235.8,601.9h0M235.9,601.6h0M236.0,601.8h0M236.2,605.1h0" stroke="#000" stroke-width="2.2" stroke-linecap="square" fill="none"/>
<path d="M56.1,560.3h0M56.2,563.7h0M56.3,567.2h0M56.4,569.3h0M56.5,571.2h0M56.6,572.9h0M56.7,573.8h0M56.8,574.5h0M56.9,575.4h0M57.0,576.3h0M57.1,578.1h0M57.2,579.7h0M57.4,579.7h0M57.5,579.6h0M57.6,581.5h0M57.7,581.1h0M57.9,583.2h0M58.0,582.5h0M58.1,584.2h0M58.2,584.4h0M58.4,587.7h0M58.5,589.7h0M58.6,588.6h0M58.7,589.2h0M58.8,592.1h0M59.0,593.2h0M59.1,591.1h0M59.2,595.9h0M59.3,595.5h0M59.5,598.2h0M59.6,594.3h0M59.7,593.5h0M59.8,593.5h0M60.0,595.9h0M60.1,594.2h0M60.2,599.7h0M60.3,596.3h0M60.5,601.8h0M60.6,601.7h0M60.7,600.1h0M60.8,598.2h0M61.0,597.4h0M61.1,598.0h0M61.2,600.7h0M61.3,602.3h0M61.5,597.5h0M61.6,602.6h0M61.7,598.2h0M61.8,596.7h0M62.0,600.9h0M62.1,605.0h0M62.2,603.2h0M62.3,597.7h0M62.5,601.1h0M62.6,602.0h0M62.7,601.2h0M62.8,598.9h0M62.9,604.2h0M63.1,600.3h0M63.2,604.2h0M63.3,602.7h0M63.4,601.0h0M63.6,600.6h0M63.7,604.3h0M63.8,602.0h0M63.9,603.4h0M64.1,604.8h0M64.2,601.1h0M64.3,601.0h0M64.4,601.0h0M64.6,606.1h0M64.7,601.6h0M64.8,602.1h0M64.9,602.7h0M65.1,602.4h0M65.2,604.2h0M65.3,603.4h0M65.4,606.2h0M65.6,603.6h0M65.7,605.4h0M65.8,605.6h0M65.9,607.5h0M66.1,606.4h0M66.2,607.4h0M66.3,603.3h0M66.4,604.0h0M66.5,603.6h0M66.7,607.6h0M66.8,605.4h0M66.9,605.4h0M67.0,604.1h0M67.2,607.7h0M67.3,607.0h0M67.4,608.4h0M67.5,604.1h0M67.7,609.8h0M67.8,608.2h0M67.9,605.4h0M68.0,607.1h0M68.2,605.8h0M68.3,609.5h0M68.4,605.1h0M68.5,607.5h0M68.7,604.7h0M68.8,607.1h0M68.9,612.3h0M69.0,607.1h0M69.2,606.5h0M69.3,606.4h0M69.4,608.8h0M69.5,609.6h0M69.7,606.5h0M69.8,606.1h0M69.9,610.6h0M70.0,608.3h0M70.1,609.6h0M70.3,609.3h0M70.4,608.0h0M70.5,606.5h0M70.6,611.0h0M70.8,611.6h0M70.9,609.1h0M71.0,608.7h0M71.1,611.5h0M71.3,610.2h0M71.4,607.1h0M71.5,608.3h0M71.6,606.9h0M71.8,608.1h0M71.9,609.6h0M72.0,611.8h0M72.1,610.0h0M72.3,612.7h0M72.4,610.7h0M72.5,609.6h0M72.6,611.7h0M72.8,611.8h0M72.9,607.9h0M73.0,608.3h0M73.1,609.9h0M73.3,612.9h0M73.4,610.7h0M73.5,611.5h0M73.6,611.8h0M73.8,611.9h0M73.9,609.5h0M74.0,613.1h0M74.1,613.3h0M74.2,612.9h0M74.4,614.7h0M74.5,611.5h0M74.6,610.9h0M74.7,613.4h0M74.9,609.0h0M75.0,611.6h0M75.1,612.7h0M75.2,614.2h0M75.4,612.2h0M75.5,614.4h0M75.6,614.9h0M75.7,610.1h0M75.9,610.2h0M76.0,610.6h0M76.1,611.7h0M76.2,613.1h0M76.4,611.4h0M76.5,613.9h0M76.6,614.6h0M76.7,611.5h0M76.9,611.6h0M77.0,611.5h0M77.1,614.0h0M77.2,614.9h0M77.4,614.0h0M77.5,616.2h0M77.6,615.7h0M77.7,611.8h0M77.8,613.0h0M78.0,612.1h0M78.1,613.4h0M78.2,616.4h0M78.3,613.2h0M78.5,616.9h0M78.6,614.7h0M78.7,612.3h0M78.8,616.1h0M79.0,614.7h0M79.1,613.7h0M79.2,615.5h0M79.3,615.6h0M79.5,613.3h0M79.6,616.0h0M79.7,613.1h0M79.8,614.3h0M80.0,612.6h0M80.1,616.3h0M80.2,615.8h0M80.3,611.2h0M80.5,614.4h0M80.6,613.2h0M80.7,614.8h0M80.8,614.3h0M81.0,616.7h0M81.1,612.9h0M81.2,612.7h0M81.3,614.5h0M81.4,614.6h0M81.6,615.4h0M81.7,614.7h0M81.8,617.4h0M81.9,617.1h0M82.1,617.7h0M82.2,615.7h0M82.3,616.2h0M82.4,615.1h0M82.6,616.8h0M82.7,614.9h0M82.8,617.6h0M82.9,615.4h0M83.1,618.0h0M83.2,617.4h0M83.3,615.6h0M83.4,614.6h0M83.6,613.0h0M83.7,616.3h0M83.8,614.6h0M83.9,615.0h0M84.1,617.3h0M84.2,615.3h0M84.3,613.8h0M84.4,614.2h0M84.6,615.1h0M84.7,615.7h0M84.8,614.4h0M84.9,614.3h0M85.1,617.4h0M85.2,617.6h0M85.3,617.1h0M85.4,614.8h0M85.5,616.6h0M85.7,616.2h0M85.8,617.2h0M85.9,615.0h0M86.0,614.4h0M86.2,617.4h0M86.3,616.8h0M86.4,616.4h0M86.5,616.6h0M86.7,615.0h0M86.8,614.4h0M86.9,615.2h0M87.0,617.6h0M87.2,614.9h0M87.3,616.6h0M87.4,615.6h0M87.5,614.9h0M87.7,617.0h0M87.8,614.9h0M87.9,615.5h0M88.0,617.7h0M88.2,616.9h0M88.3,615.7h0M88.4,617.2h0M88.5,618.3h0M88.7,616.8h0M88.8,615.9h0M88.9,616.9h0M89.0,617.8h0M89.1,617.7h0M89.3,619.1h0M89.4,615.2h0M89.5,616.6h0M89.6,614.8h0M89.8,616.3h0M89.9,615.3h0M90.0,618.8h0M90.1,617.1h0M90.3,617.9h0M90.4,616.6h0M90.5,616.9h0M90.6,617.0h0M90.8,618.6h0M90.9,617.7h0M91.0,615.3h0M91.1,617.1h0M91.3,615.3h0M91.4,615.4h0M91.5,616.2h0M91.6,615.2h0M91.8,617.5h0M91.9,615.7h0M92.0,615.9h0M92.1,615.5h0M92.3,614.9h0M92.4,617.2h0M92.5,618.0h0M92.6,619.3h0M92.7,616.9h0M92.9,615.0h0M93.0,617.5h0M93.1,616.1h0M93.2,617.6h0M93.4,617.9h0M93.5,617.3h0M93.6,616.2h0M93.7,617.4h0M93.9,618.9h0M94.0,618.6h0M94.1,617.5h0M94.2,618.9h0M94.4,619.0h0M94.5,617.0h0M94.6,616.1h0M94.7,616.5h0M94.9,617.4h0M95.0,617.7h0M95.1,618.4h0M95.2,615.4h0M95.4,618.8h0M95.5,619.2h0M95.6,617.7h0M95.7,616.5h0M95.9,619.3h0M96.0,618.4h0M96.1,616.6h0M96.2,616.7h0M96.4,618.4h0M96.5,618.5h0M96.6,618.7h0M96.7,616.7h0M96.8,615.4h0M97.0,617.2h0M97.1,618.8h0M97.2,616.1h0M97.3,619.2h0M97.5,618.8h0M97.6,618.2h0M97.7,616.4h0M97.8,616.0h0M98.0,617.1h0M98.1,616.4h0M98.2,618.2h0M98.3,618.3h0M98.5,616.8h0M98.6,618.4h0M98.7,618.3h0M98.8,619.2h0M99.0,616.4h0M99.1,618.2h0M99.2,615.7h0M99.3,619.7h0M99.5,619.2h0M99.6,619.3h0M99.7,618.9h0M99.8,618.0h0M100.0,618.2h0M100.1,616.8h0M100.2,618.4h0M100.3,618.6h0M100.4,618.6h0M100.6,619.2h0M100.7,619.7h0M100.8,619.0h0M100.9,617.9h0M101.1,617.2h0M101.2,616.9h0M101.3,618.4h0M101.4,619.0h0M101.6,617.6h0M101.7,619.1h0M101.8,617.1h0M101.9,618.5h0M102.1,618.4h0M102.2,618.6h0M102.3,618.7h0M102.4,620.1h0M102.6,620.4h0M102.7,617.4h0M102.8,620.6h0M102.9,619.9h0M103.1,619.9h0M103.2,617.0h0M103.3,616.9h0M103.4,616.8h0M103.6,615.9h0M103.7,617.8h0M103.8,618.3h0M103.9,617.1h0M104.0,620.0h0M104.2,617.8h0M104.3,617.7h0M104.4,618.9h0M104.5,618.1h0M104.7,619.9h0M104.8,620.2h0M104.9,617.4h0M105.0,617.7h0M105.2,620.3h0M105.3,618.5h0M105.4,619.5h0M105.5,620.2h0M105.7,618.8h0M105.8,617.3h0M105.9,619.4h0M106.0,620.2h0M106.2,619.7h0M106.3,620.4h0M106.4,617.4h0M106.5,617.3h0M106.7,619.9h0M106.8,618.3h0M106.9,617.3h0M107.0,619.4h0M107.2,619.9h0M107.3,618.0h0M107.4,620.3h0M107.5,620.1h0M107.7,616.9h0M107.8,618.6h0M107.9,616.9h0M108.0,618.1h0M108.1,618.2h0M108.3,619.7h0M108.4,619.7h0M108.5,618.2h0M108.6,619.6h0M108.8,619.9h0M108.9,618.2h0M109.0,617.7h0M109.1,620.2h0M109.3,618.5h0M109.4,617.7h0M109.5,616.4h0M109.6,619.2h0M109.8,620.6h0M109.9,621.7h0M110.0,619.9h0M110.1,619.6h0M110.3,620.7h0M110.4,620.3h0M110.5,619.1h0M110.6,617.2h0M110.8,619.2h0M110.9,619.7h0M111.0,619.0h0M111.1,618.1h0M111.3,620.3h0M111.4,618.8h0M111.5,619.4h0M111.6,620.3h0M111.7,621.0h0M111.9,621.2h0M112.0,621.4h0M112.1,620.6h0M112.2,620.6h0M112.4,621.4h0M112.5,619.6h0M112.6,620.1h0M112.7,618.9h0M112.9,619.0h0M113.0,618.5h0M113.1,619.1h0M113.2,619.8h0M113.4,620.4h0M113.5,620.0h0M113.6,620.6h0M113.7,618.6h0M113.9,622.0h0M114.0,619.0h0M114.1,621.1h0M114.2,622.0h0M114.4,619.3h0M114.5,619.2h0M114.6,619.9h0M114.7,621.7h0M114.9,618.5h0M115.0,623.3h0M115.1,619.2h0M115.2,622.2h0M115.3,620.1h0M115.5,622.9h0M115.6,619.2h0M115.7,618.7h0M115.8,621.3h0M116.0,621.6h0M116.1,619.0h0M116.2,621.9h0M116.3,621.4h0M116.5,620.0h0M116.6,620.6h0M116.7,619.9h0M116.8,619.4h0M117.0,620.1h0M117.1,621.5h0M117.2,622.0h0M117.3,619.9h0M117.5,620.9h0M117.6,620.1h0M117.7,622.9h0M117.8,622.9h0M118.0,620.1h0M118.1,622.4h0M118.2,620.8h0M118.3,620.1h0M118.5,622.6h0M118.6,622.4h0M118.7,622.9h0M118.8,620.2h0M119.0,620.1h0M119.1,620.6h0M119.2,622.1h0M119.3,619.6h0M119.4,619.9h0M119.6,623.1h0M119.7,620.2h0M119.8,620.6h0M119.9,622.5h0M120.1,619.5h0M120.2,620.2h0M120.3,620.4h0M120.4,621.9h0M120.6,620.8h0M120.7,620.1h0M120.8,621.9h0M120.9,620.8h0M121.1,621.5h0M121.2,623.0h0M121.3,622.2h0M121.4,620.9h0M121.6,620.9h0M121.7,621.0h0M121.8,620.6h0M121.9,620.5h0M122.1,620.4h0M122.2,619.8h0M122.3,623.1h0M122.4,619.2h0M122.6,623.3h0M122.7,620.7h0M122.8,621.9h0M122.9,620.7h0M123.0,623.6h0M123.2,620.1h0M123.3,621.7h0M123.4,621.3h0M123.5,621.1h0M123.7,622.4h0M123.8,619.6h0M123.9,620.8h0M124.0,620.5h0M124.2,623.3h0M124.3,620.6h0M124.4,621.9h0M124.5,622.8h0M124.7,622.0h0M124.8,621.5h0M124.9,620.2h0M125.0,621.9h0M125.2,621.7h0M125.3,620.4h0M125.4,621.3h0M125.5,622.0h0M125.7,621.6h0M125.8,619.2h0M125.9,622.6h0M126.0,621.5h0M126.2,622.2h0M126.3,621.6h0M126.4,621.6h0M126.5,621.7h0M126.6,623.4h0M126.8,620.2h0M126.9,621.7h0M127.0,622.7h0M127.1,622.8h0M127.3,624.7h0M127.4,623.6h0M127.5,622.2h0M127.6,620.8h0M127.8,622.8h0M127.9,621.1h0M128.0,622.9h0M128.1,619.8h0M128.3,621.7h0M128.4,620.5h0M128.5,619.9h0M128.6,622.1h0M128.8,623.2h0M128.9,621.3h0M129.0,620.4h0M129.1,619.9h0M129.3,622.9h0M129.4,622.5h0M129.5,621.0h0M129.6,622.0h0M129.8,622.4h0M129.9,620.7h0M130.0,619.6h0M130.1,619.6h0M130.3,619.6h0M130.4,621.5h0M130.5,619.2h0M130.6,620.7h0M130.7,619.6h0M130.9,620.4h0M131.0,619.1h0M131.1,620.8h0M131.2,619.0h0M131.4,623.1h0M131.5,620.2h0M131.6,622.9h0M131.7,622.4h0M131.9,619.6h0M132.0,620.3h0M132.1,621.3h0M132.2,622.1h0M132.4,620.4h0M132.5,621.3h0M132.6,621.4h0M132.7,623.3h0M132.9,620.6h0M133.0,620.3h0M133.1,621.5h0M133.2,621.4h0M133.4,620.6h0M133.5,622.5h0M133.6,623.4h0M133.7,622.6h0M133.9,620.9h0M134.0,622.5h0M134.1,621.1h0M134.2,623.1h0M134.3,621.7h0M134.5,623.8h0M134.6,622.3h0M134.7,622.2h0M134.8,620.6h0M135.0,623.0h0M135.1,621.3h0M135.2,621.8h0M135.3,623.4h0M135.5,620.1h0M135.6,621.2h0M135.7,622.2h0M135.8,622.8h0M136.0,619.0h0M136.1,619.6h0M136.2,619.6h0M136.3,621.5h0M136.5,621.1h0M136.6,619.6h0M136.7,620.3h0M136.8,622.1h0M137.0,622.2h0M137.1,620.8h0M137.2,620.7h0M137.3,621.3h0M137.5,621.5h0M137.6,619.5h0M137.7,623.2h0M137.8,622.5h0M137.9,622.2h0M138.1,620.1h0M138.2,620.3h0M138.3,623.1h0M138.4,621.7h0M138.6,622.8h0M138.7,621.3h0M138.8,623.9h0M138.9,623.8h0M139.1,620.2h0M139.2,622.4h0M139.3,625.2h0M139.4,623.6h0M139.6,622.5h0M139.7,620.6h0M139.8,621.5h0M139.9,623.9h0M140.1,623.1h0M140.2,623.9h0M140.3,621.2h0M140.4,621.6h0M140.6,624.3h0M140.7,620.8h0M140.8,624.2h0M140.9,620.3h0M141.1,622.3h0M141.2,621.9h0M141.3,622.1h0M141.4,623.5h0M141.6,622.8h0M141.7,621.3h0M141.8,623.3h0M141.9,620.8h0M142.0,622.1h0M142.2,620.9h0M142.3,622.1h0M142.4,621.3h0M142.5,621.9h0M142.7,623.2h0M142.8,621.6h0M142.9,620.7h0M143.0,623.0h0M143.2,623.1h0M143.3,623.8h0M143.4,621.9h0M143.5,624.4h0M143.7,623.6h0M143.8,623.6h0M143.9,623.3h0M144.0,623.2h0M144.2,622.2h0M144.3,622.4h0M144.4,623.1h0M144.5,622.6h0M144.7,623.6h0M144.8,623.7h0M144.9,623.4h0M145.0,622.5h0M145.2,623.6h0M145.3,623.0h0M145.4,621.6h0M145.5,620.4h0M145.6,621.1h0M145.8,621.1h0M145.9,622.9h0M146.0,620.4h0M146.1,624.1h0M146.3,620.7h0M146.4,625.0h0M146.5,621.2h0M146.6,623.5h0M146.8,623.0h0M146.9,621.4h0M147.0,621.6h0M147.1,623.5h0M147.3,621.6h0M147.4,624.8h0M147.5,622.0h0M147.6,623.6h0M147.8,621.9h0M147.9,620.4h0M148.0,623.9h0M148.1,623.1h0M148.3,624.0h0M148.4,624.1h0M148.5,622.2h0M148.6,624.2h0M148.8,622.6h0M148.9,625.6h0M149.0,621.8h0M149.1,623.1h0M149.2,622.6h0M149.4,622.0h0M149.5,624.1h0M149.6,621.8h0M149.7,623.0h0M149.9,622.0h0M150.0,620.2h0M150.1,622.4h0M150.2,622.6h0M150.4,620.1h0M150.5,619.7h0M150.6,623.9h0M150.7,621.2h0M150.9,621.2h0M151.0,622.4h0M151.1,621.8h0M151.2,621.3h0M151.4,622.9h0M151.5,623.9h0M151.6,622.7h0M151.7,621.8h0M151.9,620.9h0M152.0,621.9h0M152.1,621.1h0M152.2,623.7h0M152.4,620.3h0M152.5,622.4h0M152.6,622.0h0M152.7,621.0h0M152.9,622.5h0M153.0,623.5h0M153.1,620.4h0M153.2,621.7h0M153.3,620.0h0M153.5,623.5h0M153.6,622.9h0M153.7,621.6h0M153.8,622.3h0M154.0,620.4h0M154.1,621.2h0M154.2,619.5h0M154.3,620.0h0M154.5,620.3h0M154.6,621.5h0M154.7,623.6h0M154.8,621.3h0M155.0,620.3h0M155.1,624.1h0M155.2,621.0h0M155.3,622.1h0M155.5,624.4h0M155.6,620.2h0M155.7,623.1h0M155.8,623.2h0M156.0,622.5h0M156.1,621.2h0M156.2,623.3h0M156.3,623.2h0M156.5,623.4h0M156.6,624.0h0M156.7,620.5h0M156.8,622.1h0M156.9,623.2h0M157.1,624.4h0M157.2,625.0h0M157.3,621.6h0M157.4,624.3h0M157.6,621.6h0M157.7,624.9h0M157.8,623.1h0M157.9,623.0h0M158.1,621.5h0M158.2,621.9h0M158.3,624.3h0M158.4,624.2h0M158.6,623.6h0M158.7,623.0h0M158.8,621.6h0M158.9,621.8h0M159.1,623.2h0M159.2,623.9h0M159.3,622.5h0M159.4,624.5h0M159.6,621.9h0M159.7,622.6h0M159.8,623.5h0M159.9,624.0h0M160.1,621.4h0M160.2,622.3h0M160.3,623.4h0M160.4,622.7h0M160.6,624.3h0M160.7,621.0h0M160.8,623.4h0M160.9,620.0h0M161.0,621.2h0M161.2,620.9h0M161.3,621.1h0M161.4,623.5h0M161.5,621.0h0M161.7,622.7h0M161.8,623.6h0M161.9,620.9h0M162.0,624.0h0M162.2,624.2h0M162.3,623.7h0M162.4,622.3h0M162.5,624.5h0M162.7,623.9h0M162.8,623.5h0M162.9,621.7h0M163.0,621.0h0M163.2,622.3h0M163.3,622.5h0M163.4,622.4h0M163.5,621.3h0M163.7,619.3h0M163.8,621.7h0M163.9,623.5h0M164.0,620.3h0M164.2,622.9h0M164.3,622.4h0M164.4,620.6h0M164.5,621.6h0M164.6,623.0h0M164.8,621.8h0M164.9,622.7h0M165.0,624.1h0M165.1,624.6h0M165.3,621.7h0M165.4,621.8h0M165.5,623.9h0M165.6,624.9h0M165.8,621.1h0M165.9,625.0h0M166.0,623.1h0M166.1,622.1h0M166.3,623.7h0M166.4,624.9h0M166.5,623.8h0M166.6,623.8h0M166.8,623.2h0M166.9,621.6h0M167.0,620.1h0M167.1,624.3h0M167.3,624.1h0M167.4,625.0h0M167.5,622.7h0M167.6,622.9h0M167.8,622.6h0M167.9,622.2h0M168.0,624.8h0M168.1,622.7h0M168.2,621.9h0M168.4,621.6h0M168.5,623.3h0M168.6,624.7h0M168.7,623.7h0M168.9,624.2h0M169.0,623.3h0M169.1,624.6h0M169.2,624.1h0M169.4,622.6h0M169.5,623.6h0M169.6,622.3h0M169.7,622.5h0M169.9,625.7h0M170.0,623.8h0M170.1,622.2h0M170.2,621.1h0M170.4,624.5h0M170.5,624.2h0M170.6,620.9h0M170.7,623.4h0M170.9,623.0h0M171.0,624.5h0M171.1,624.4h0M171.2,624.5h0M171.4,623.7h0M171.5,621.6h0M171.6,624.3h0M171.7,622.1h0M171.9,622.3h0M172.0,624.9h0M172.1,622.3h0M172.2,622.7h0M172.3,623.0h0M172.5,624.0h0M172.6,622.0h0M172.7,622.8h0M172.8,624.5h0M173.0,624.8h0M173.1,624.0h0M173.2,622.2h0M173.3,623.2h0M173.5,621.6h0M173.6,622.0h0M173.7,623.7h0M173.8,623.2h0M174.0,625.3h0M174.1,623.5h0M174.2,624.1h0M174.3,624.3h0M174.5,622.6h0M174.6,623.4h0M174.7,623.6h0M174.8,625.7h0M175.0,622.1h0M175.1,622.6h0M175.2,625.6h0M175.3,624.4h0M175.5,623.2h0M175.6,625.5h0M175.7,623.6h0M175.8,622.7h0M175.9,625.3h0M176.1,623.7h0M176.2,623.6h0M176.3,621.9h0M176.4,623.6h0M176.6,625.0h0M176.7,623.0h0M176.8,624.8h0M176.9,621.4h0M177.1,623.3h0M177.2,623.9h0M177.3,624.6h0M177.4,626.1h0M177.6,623.7h0M177.7,620.9h0M177.8,625.2h0M177.9,623.7h0M178.1,624.0h0M178.2,625.4h0M178.3,624.4h0M178.4,623.5h0M178.6,623.1h0M178.7,624.0h0M178.8,625.4h0M178.9,624.9h0M179.1,625.2h0M179.2,624.9h0M179.3,623.3h0M179.4,622.8h0M179.5,623.1h0M179.7,622.9h0M179.8,623.4h0M179.9,622.9h0M180.0,623.8h0M180.2,622.2h0M180.3,625.1h0M180.4,624.5h0M180.5,625.0h0M180.7,624.0h0M180.8,622.5h0M180.9,622.7h0M181.0,624.8h0M181.2,623.1h0M181.3,623.0h0M181.4,625.9h0M181.5,624.5h0M181.7,626.4h0M181.8,625.6h0M181.9,625.7h0M182.0,625.1h0M182.2,623.3h0M182.3,622.9h0M182.4,624.7h0M182.5,623.8h0M182.7,624.9h0M182.8,624.4h0M182.9,623.6h0M183.0,624.1h0M183.2,623.8h0M183.3,625.0h0M183.4,624.7h0M183.5,623.7h0M183.6,625.6h0M183.8,625.5h0M183.9,624.4h0M184.0,622.5h0M184.1,625.4h0M184.3,625.6h0M184.4,624.5h0M184.5,624.4h0M184.6,624.8h0M184.8,624.6h0M184.9,625.6h0M185.0,624.0h0M185.1,623.1h0M185.3,623.7h0M185.4,625.6h0M185.5,624.2h0M185.6,625.7h0M185.8,625.5h0M185.9,625.3h0M186.0,623.8h0M186.1,623.5h0M186.3,624.6h0M186.4,625.6h0M186.5,624.9h0M186.6,623.3h0M186.8,624.3h0M186.9,623.1h0M187.0,626.3h0M187.1,624.9h0M187.2,624.4h0M187.4,624.0h0M187.5,623.7h0M187.6,626.6h0M187.7,624.3h0M187.9,626.8h0M188.0,626.0h0M188.1,625.8h0M188.2,624.2h0M188.4,624.6h0M188.5,624.0h0M188.6,623.2h0M188.7,624.9h0M188.9,624.7h0M189.0,624.7h0M189.1,623.1h0M189.2,624.1h0M189.4,624.5h0M189.5,625.7h0M189.6,625.2h0M189.7,624.8h0M189.9,626.5h0M190.0,625.0h0M190.1,625.9h0M190.2,623.9h0M190.4,624.7h0M190.5,624.9h0M190.6,624.8h0M190.7,623.4h0M190.8,624.4h0M191.0,626.3h0M191.1,624.2h0M191.2,623.2h0M191.3,625.0h0M191.5,624.3h0M191.6,623.9h0M191.7,624.0h0M191.8,625.1h0M192.0,625.6h0M192.1,624.5h0M192.2,623.2h0M192.3,623.0h0M192.5,624.5h0M192.6,624.6h0M192.7,625.2h0M192.8,623.4h0M193.0,623.4h0M193.1,624.0h0M193.2,623.6h0M193.3,624.2h0M193.5,626.2h0M193.6,625.5h0M193.7,623.4h0M193.8,622.9h0M194.0,622.8h0M194.1,626.2h0M194.2,625.2h0M194.3,623.6h0M194.5,625.6h0M194.6,624.3h0M194.7,625.8h0M194.8,622.8h0M194.9,624.3h0M195.1,626.1h0M195.2,624.1h0M195.3,626.0h0M195.4,625.7h0M195.6,624.9h0M195.7,625.2h0M195.8,624.7h0M195.9,625.2h0M196.1,623.3h0M196.2,623.6h0M196.3,623.2h0M196.4,624.4h0M196.6,624.9h0M196.7,623.9h0M196.8,623.4h0M196.9,623.9h0M197.1,626.4h0M197.2,626.3h0M197.3,624.6h0M197.4,626.5h0M197.6,625.5h0M197.7,623.4h0M197.8,622.8h0M197.9,625.4h0M198.1,624.6h0M198.2,623.5h0M198.3,624.2h0M198.4,625.9h0M198.5,623.2h0M198.7,626.4h0M198.8,626.0h0M198.9,625.0h0M199.0,626.1h0M199.2,624.4h0M199.3,622.9h0M199.4,626.6h0M199.5,626.2h0M199.7,625.3h0M199.8,625.3h0M199.9,624.7h0M200.0,623.5h0M200.2,625.4h0M200.3,623.3h0M200.4,626.0h0M200.5,627.2h0M200.7,624.3h0M200.8,627.3h0M200.9,625.3h0M201.0,625.0h0M201.2,625.4h0M201.3,625.8h0M201.4,625.8h0M201.5,624.5h0M201.7,625.5h0M201.8,625.6h0M201.9,624.0h0M202.0,623.4h0M202.1,624.3h0M202.3,625.1h0M202.4,624.3h0M202.5,626.4h0M202.6,625.0h0M202.8,625.4h0M202.9,625.5h0M203.0,625.7h0M203.1,623.9h0M203.3,625.4h0M203.4,623.8h0M203.5,625.2h0M203.6,623.4h0M203.8,623.7h0M203.9,626.7h0M204.0,624.6h0M204.1,627.0h0M204.3,627.1h0M204.4,625.7h0M204.5,624.7h0M204.6,625.4h0M204.8,624.7h0M204.9,626.5h0M205.0,626.7h0M205.1,626.6h0M205.3,624.2h0M205.4,624.9h0M205.5,625.0h0M205.6,623.9h0M205.8,626.0h0M205.9,625.4h0M206.0,626.0h0M206.1,625.6h0M206.2,625.1h0M206.4,624.0h0M206.5,626.6h0M206.6,626.6h0M206.7,623.1h0M206.9,626.2h0M207.0,624.2h0M207.1,626.2h0M207.2,626.5h0M207.4,624.2h0M207.5,625.7h0M207.6,624.8h0M207.7,624.7h0M207.9,625.2h0M208.0,625.1h0M208.1,625.4h0M208.2,623.9h0M208.4,625.7h0M208.5,624.5h0M208.6,625.4h0M208.7,626.5h0M208.9,623.8h0M209.0,624.3h0M209.1,624.1h0M209.2,625.1h0M209.4,625.4h0M209.5,626.4h0M209.6,625.1h0M209.7,624.6h0M209.8,623.8h0M210.0,625.2h0M210.1,624.5h0M210.2,627.4h0M210.3,626.1h0M210.5,626.8h0M210.6,625.2h0M210.7,625.0h0M210.8,623.6h0M211.0,626.9h0M211.1,625.4h0M211.2,623.8h0M211.3,625.3h0M211.5,626.0h0M211.6,625.9h0M211.7,624.1h0M211.8,622.7h0M212.0,623.7h0M212.1,625.4h0M212.2,623.9h0M212.3,624.6h0M212.5,626.3h0M212.6,624.6h0M212.7,624.0h0M212.8,624.0h0M213.0,624.7h0M213.1,623.8h0M213.2,624.8h0M213.3,625.6h0M213.4,624.3h0M213.6,625.0h0M213.7,627.5h0M213.8,626.2h0M213.9,624.2h0M214.1,624.7h0M214.2,625.9h0M214.3,627.4h0M214.4,626.1h0M214.6,625.8h0M214.7,624.0h0M214.8,626.6h0M214.9,624.8h0M215.1,624.2h0M215.2,625.4h0M215.3,624.3h0M215.4,625.3h0M215.6,626.2h0M215.7,624.6h0M215.8,625.3h0M215.9,625.5h0M216.1,625.2h0M216.2,627.2h0M216.3,626.5h0M216.4,624.7h0M216.6,626.0h0M216.7,625.1h0M216.8,624.2h0M216.9,626.7h0M217.1,627.1h0M217.2,625.2h0M217.3,625.0h0M217.4,626.8h0M217.5,624.4h0M217.7,624.9h0M217.8,626.6h0M217.9,624.8h0M218.0,624.5h0M218.2,624.5h0M218.3,625.2h0M218.4,624.1h0M218.5,625.3h0M218.7,624.0h0M218.8,627.1h0M218.9,624.9h0M219.0,625.2h0M219.2,626.9h0M219.3,626.4h0M219.4,625.2h0M219.5,625.0h0M219.7,626.5h0M219.8,625.5h0M219.9,626.5h0M220.0,626.1h0M220.2,625.2h0M220.3,625.1h0M220.4,626.9h0M220.5,624.8h0M220.7,625.5h0M220.8,627.0h0M220.9,624.1h0M221.0,625.7h0M221.1,624.6h0M221.3,624.1h0M221.4,625.4h0M221.5,627.7h0M221.6,627.2h0M221.8,628.2h0M221.9,626.6h0M222.0,627.6h0M222.1,625.8h0M222.3,626.4h0M222.4,625.4h0M222.5,625.7h0M222.6,626.5h0M222.8,625.6h0M222.9,626.9h0M223.0,625.8h0M223.1,625.2h0M223.3,625.1h0M223.4,627.0h0M223.5,624.4h0M223.6,627.3h0M223.8,626.2h0M223.9,625.6h0M224.0,625.1h0M224.1,625.3h0M224.3,623.0h0M224.4,625.6h0M224.5,626.0h0M224.6,626.4h0M224.7,625.0h0M224.9,625.2h0M225.0,623.7h0M225.1,624.6h0M225.2,623.7h0M225.4,625.6h0M225.5,624.9h0M225.6,624.2h0M225.7,626.2h0M225.9,624.4h0M226.0,624.9h0M226.1,626.3h0M226.2,624.1h0M226.4,622.8h0M226.5,626.7h0M226.6,624.7h0M226.7,625.7h0M226.9,626.4h0M227.0,623.7h0M227.1,626.8h0M227.2,624.7h0M227.4,624.5h0M227.5,625.5h0M227.6,626.5h0M227.7,623.7h0M227.9,624.8h0M228.0,625.5h0M228.1,626.6h0M228.2,627.6h0M228.4,627.0h0M228.5,626.6h0M228.6,627.4h0M228.7,626.7h0M228.8,625.9h0M229.0,624.2h0M229.1,627.1h0M229.2,624.2h0M229.3,625.5h0M229.5,625.1h0M229.6,623.2h0M229.7,625.1h0M229.8,623.6h0M230.0,625.4h0M230.1,624.6h0M230.2,625.0h0M230.3,625.2h0M230.5,624.7h0M230.6,626.6h0M230.7,623.8h0M230.8,625.3h0M231.0,626.4h0M231.1,626.5h0M231.2,625.3h0M231.3,625.8h0M231.5,626.6h0M231.6,626.3h0M231.7,625.6h0M231.8,624.3h0M232.0,623.7h0M232.1,624.8h0M232.2,625.3h0M232.3,625.4h0M232.4,623.8h0M232.6,625.8h0M232.7,625.0h0M232.8,627.1h0M232.9,626.3h0M233.1,626.3h0M233.2,624.6h0M233.3,624.0h0M233.4,625.4h0M233.6,626.2h0M233.7,624.1h0M233.8,626.5h0M233.9,626.7h0M234.1,624.8h0M234.2,624.3h0M234.3,625.5h0M234.4,626.4h0M234.6,625.9h0M234.7,624.8h0M234.8,625.2h0M234.9,626.0h0M235.1,625.8h0M235.2,624.3h0" stroke="#f00" stroke-width="2.2" stroke-linecap="square" fill="none"/>
<path d="M338.0,168.0h0M341.2,152.3h0M346.5,147.4h0M345.3,145.1h0M348.1,136.5h0M349.8,129.4h0M351.2,134.9h0M353.1,131.6h0M355.9,134.1h0M358.0,127.9h0M360.4,128.7h0M365.7,126.1h0M367.4,120.1h0M369.4,117.1h0M371.1,110.9h0M373.9,117.7h0M376.0,113.5h0M377.2,111.5h0M379.0,109.0h0M380.5,114.0h0M382.0,104.5h0M384.0,110.5h0M385.0,105.0h0M386.8,104.5h0M388.5,105.5h0M390.2,102.2h0M391.8,97.0h0M393.5,94.5h0M395.5,89.5h0M396.2,81.5h0M398.5,83.5h0M400.5,75.8h0M402.0,75.5h0M403.5,78.0h0M405.0,76.2h0M407.0,75.0h0M408.8,74.0h0M410.5,74.8h0M412.0,74.5h0M414.0,75.8h0M416.0,71.8h0M417.5,76.5h0M419.0,75.0h0M421.2,73.8h0M422.8,79.0h0M424.5,79.5h0M425.8,79.5h0M427.2,80.0h0M429.2,86.5h0M430.5,81.2h0M432.2,81.2h0M434.2,85.0h0M435.8,85.0h0M437.8,84.8h0M439.8,85.8h0M441.2,88.8h0M442.8,89.5h0M444.5,89.5h0M445.5,92.2h0M447.2,89.2h0M448.8,88.5h0M450.5,87.0h0M452.0,93.5h0M453.5,92.5h0M455.0,93.8h0M456.8,91.5h0M458.5,90.0h0M459.8,89.5h0M461.2,92.2h0M462.8,91.5h0M464.5,91.2h0M466.2,90.0h0M467.8,89.0h0M469.2,88.5h0M470.8,90.5h0M472.2,92.8h0M474.0,91.5h0M475.5,92.5h0M477.8,92.0h0M479.5,88.8h0M481.0,87.8h0M482.8,93.5h0M484.5,89.0h0M486.2,89.8h0M487.8,91.5h0M489.5,92.8h0M491.0,93.5h0M492.5,95.5h0M494.0,91.0h0M495.8,93.2h0M497.2,90.5h0M499.0,90.0h0M500.8,88.0h0M502.5,87.8h0M504.2,88.5h0M505.5,94.2h0M507.0,92.0h0M508.8,88.0h0M510.2,88.0h0M511.8,90.8h0" stroke="#000" stroke-width="2.7" stroke-linecap="square" fill="none"/>
<path d="M338.0,169.6h0M340.0,153.3h0M341.2,149.2h0M343.2,146.3h0M344.9,142.2h0M346.5,143.4h0M348.1,139.8h0M349.8,141.0h0M351.0,138.6h0M352.6,137.3h0M354.7,139.4h0M355.9,137.3h0M357.5,138.2h0M359.6,138.2h0M361.2,132.9h0M362.9,131.2h0M364.5,134.1h0M365.7,132.4h0M367.4,129.2h0M369.0,125.4h0M370.6,121.8h0M372.7,126.1h0M373.9,130.4h0M375.5,126.7h0M377.0,119.8h0M378.5,122.5h0M380.5,117.0h0M382.2,120.5h0M383.8,113.5h0M386.8,123.8h0M388.5,116.8h0M390.2,115.0h0M392.0,117.8h0M393.5,109.0h0M395.0,112.0h0M396.8,118.5h0M398.5,110.8h0M400.0,111.2h0M401.8,110.5h0M403.5,109.0h0M405.0,112.0h0M406.5,119.0h0M408.0,112.0h0M409.5,106.0h0M411.2,112.8h0M413.0,100.0h0M414.8,110.5h0M416.2,112.0h0M417.8,107.2h0M419.5,105.5h0M421.0,103.5h0M422.8,104.8h0M424.5,103.0h0M425.8,99.5h0M427.2,102.0h0M428.8,102.2h0M430.5,101.0h0M432.2,104.0h0M434.0,101.0h0M435.5,106.8h0M437.0,103.0h0M438.8,103.5h0M440.5,108.0h0M442.2,107.5h0M443.5,101.8h0M445.0,103.0h0M446.5,100.0h0M448.2,104.5h0M449.8,103.0h0M451.2,102.2h0M452.8,101.0h0M454.5,100.0h0M456.0,98.5h0M457.5,102.2h0M459.2,102.0h0M461.0,99.5h0M462.8,99.0h0M464.5,102.5h0M466.0,99.8h0M467.8,99.0h0M469.5,102.8h0M471.0,97.0h0M472.8,98.2h0M474.5,99.0h0M476.0,99.0h0M477.8,98.2h0M479.5,99.5h0M481.2,100.5h0M483.0,100.0h0M484.8,99.8h0M486.5,100.2h0M488.2,99.5h0M489.8,99.0h0M491.0,102.0h0M492.5,108.0h0M494.0,99.0h0M495.8,104.5h0M497.2,103.5h0M498.8,102.0h0M500.5,101.2h0M502.0,100.0h0M503.8,99.5h0M505.5,99.0h0M507.2,98.2h0M509.0,103.5h0M510.8,104.0h0M512.2,102.5h0" stroke="#f00" stroke-width="3.1" stroke-linecap="round" fill="none"/>
<path d="M338.2,393.0h0M339.8,369.6h0M341.5,365.3h0M343.0,354.6h0M344.8,356.3h0M346.2,361.3h0M348.0,348.9h0M349.5,353.9h0M351.1,349.9h0M353.1,343.1h0M354.6,350.6h0M356.3,346.2h0M357.6,338.1h0M359.3,340.1h0M361.1,343.2h0M362.9,343.1h0M364.6,340.8h0M366.1,335.2h0M367.6,335.0h0M369.0,329.8h0M371.0,334.5h0M372.5,338.5h0M373.5,336.0h0M375.5,329.5h0M377.5,335.0h0M379.0,328.0h0M380.5,326.5h0M382.0,324.0h0M384.0,332.0h0M385.0,330.5h0M387.5,321.0h0M388.5,320.5h0M390.0,328.5h0M392.0,324.0h0M393.5,323.0h0M395.0,318.0h0M396.5,315.0h0M398.5,312.8h0M400.0,318.0h0M402.0,312.0h0M404.0,315.5h0M405.5,312.5h0M406.5,317.0h0M408.2,307.8h0M409.5,314.0h0M411.5,312.2h0M413.0,307.2h0M414.5,308.5h0M416.2,304.8h0M417.8,307.8h0M419.0,305.0h0M420.8,305.2h0M423.0,303.0h0M424.5,303.2h0M425.8,307.5h0M427.2,303.0h0M429.0,304.8h0M430.8,305.0h0M432.0,303.5h0M434.0,299.2h0M435.5,305.0h0M437.2,301.5h0M439.0,313.5h0M440.5,308.2h0M442.0,304.2h0M443.8,309.5h0M445.0,305.8h0M447.0,306.5h0M448.2,302.5h0M450.2,302.5h0M451.5,312.5h0M453.5,310.0h0M455.0,309.0h0M456.5,307.2h0M459.4,307.0h0M463.2,308.3h0M461.5,313.5h0M464.8,315.2h0M466.5,315.5h0M468.1,314.4h0M469.7,314.7h0M471.1,312.2h0M472.7,316.3h0M474.4,309.7h0M476.3,311.9h0M477.9,314.8h0M479.5,310.3h0M481.2,314.7h0M482.8,314.4h0M484.5,318.5h0M486.1,312.2h0M487.5,322.1h0M489.4,313.0h0M491.0,317.4h0M492.6,320.1h0M494.3,316.8h0M495.9,315.2h0M497.5,312.7h0M499.2,321.0h0M500.8,322.1h0M502.5,319.2h0M504.1,319.5h0M505.4,311.9h0M507.4,317.9h0M508.7,324.2h0M510.4,315.5h0M511.7,320.6h0" stroke="#000" stroke-width="2.7" stroke-linecap="square" fill="none"/>
<path d="M338.2,396.0h0M340.0,385.0h0M341.5,379.3h0M343.0,371.1h0M344.8,373.9h0M346.5,370.3h0M348.0,367.9h0M349.5,366.9h0M351.3,359.0h0M352.9,363.1h0M354.3,362.3h0M356.3,359.3h0M357.6,364.1h0M359.3,362.1h0M361.1,362.9h0M362.6,363.6h0M364.3,359.6h0M366.0,363.0h0M367.5,362.0h0M369.2,359.2h0M371.0,356.0h0M373.5,356.2h0M375.0,358.5h0M377.0,360.5h0M378.8,355.0h0M380.5,352.5h0M382.5,357.0h0M384.2,358.5h0M386.0,356.5h0M387.0,352.8h0M388.8,356.2h0M390.5,353.0h0M392.2,353.5h0M394.0,353.2h0M395.5,354.0h0M397.0,351.5h0M399.0,351.0h0M400.5,353.0h0M402.0,354.5h0M403.5,351.5h0M405.0,353.5h0M406.5,347.8h0M408.0,342.5h0M409.5,348.5h0M411.0,345.0h0M412.8,347.5h0M414.5,342.5h0M416.0,342.5h0M417.8,346.0h0M419.5,340.8h0M421.2,346.5h0M422.5,343.8h0M424.2,342.0h0M425.8,343.5h0M427.5,337.0h0M429.0,343.5h0M430.8,340.0h0M432.5,339.8h0M434.2,343.2h0M436.0,341.8h0M437.5,342.5h0M439.0,344.0h0M440.8,339.0h0M442.5,338.8h0M444.0,340.5h0M445.5,334.0h0M447.0,341.5h0M448.8,338.0h0M450.2,339.2h0M451.8,335.0h0M453.5,336.2h0M455.0,339.0h0M456.8,338.5h0M458.2,337.5h0M460.0,340.0h0M461.5,339.0h0M463.0,335.5h0M464.8,334.2h0M467.0,340.0h0M468.5,338.5h0M470.0,340.5h0M471.5,337.5h0M473.0,331.8h0M474.8,335.5h0M476.5,333.8h0M478.0,334.8h0M479.8,338.8h0M481.2,338.8h0M482.8,341.5h0M484.5,337.2h0M486.0,343.5h0M487.5,337.5h0M489.2,336.0h0M490.8,329.5h0M492.5,332.8h0M494.2,334.8h0M495.5,339.0h0M497.2,339.2h0M499.0,332.5h0M500.5,333.8h0M502.2,342.2h0M503.8,337.2h0M505.5,332.8h0M507.0,337.2h0M508.8,337.5h0M510.5,339.0h0M512.2,339.2h0" stroke="#f00" stroke-width="3.1" stroke-linecap="round" fill="none"/>
<path d="M338.0,625.9h0M339.5,625.6h0M341.6,624.5h0M344.6,627.3h0M346.6,622.3h0M348.3,623.6h0M349.8,621.3h0M351.2,625.0h0M352.5,624.1h0M356.2,621.3h0M357.7,611.9h0M359.4,613.2h0M361.2,620.0h0M363.0,614.5h0M364.4,619.1h0M366.2,615.4h0M367.5,610.7h0M369.4,610.4h0M371.2,610.7h0M373.5,610.9h0M375.5,603.5h0M376.9,599.6h0M379.2,592.4h0M380.9,594.3h0M382.4,583.3h0M384.3,586.2h0M386.0,586.2h0M387.2,581.3h0M388.6,589.3h0M390.4,582.5h0M392.0,575.9h0M393.5,580.1h0M395.2,581.8h0M396.6,570.2h0M398.6,568.1h0M400.0,567.6h0M401.5,573.3h0M403.5,564.7h0M404.9,563.5h0M406.7,572.1h0M408.4,564.2h0M410.1,564.7h0M411.5,559.5h0M413.3,559.9h0M415.6,561.5h0M417.0,558.4h0M418.7,556.7h0M420.8,556.3h0M422.2,562.3h0M424.2,559.1h0M426.0,564.1h0M427.8,560.6h0M429.5,563.6h0M431.2,560.9h0M433.2,561.9h0M435.6,559.1h0M437.9,561.6h0M439.6,564.1h0M441.3,562.1h0M443.3,557.6h0M445.3,564.6h0M447.1,559.1h0M448.9,561.9h0M450.6,561.3h0M452.3,560.6h0M453.9,564.1h0M455.6,560.3h0M457.3,558.3h0M458.6,559.6h0M460.1,563.3h0M461.7,558.9h0M464.0,556.8h0M465.7,558.1h0M467.2,562.1h0M469.2,558.6h0M471.0,559.5h0M472.5,562.1h0M474.5,564.6h0M476.2,567.3h0M478.0,564.2h0M479.8,564.6h0M481.2,568.9h0M482.9,569.9h0M484.2,569.6h0M486.1,568.9h0M487.9,568.1h0M489.6,569.1h0M491.1,566.6h0M492.9,567.6h0M494.1,568.6h0M495.6,571.3h0M497.1,571.9h0M498.6,570.1h0M500.1,572.6h0M501.9,568.6h0M503.6,570.3h0M505.1,571.6h0M506.6,571.1h0M508.1,571.3h0M509.6,570.6h0M511.1,571.6h0M512.6,569.9h0" stroke="#000" stroke-width="2.7" stroke-linecap="square" fill="none"/>
<path d="M338.3,616.6h0M339.8,619.5h0M341.4,621.9h0M342.8,622.0h0M344.6,624.1h0M346.4,614.5h0M348.0,620.0h0M349.5,618.6h0M351.0,621.9h0M352.8,620.0h0M354.6,625.6h0M356.2,616.1h0M358.0,606.9h0M359.8,613.5h0M361.2,612.7h0M362.5,599.8h0M364.4,604.1h0M367.4,596.2h0M369.2,596.4h0M372.3,598.6h0M370.9,589.7h0M373.4,597.9h0M375.5,585.5h0M377.1,586.2h0M379.2,579.0h0M380.5,578.2h0M383.5,570.4h0M385.1,572.9h0M382.0,560.7h0M387.0,551.2h0M388.6,559.0h0M390.4,539.7h0M392.0,549.6h0M393.5,546.1h0M395.2,530.8h0M396.9,530.3h0M398.4,538.3h0M400.0,534.3h0M401.9,541.6h0M403.5,535.8h0M404.9,532.4h0M406.4,545.8h0M408.4,546.4h0M409.5,542.4h0M411.3,543.8h0M413.0,547.5h0M414.7,540.4h0M416.4,537.7h0M418.1,542.4h0M419.8,545.8h0M421.2,543.3h0M422.8,548.1h0M424.5,550.2h0M426.2,552.9h0M429.2,549.1h0M430.8,554.1h0M427.8,561.3h0M432.6,559.1h0M434.3,563.6h0M435.9,564.3h0M437.6,555.6h0M439.1,559.6h0M440.9,561.9h0M442.3,564.1h0M443.9,568.6h0M445.6,573.6h0M447.1,581.4h0M448.9,574.2h0M450.6,576.1h0M452.3,581.9h0M454.1,582.4h0M455.6,584.0h0M456.9,573.6h0M458.3,588.2h0M459.9,575.7h0M461.3,577.9h0M463.4,581.4h0M465.0,591.7h0M466.7,591.4h0M468.4,590.0h0M470.2,579.2h0M471.5,585.7h0M473.5,591.0h0M474.8,583.6h0M476.2,589.0h0M478.0,589.2h0M479.8,589.0h0M481.5,587.6h0M482.9,584.2h0M484.6,585.0h0M486.3,586.0h0M487.9,593.0h0M489.3,589.7h0M491.1,594.0h0M492.9,593.0h0M494.3,599.2h0M495.9,596.2h0M497.3,599.2h0M498.9,591.7h0M500.6,594.2h0M502.3,598.2h0M503.9,599.0h0M505.6,596.7h0M507.1,598.7h0M508.9,598.2h0M510.7,597.2h0M512.1,596.4h0" stroke="#f00" stroke-width="3.1" stroke-linecap="round" fill="none"/>
<path d="M43.45,31.0H254.45V200.5H43.45Z" fill="none" stroke="#333" stroke-width="1.15"/>
<path d="M40.25,200.50H43.45M40.25,181.50H43.45M40.25,162.50H43.45M40.25,144.50H43.45M40.25,125.50H43.45M40.25,106.50H43.45M40.25,87.50H43.45M40.25,68.50H43.45M40.25,49.50H43.45M40.25,31.50H43.45M55.50,200.5V203.70M80.50,200.5V203.70M105.50,200.5V203.70M130.50,200.5V203.70M155.50,200.5V203.70M179.50,200.5V203.70M204.50,200.5V203.70M229.50,200.5V203.70M254.50,200.5V203.70" stroke="#333" stroke-width="1.1" fill="none"/>
<text x="37.85" y="203.40" text-anchor="end" class="tk">8</text>
<text x="37.85" y="184.57" text-anchor="end" class="tk">9</text>
<text x="37.85" y="165.73" text-anchor="end" class="tk">10</text>
<text x="37.85" y="146.90" text-anchor="end" class="tk">11</text>
<text x="37.85" y="128.07" text-anchor="end" class="tk">12</text>
<text x="37.85" y="109.23" text-anchor="end" class="tk">13</text>
<text x="37.85" y="90.40" text-anchor="end" class="tk">14</text>
<text x="37.85" y="71.57" text-anchor="end" class="tk">15</text>
<text x="37.85" y="52.73" text-anchor="end" class="tk">16</text>
<text x="37.85" y="33.90" text-anchor="end" class="tk">17</text>
<text x="55.86" y="213.30" text-anchor="middle" class="tk">0</text>
<text x="80.69" y="213.30" text-anchor="middle" class="tk">1000</text>
<text x="105.51" y="213.30" text-anchor="middle" class="tk">2000</text>
<text x="130.33" y="213.30" text-anchor="middle" class="tk">3000</text>
<text x="155.16" y="213.30" text-anchor="middle" class="tk">4000</text>
<text x="179.98" y="213.30" text-anchor="middle" class="tk">5000</text>
<text x="204.80" y="213.30" text-anchor="middle" class="tk">6000</text>
<text x="229.63" y="213.30" text-anchor="middle" class="tk">7000</text>
<text x="254.45" y="213.30" text-anchor="middle" class="tk">8000</text>
<text x="148.95" y="228.50" text-anchor="middle" class="at">Time(s)</text>
<text transform="translate(25.05,115.75) rotate(-90)" text-anchor="middle" class="at">Tension(mN/m)</text>
<path d="M43.45,262.0H254.8V432.0H43.45Z" fill="none" stroke="#333" stroke-width="1.15"/>
<path d="M40.25,432.50H43.45M40.25,415.50H43.45M40.25,398.50H43.45M40.25,381.50H43.45M40.25,364.50H43.45M40.25,347.50H43.45M40.25,330.50H43.45M40.25,313.50H43.45M40.25,296.50H43.45M40.25,279.50H43.45M40.25,262.50H43.45M55.50,432.0V435.20M80.50,432.0V435.20M105.50,432.0V435.20M130.50,432.0V435.20M155.50,432.0V435.20M180.50,432.0V435.20M205.50,432.0V435.20M229.50,432.0V435.20M254.50,432.0V435.20M68.50,432.0V433.60M93.50,432.0V433.60M118.50,432.0V433.60M142.50,432.0V433.60M167.50,432.0V433.60M192.50,432.0V433.60M217.50,432.0V433.60M242.50,432.0V433.60" stroke="#333" stroke-width="1.1" fill="none"/>
<text x="37.85" y="434.90" text-anchor="end" class="tk">7</text>
<text x="37.85" y="417.90" text-anchor="end" class="tk">8</text>
<text x="37.85" y="400.90" text-anchor="end" class="tk">9</text>
<text x="37.85" y="383.90" text-anchor="end" class="tk">10</text>
<text x="37.85" y="366.90" text-anchor="end" class="tk">11</text>
<text x="37.85" y="349.90" text-anchor="end" class="tk">12</text>
<text x="37.85" y="332.90" text-anchor="end" class="tk">13</text>
<text x="37.85" y="315.90" text-anchor="end" class="tk">14</text>
<text x="37.85" y="298.90" text-anchor="end" class="tk">15</text>
<text x="37.85" y="281.90" text-anchor="end" class="tk">16</text>
<text x="37.85" y="264.90" text-anchor="end" class="tk">17</text>
<text x="55.88" y="444.80" text-anchor="middle" class="tk">0</text>
<text x="80.75" y="444.80" text-anchor="middle" class="tk">1000</text>
<text x="105.61" y="444.80" text-anchor="middle" class="tk">2000</text>
<text x="130.48" y="444.80" text-anchor="middle" class="tk">3000</text>
<text x="155.34" y="444.80" text-anchor="middle" class="tk">4000</text>
<text x="180.21" y="444.80" text-anchor="middle" class="tk">5000</text>
<text x="205.07" y="444.80" text-anchor="middle" class="tk">6000</text>
<text x="229.94" y="444.80" text-anchor="middle" class="tk">7000</text>
<text x="254.80" y="444.80" text-anchor="middle" class="tk">8000</text>
<text x="149.12" y="460.00" text-anchor="middle" class="at">Time(s)</text>
<text transform="translate(25.05,347.00) rotate(-90)" text-anchor="middle" class="at">Tension(mN/m)</text>
<path d="M43.7,493.3H254.8V663.3H43.7Z" fill="none" stroke="#333" stroke-width="1.15"/>
<path d="M40.50,663.50H43.7M40.50,646.50H43.7M40.50,629.50H43.7M40.50,612.50H43.7M40.50,595.50H43.7M40.50,578.50H43.7M40.50,561.50H43.7M40.50,544.50H43.7M40.50,527.50H43.7M40.50,510.50H43.7M40.50,493.50H43.7M56.50,663.3V666.50M80.50,663.3V666.50M105.50,663.3V666.50M130.50,663.3V666.50M155.50,663.3V666.50M180.50,663.3V666.50M205.50,663.3V666.50M229.50,663.3V666.50M254.50,663.3V666.50M68.50,663.3V664.90M93.50,663.3V664.90M118.50,663.3V664.90M143.50,663.3V664.90M167.50,663.3V664.90M192.50,663.3V664.90M217.50,663.3V664.90M242.50,663.3V664.90" stroke="#333" stroke-width="1.1" fill="none"/>
<text x="38.10" y="666.20" text-anchor="end" class="tk">9</text>
<text x="38.10" y="649.20" text-anchor="end" class="tk">10</text>
<text x="38.10" y="632.20" text-anchor="end" class="tk">11</text>
<text x="38.10" y="615.20" text-anchor="end" class="tk">12</text>
<text x="38.10" y="598.20" text-anchor="end" class="tk">13</text>
<text x="38.10" y="581.20" text-anchor="end" class="tk">14</text>
<text x="38.10" y="564.20" text-anchor="end" class="tk">15</text>
<text x="38.10" y="547.20" text-anchor="end" class="tk">16</text>
<text x="38.10" y="530.20" text-anchor="end" class="tk">17</text>
<text x="38.10" y="513.20" text-anchor="end" class="tk">18</text>
<text x="38.10" y="496.20" text-anchor="end" class="tk">19</text>
<text x="56.12" y="676.10" text-anchor="middle" class="tk">0</text>
<text x="80.95" y="676.10" text-anchor="middle" class="tk">1000</text>
<text x="105.79" y="676.10" text-anchor="middle" class="tk">2000</text>
<text x="130.62" y="676.10" text-anchor="middle" class="tk">3000</text>
<text x="155.46" y="676.10" text-anchor="middle" class="tk">4000</text>
<text x="180.29" y="676.10" text-anchor="middle" class="tk">5000</text>
<text x="205.13" y="676.10" text-anchor="middle" class="tk">6000</text>
<text x="229.96" y="676.10" text-anchor="middle" class="tk">7000</text>
<text x="254.80" y="676.10" text-anchor="middle" class="tk">8000</text>
<text x="149.25" y="691.30" text-anchor="middle" class="at">Time(s)</text>
<text transform="translate(25.30,578.30) rotate(-90)" text-anchor="middle" class="at">Tension(mN/m)</text>
<path d="M321.5,31.2H532.5V200.5H321.5Z" fill="none" stroke="#333" stroke-width="1.15"/>
<path d="M318.30,200.50H321.5M318.30,184.50H321.5M318.30,168.50H321.5M318.30,152.50H321.5M318.30,136.50H321.5M318.30,119.50H321.5M318.30,103.50H321.5M318.30,87.50H321.5M318.30,71.50H321.5M318.30,55.50H321.5M318.30,39.50H321.5M337.50,200.5V203.70M370.50,200.5V203.70M402.50,200.5V203.70M435.50,200.5V203.70M467.50,200.5V203.70M500.50,200.5V203.70M532.50,200.5V203.70" stroke="#333" stroke-width="1.1" fill="none"/>
<text x="315.90" y="203.40" text-anchor="end" class="tk">6</text>
<text x="315.90" y="187.28" text-anchor="end" class="tk">8</text>
<text x="315.90" y="171.15" text-anchor="end" class="tk">10</text>
<text x="315.90" y="155.03" text-anchor="end" class="tk">12</text>
<text x="315.90" y="138.90" text-anchor="end" class="tk">14</text>
<text x="315.90" y="122.78" text-anchor="end" class="tk">16</text>
<text x="315.90" y="106.66" text-anchor="end" class="tk">18</text>
<text x="315.90" y="90.53" text-anchor="end" class="tk">20</text>
<text x="315.90" y="74.41" text-anchor="end" class="tk">22</text>
<text x="315.90" y="58.29" text-anchor="end" class="tk">24</text>
<text x="315.90" y="42.16" text-anchor="end" class="tk">26</text>
<text x="337.73" y="213.30" text-anchor="middle" class="tk">0</text>
<text x="370.19" y="213.30" text-anchor="middle" class="tk">2000</text>
<text x="402.65" y="213.30" text-anchor="middle" class="tk">4000</text>
<text x="435.12" y="213.30" text-anchor="middle" class="tk">6000</text>
<text x="467.58" y="213.30" text-anchor="middle" class="tk">8000</text>
<text x="500.04" y="213.30" text-anchor="middle" class="tk">10,000</text>
<text x="532.50" y="213.30" text-anchor="middle" class="tk">12,000</text>
<text x="427.50" y="227.10" text-anchor="middle" class="at">Time(s)</text>
<text transform="translate(303.40,115.85) rotate(-90)" text-anchor="middle" class="at">E(mN/m)</text>
<path d="M353.50,200.5V202.10M386.50,200.5V202.10M418.50,200.5V202.10M451.50,200.5V202.10M483.50,200.5V202.10M516.50,200.5V202.10" stroke="#333" stroke-width="1.1" fill="none"/>
<path d="M321.5,261.8H532.5V431.6H321.5Z" fill="none" stroke="#333" stroke-width="1.15"/>
<path d="M318.30,431.50H321.5M318.30,416.50H321.5M318.30,400.50H321.5M318.30,385.50H321.5M318.30,369.50H321.5M318.30,354.50H321.5M318.30,338.50H321.5M318.30,323.50H321.5M318.30,308.50H321.5M318.30,292.50H321.5M318.30,277.50H321.5M318.30,261.50H321.5M337.50,431.6V434.80M370.50,431.6V434.80M402.50,431.6V434.80M435.50,431.6V434.80M467.50,431.6V434.80M500.50,431.6V434.80M532.50,431.6V434.80" stroke="#333" stroke-width="1.1" fill="none"/>
<text x="315.90" y="434.50" text-anchor="end" class="tk">4</text>
<text x="315.90" y="419.06" text-anchor="end" class="tk">6</text>
<text x="315.90" y="403.63" text-anchor="end" class="tk">8</text>
<text x="315.90" y="388.19" text-anchor="end" class="tk">10</text>
<text x="315.90" y="372.75" text-anchor="end" class="tk">12</text>
<text x="315.90" y="357.32" text-anchor="end" class="tk">14</text>
<text x="315.90" y="341.88" text-anchor="end" class="tk">16</text>
<text x="315.90" y="326.45" text-anchor="end" class="tk">18</text>
<text x="315.90" y="311.01" text-anchor="end" class="tk">20</text>
<text x="315.90" y="295.57" text-anchor="end" class="tk">22</text>
<text x="315.90" y="280.14" text-anchor="end" class="tk">24</text>
<text x="315.90" y="264.70" text-anchor="end" class="tk">26</text>
<text x="337.73" y="444.40" text-anchor="middle" class="tk">0</text>
<text x="370.19" y="444.40" text-anchor="middle" class="tk">2000</text>
<text x="402.65" y="444.40" text-anchor="middle" class="tk">4000</text>
<text x="435.12" y="444.40" text-anchor="middle" class="tk">6000</text>
<text x="467.58" y="444.40" text-anchor="middle" class="tk">8000</text>
<text x="500.04" y="444.40" text-anchor="middle" class="tk">10,000</text>
<text x="532.50" y="444.40" text-anchor="middle" class="tk">12,000</text>
<text x="427.50" y="458.20" text-anchor="middle" class="at">Time(s)</text>
<text transform="translate(303.40,346.70) rotate(-90)" text-anchor="middle" class="at">E(mN/m)</text>
<path d="M353.50,431.6V433.20M386.50,431.6V433.20M418.50,431.6V433.20M451.50,431.6V433.20M483.50,431.6V433.20M516.50,431.6V433.20" stroke="#333" stroke-width="1.1" fill="none"/>
<path d="M321.5,493.6H532.5V663.3H321.5Z" fill="none" stroke="#333" stroke-width="1.15"/>
<path d="M318.30,663.50H321.5M318.30,645.50H321.5M318.30,627.50H321.5M318.30,609.50H321.5M318.30,591.50H321.5M318.30,573.50H321.5M318.30,556.50H321.5M318.30,538.50H321.5M318.30,520.50H321.5M318.30,502.50H321.5M337.50,663.3V666.50M370.50,663.3V666.50M402.50,663.3V666.50M435.50,663.3V666.50M467.50,663.3V666.50M500.50,663.3V666.50M532.50,663.3V666.50" stroke="#333" stroke-width="1.1" fill="none"/>
<text x="315.90" y="666.20" text-anchor="end" class="tk">2</text>
<text x="315.90" y="648.34" text-anchor="end" class="tk">4</text>
<text x="315.90" y="630.47" text-anchor="end" class="tk">6</text>
<text x="315.90" y="612.61" text-anchor="end" class="tk">8</text>
<text x="315.90" y="594.75" text-anchor="end" class="tk">10</text>
<text x="315.90" y="576.88" text-anchor="end" class="tk">12</text>
<text x="315.90" y="559.02" text-anchor="end" class="tk">14</text>
<text x="315.90" y="541.16" text-anchor="end" class="tk">16</text>
<text x="315.90" y="523.29" text-anchor="end" class="tk">18</text>
<text x="315.90" y="505.43" text-anchor="end" class="tk">20</text>
<text x="337.73" y="676.10" text-anchor="middle" class="tk">0</text>
<text x="370.19" y="676.10" text-anchor="middle" class="tk">2000</text>
<text x="402.65" y="676.10" text-anchor="middle" class="tk">4000</text>
<text x="435.12" y="676.10" text-anchor="middle" class="tk">6000</text>
<text x="467.58" y="676.10" text-anchor="middle" class="tk">8000</text>
<text x="500.04" y="676.10" text-anchor="middle" class="tk">10,000</text>
<text x="532.50" y="676.10" text-anchor="middle" class="tk">12,000</text>
<text x="427.50" y="689.90" text-anchor="middle" class="at">Time(s)</text>
<text transform="translate(303.40,578.45) rotate(-90)" text-anchor="middle" class="at">E(mN/m)</text>
<path d="M353.50,663.3V664.90M386.50,663.3V664.90M418.50,663.3V664.90M451.50,663.3V664.90M483.50,663.3V664.90M516.50,663.3V664.90" stroke="#333" stroke-width="1.1" fill="none"/>
<rect x="183.25" y="43.15" width="2.3" height="2.3" fill="#000"/>
<circle cx="184.40" cy="54.40" r="1.35" fill="#f00"/>
<text x="194.80" y="47.30" class="lg">7S-0.1%MDG</text>
<text x="194.80" y="57.30" class="lg">7S-0.5%MDG</text>
<rect x="180.75" y="273.15" width="2.3" height="2.3" fill="#000"/>
<circle cx="181.90" cy="284.40" r="1.35" fill="#f00"/>
<text x="193.00" y="277.30" class="lg">11S-0.1%MDG</text>
<text x="193.00" y="287.30" class="lg">11S-0.5%MDG</text>
<rect x="181.35" y="505.35" width="2.3" height="2.3" fill="#000"/>
<circle cx="182.50" cy="516.60" r="1.35" fill="#f00"/>
<text x="193.60" y="509.50" class="lg">2S-0.1%MDG</text>
<text x="193.60" y="519.50" class="lg">2S-0.5%MDG</text>
<rect x="461.05" y="42.15" width="2.7" height="2.7" fill="#000"/>
<circle cx="462.40" cy="53.60" r="1.55" fill="#f00"/>
<text x="473.90" y="46.50" class="lg">7S-0.1%MDG</text>
<text x="473.90" y="56.50" class="lg">7S-0.5%MDG</text>
<rect x="458.15" y="272.95" width="2.7" height="2.7" fill="#000"/>
<circle cx="459.50" cy="284.40" r="1.55" fill="#f00"/>
<text x="471.50" y="277.30" class="lg">11S-0.1%MDG</text>
<text x="471.50" y="287.30" class="lg">11S-0.5%MDG</text>
<rect x="460.15" y="504.95" width="2.7" height="2.7" fill="#000"/>
<circle cx="461.50" cy="516.40" r="1.55" fill="#f00"/>
<text x="473.00" y="509.30" class="lg">2S-0.1%MDG</text>
<text x="473.00" y="519.30" class="lg">2S-0.5%MDG</text>
<text x="2.6" y="17.1" class="pl">A1</text>
<text x="280.3" y="16.8" class="pl">A2</text>
<text x="4.6" y="247.6" class="pl">B1</text>
<text x="280.3" y="248.2" class="pl">B2</text>
<text x="2.4" y="482.2" class="pl">C1</text>
<text x="280.3" y="482.2" class="pl">C2</text>
</svg></div>
</body></html>
